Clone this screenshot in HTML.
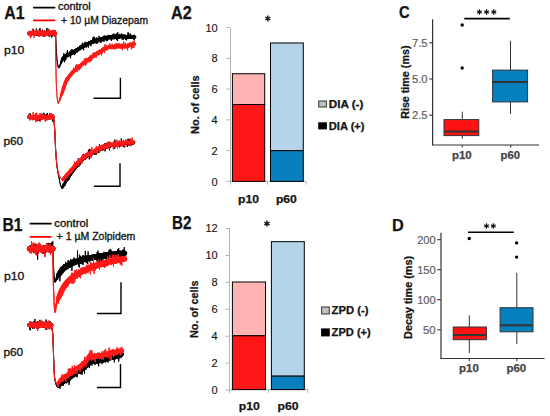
<!DOCTYPE html>
<html><head><meta charset="utf-8"><style>
html,body{margin:0;padding:0;background:#fff;width:550px;height:416px;overflow:hidden;}
body{position:relative;font-family:"Liberation Sans", sans-serif;}
</style></head><body>
<svg width="550" height="416" viewBox="0 0 550 416" style="position:absolute;left:0;top:0">
<g font-family="Liberation Sans, sans-serif">
<text x="4.3" y="18.9" font-size="17.6" font-weight="bold" fill="#141414" stroke="#141414" stroke-width="0.25" text-anchor="start" textLength="20.4" lengthAdjust="spacingAndGlyphs">A1</text>
<line x1="33.8" y1="7.6" x2="54.6" y2="7.6" stroke="#000" stroke-width="1.7" stroke-linecap="round"/>
<line x1="33.8" y1="20.4" x2="54.6" y2="20.4" stroke="#ff0000" stroke-width="1.7" stroke-linecap="round"/>
<text x="58.0" y="10.2" font-size="10.0" fill="#141414" stroke="#141414" stroke-width="0.32" text-anchor="start" textLength="32.7" lengthAdjust="spacingAndGlyphs">control</text>
<text x="61.0" y="23.5" font-size="10.0" fill="#141414" stroke="#141414" stroke-width="0.32" text-anchor="start" textLength="87" lengthAdjust="spacingAndGlyphs">+ 10 µM Diazepam</text>
<text x="3.9" y="54.2" font-size="11.4" fill="#141414" stroke="#141414" stroke-width="0.32" text-anchor="start" textLength="20.4" lengthAdjust="spacingAndGlyphs">p10</text>
<text x="3.4" y="145.4" font-size="11.4" fill="#141414" stroke="#141414" stroke-width="0.32" text-anchor="start" textLength="19.8" lengthAdjust="spacingAndGlyphs">p60</text>
<path d="M29.00,33.40 L29.20,33.40 L29.40,33.40 L29.60,33.40 L29.80,33.40 L30.00,33.40 L30.20,33.40 L30.40,33.40 L30.60,33.40 L30.80,33.40 L31.00,33.40" fill="none" stroke="#000" stroke-width="3.68" stroke-linecap="round" stroke-linejoin="round"/><path d="M31.00,33.40 L31.20,33.40 L31.40,33.40 L31.60,33.40 L31.80,33.40 L32.00,33.40 L32.20,33.40 L32.40,33.40 L32.60,33.40 L32.80,33.40 L33.00,33.40" fill="none" stroke="#000" stroke-width="3.68" stroke-linecap="round" stroke-linejoin="round"/><path d="M33.00,33.40 L33.20,33.40 L33.40,33.40 L33.60,33.40 L33.80,33.40 L34.00,33.40 L34.20,33.40 L34.40,33.40 L34.60,33.40 L34.80,33.40 L35.00,33.40" fill="none" stroke="#000" stroke-width="3.68" stroke-linecap="round" stroke-linejoin="round"/><path d="M35.00,33.40 L35.20,33.40 L35.40,33.40 L35.60,33.40 L35.80,33.40 L36.00,33.40 L36.20,33.40 L36.40,33.40 L36.60,33.40 L36.80,33.40 L37.00,33.40" fill="none" stroke="#000" stroke-width="3.68" stroke-linecap="round" stroke-linejoin="round"/><path d="M37.00,33.40 L37.20,33.40 L37.40,33.40 L37.60,33.40 L37.80,33.40 L38.00,33.40 L38.20,33.40 L38.40,33.40 L38.60,33.40 L38.80,33.40 L39.00,33.40" fill="none" stroke="#000" stroke-width="3.68" stroke-linecap="round" stroke-linejoin="round"/><path d="M39.00,33.40 L39.20,33.40 L39.40,33.40 L39.60,33.40 L39.80,33.40 L40.00,33.40 L40.20,33.40 L40.40,33.40 L40.60,33.40 L40.80,33.40 L41.00,33.40" fill="none" stroke="#000" stroke-width="3.68" stroke-linecap="round" stroke-linejoin="round"/><path d="M41.00,33.40 L41.20,33.40 L41.40,33.40 L41.60,33.40 L41.80,33.40 L42.00,33.40 L42.20,33.40 L42.40,33.40 L42.60,33.40 L42.80,33.40 L43.00,33.40" fill="none" stroke="#000" stroke-width="3.68" stroke-linecap="round" stroke-linejoin="round"/><path d="M43.00,33.40 L43.20,33.40 L43.40,33.40 L43.60,33.40 L43.80,33.40 L44.00,33.40 L44.20,33.40 L44.40,33.40 L44.60,33.40 L44.80,33.40 L45.00,33.40" fill="none" stroke="#000" stroke-width="3.68" stroke-linecap="round" stroke-linejoin="round"/><path d="M45.00,33.40 L45.20,33.40 L45.40,33.40 L45.60,33.40 L45.80,33.40 L46.00,33.40 L46.20,33.40 L46.40,33.40 L46.60,33.40 L46.80,33.40 L47.00,33.40" fill="none" stroke="#000" stroke-width="3.68" stroke-linecap="round" stroke-linejoin="round"/><path d="M47.00,33.40 L47.20,33.40 L47.40,33.40 L47.60,33.40 L47.80,33.40 L48.00,33.40 L48.20,33.40 L48.40,33.40 L48.60,33.40 L48.80,33.40 L49.00,33.40" fill="none" stroke="#000" stroke-width="3.68" stroke-linecap="round" stroke-linejoin="round"/><path d="M49.00,33.40 L49.20,33.40 L49.40,33.40 L49.60,33.40 L49.80,33.40 L50.00,33.40 L50.20,33.40 L50.40,33.40 L50.60,33.40 L50.80,33.40 L51.00,33.40" fill="none" stroke="#000" stroke-width="3.68" stroke-linecap="round" stroke-linejoin="round"/><path d="M51.00,33.40 L51.20,33.40 L51.40,33.40 L51.60,33.40 L51.80,33.40 L52.00,33.40 L52.20,33.40 L52.40,33.40 L52.60,33.40 L52.80,33.40 L53.00,33.40" fill="none" stroke="#000" stroke-width="3.68" stroke-linecap="round" stroke-linejoin="round"/><path d="M53.00,33.40 L53.20,33.40 L53.40,33.40 L53.60,33.40 L53.80,33.40 L54.00,33.40 L54.20,33.40 L54.40,33.40 L54.60,33.40 L54.80,33.40 L55.00,33.40" fill="none" stroke="#000" stroke-width="3.68" stroke-linecap="round" stroke-linejoin="round"/><path d="M55.00,33.40 L55.20,33.40 L55.40,33.40" fill="none" stroke="#000" stroke-width="3.68" stroke-linecap="round" stroke-linejoin="round"/><path d="M55.40,33.40 L55.60,33.40 L55.80,38.92 L56.00,43.96 L56.20,48.24 L56.40,51.59 L56.60,54.60" fill="none" stroke="#000" stroke-width="0.81" stroke-linecap="round" stroke-linejoin="round"/><path d="M56.60,54.60 L56.80,57.32 L57.00,59.68 L57.20,61.59 L57.40,63.00 L57.60,64.11 L57.80,65.14" fill="none" stroke="#000" stroke-width="0.81" stroke-linecap="round" stroke-linejoin="round"/><path d="M57.80,65.14 L58.00,66.05 L58.20,66.76 L58.40,67.23 L58.60,67.40 L58.80,67.36 L59.00,67.23" fill="none" stroke="#000" stroke-width="0.81" stroke-linecap="round" stroke-linejoin="round"/><path d="M59.00,67.23 L59.20,67.03 L59.40,66.75 L59.60,66.42 L59.80,66.03 L60.00,65.60 L60.20,65.13" fill="none" stroke="#000" stroke-width="1.29" stroke-linecap="round" stroke-linejoin="round"/><path d="M60.20,65.13 L60.40,64.62 L60.60,64.09 L60.80,63.54 L61.00,62.98 L61.20,62.42 L61.40,61.86" fill="none" stroke="#000" stroke-width="1.47" stroke-linecap="round" stroke-linejoin="round"/><path d="M61.40,61.86 L61.60,61.32 L61.80,60.79 L62.00,60.28 L62.20,59.81 L62.40,59.38 L62.60,59.00" fill="none" stroke="#000" stroke-width="2.58" stroke-linecap="round" stroke-linejoin="round"/><path d="M62.60,59.00 L62.80,58.67 L63.00,58.41 L63.20,58.20 L63.40,58.01 L63.60,57.83 L63.80,57.65" fill="none" stroke="#000" stroke-width="3.68" stroke-linecap="round" stroke-linejoin="round"/><path d="M63.80,57.65 L64.00,57.48 L64.20,57.31 L64.40,57.15 L64.60,57.00 L64.80,56.85 L65.00,56.70" fill="none" stroke="#000" stroke-width="3.68" stroke-linecap="round" stroke-linejoin="round"/><path d="M65.00,56.70 L65.20,56.56 L65.40,56.42 L65.60,56.29 L65.80,56.16 L66.00,56.04 L66.20,55.92" fill="none" stroke="#000" stroke-width="3.68" stroke-linecap="round" stroke-linejoin="round"/><path d="M66.20,55.92 L66.40,55.80 L66.60,55.69 L66.80,55.58 L67.00,55.47 L67.20,55.36 L67.40,55.26" fill="none" stroke="#000" stroke-width="3.68" stroke-linecap="round" stroke-linejoin="round"/><path d="M67.40,55.26 L67.60,55.15 L67.80,55.05 L68.00,54.95 L68.20,54.86 L68.40,54.76 L68.60,54.67" fill="none" stroke="#000" stroke-width="3.68" stroke-linecap="round" stroke-linejoin="round"/><path d="M68.60,54.67 L68.80,54.57 L69.00,54.48 L69.20,54.38 L69.40,54.29 L69.60,54.19 L69.80,54.10" fill="none" stroke="#000" stroke-width="3.68" stroke-linecap="round" stroke-linejoin="round"/><path d="M69.80,54.10 L70.00,54.01 L70.20,53.91 L70.40,53.81 L70.60,53.71 L70.80,53.62 L71.00,53.51" fill="none" stroke="#000" stroke-width="3.68" stroke-linecap="round" stroke-linejoin="round"/><path d="M71.00,53.51 L71.20,53.41 L71.40,53.31 L71.60,53.20 L71.80,53.09 L72.00,52.98 L72.20,52.86" fill="none" stroke="#000" stroke-width="3.68" stroke-linecap="round" stroke-linejoin="round"/><path d="M72.20,52.86 L72.40,52.74 L72.60,52.62 L72.80,52.50 L73.00,52.38 L73.20,52.26 L73.40,52.14" fill="none" stroke="#000" stroke-width="3.68" stroke-linecap="round" stroke-linejoin="round"/><path d="M73.40,52.14 L73.60,52.02 L73.80,51.90 L74.00,51.78 L74.20,51.66 L74.40,51.54 L74.60,51.42" fill="none" stroke="#000" stroke-width="3.68" stroke-linecap="round" stroke-linejoin="round"/><path d="M74.60,51.42 L74.80,51.30 L75.00,51.18 L75.20,51.05 L75.40,50.93 L75.60,50.81 L75.80,50.69" fill="none" stroke="#000" stroke-width="3.68" stroke-linecap="round" stroke-linejoin="round"/><path d="M75.80,50.69 L76.00,50.57 L76.20,50.45 L76.40,50.33 L76.60,50.21 L76.80,50.09 L77.00,49.97" fill="none" stroke="#000" stroke-width="3.68" stroke-linecap="round" stroke-linejoin="round"/><path d="M77.00,49.97 L77.20,49.85 L77.40,49.73 L77.60,49.61 L77.80,49.49 L78.00,49.37 L78.20,49.25" fill="none" stroke="#000" stroke-width="3.68" stroke-linecap="round" stroke-linejoin="round"/><path d="M78.20,49.25 L78.40,49.13 L78.60,49.01 L78.80,48.90 L79.00,48.78 L79.20,48.66 L79.40,48.54" fill="none" stroke="#000" stroke-width="3.68" stroke-linecap="round" stroke-linejoin="round"/><path d="M79.40,48.54 L79.60,48.43 L79.80,48.31 L80.00,48.20 L80.20,48.08 L80.40,47.97 L80.60,47.85" fill="none" stroke="#000" stroke-width="3.68" stroke-linecap="round" stroke-linejoin="round"/><path d="M80.60,47.85 L80.80,47.74 L81.00,47.62 L81.20,47.51 L81.40,47.40 L81.60,47.29 L81.80,47.18" fill="none" stroke="#000" stroke-width="3.68" stroke-linecap="round" stroke-linejoin="round"/><path d="M81.80,47.18 L82.00,47.06 L82.20,46.95 L82.40,46.84 L82.60,46.72 L82.80,46.61 L83.00,46.50" fill="none" stroke="#000" stroke-width="3.68" stroke-linecap="round" stroke-linejoin="round"/><path d="M83.00,46.50 L83.20,46.38 L83.40,46.27 L83.60,46.15 L83.80,46.04 L84.00,45.93 L84.20,45.81" fill="none" stroke="#000" stroke-width="3.68" stroke-linecap="round" stroke-linejoin="round"/><path d="M84.20,45.81 L84.40,45.70 L84.60,45.59 L84.80,45.47 L85.00,45.36 L85.20,45.25 L85.40,45.14" fill="none" stroke="#000" stroke-width="3.68" stroke-linecap="round" stroke-linejoin="round"/><path d="M85.40,45.14 L85.60,45.03 L85.80,44.92 L86.00,44.81 L86.20,44.70 L86.40,44.59 L86.60,44.48" fill="none" stroke="#000" stroke-width="3.68" stroke-linecap="round" stroke-linejoin="round"/><path d="M86.60,44.48 L86.80,44.37 L87.00,44.27 L87.20,44.16 L87.40,44.06 L87.60,43.95 L87.80,43.85" fill="none" stroke="#000" stroke-width="3.68" stroke-linecap="round" stroke-linejoin="round"/><path d="M87.80,43.85 L88.00,43.75 L88.20,43.65 L88.40,43.55 L88.60,43.45 L88.80,43.36 L89.00,43.26" fill="none" stroke="#000" stroke-width="3.68" stroke-linecap="round" stroke-linejoin="round"/><path d="M89.00,43.26 L89.20,43.17 L89.40,43.08 L89.60,42.99 L89.80,42.90 L90.00,42.81 L90.20,42.73" fill="none" stroke="#000" stroke-width="3.68" stroke-linecap="round" stroke-linejoin="round"/><path d="M90.20,42.73 L90.40,42.64 L90.60,42.56 L90.80,42.48 L91.00,42.40 L91.20,42.32 L91.40,42.24" fill="none" stroke="#000" stroke-width="3.68" stroke-linecap="round" stroke-linejoin="round"/><path d="M91.40,42.24 L91.60,42.16 L91.80,42.08 L92.00,42.00 L92.20,41.92 L92.40,41.85 L92.60,41.77" fill="none" stroke="#000" stroke-width="3.68" stroke-linecap="round" stroke-linejoin="round"/><path d="M92.60,41.77 L92.80,41.70 L93.00,41.62 L93.20,41.55 L93.40,41.48 L93.60,41.40 L93.80,41.33" fill="none" stroke="#000" stroke-width="3.68" stroke-linecap="round" stroke-linejoin="round"/><path d="M93.80,41.33 L94.00,41.26 L94.20,41.19 L94.40,41.12 L94.60,41.05 L94.80,40.98 L95.00,40.91" fill="none" stroke="#000" stroke-width="3.68" stroke-linecap="round" stroke-linejoin="round"/><path d="M95.00,40.91 L95.20,40.84 L95.40,40.78 L95.60,40.71 L95.80,40.65 L96.00,40.58 L96.20,40.52" fill="none" stroke="#000" stroke-width="3.68" stroke-linecap="round" stroke-linejoin="round"/><path d="M96.20,40.52 L96.40,40.45 L96.60,40.39 L96.80,40.33 L97.00,40.26 L97.20,40.20 L97.40,40.14" fill="none" stroke="#000" stroke-width="3.68" stroke-linecap="round" stroke-linejoin="round"/><path d="M97.40,40.14 L97.60,40.08 L97.80,40.02 L98.00,39.96 L98.20,39.90 L98.40,39.84 L98.60,39.79" fill="none" stroke="#000" stroke-width="3.68" stroke-linecap="round" stroke-linejoin="round"/><path d="M98.60,39.79 L98.80,39.73 L99.00,39.67 L99.20,39.62 L99.40,39.56 L99.60,39.51 L99.80,39.45" fill="none" stroke="#000" stroke-width="3.68" stroke-linecap="round" stroke-linejoin="round"/><path d="M99.80,39.45 L100.00,39.40 L100.20,39.35 L100.40,39.29 L100.60,39.24 L100.80,39.19 L101.00,39.13" fill="none" stroke="#000" stroke-width="3.68" stroke-linecap="round" stroke-linejoin="round"/><path d="M101.00,39.13 L101.20,39.08 L101.40,39.02 L101.60,38.97 L101.80,38.92 L102.00,38.86 L102.20,38.81" fill="none" stroke="#000" stroke-width="3.68" stroke-linecap="round" stroke-linejoin="round"/><path d="M102.20,38.81 L102.40,38.76 L102.60,38.70 L102.80,38.65 L103.00,38.60 L103.20,38.55 L103.40,38.50" fill="none" stroke="#000" stroke-width="3.68" stroke-linecap="round" stroke-linejoin="round"/><path d="M103.40,38.50 L103.60,38.44 L103.80,38.39 L104.00,38.34 L104.20,38.29 L104.40,38.24 L104.60,38.20" fill="none" stroke="#000" stroke-width="3.68" stroke-linecap="round" stroke-linejoin="round"/><path d="M104.60,38.20 L104.80,38.15 L105.00,38.10 L105.20,38.05 L105.40,38.01 L105.60,37.96 L105.80,37.92" fill="none" stroke="#000" stroke-width="3.68" stroke-linecap="round" stroke-linejoin="round"/><path d="M105.80,37.92 L106.00,37.87 L106.20,37.83 L106.40,37.79 L106.60,37.74 L106.80,37.70 L107.00,37.66" fill="none" stroke="#000" stroke-width="3.68" stroke-linecap="round" stroke-linejoin="round"/><path d="M107.00,37.66 L107.20,37.62 L107.40,37.59 L107.60,37.55 L107.80,37.51 L108.00,37.48 L108.20,37.45" fill="none" stroke="#000" stroke-width="3.68" stroke-linecap="round" stroke-linejoin="round"/><path d="M108.20,37.45 L108.40,37.41 L108.60,37.38 L108.80,37.35 L109.00,37.32 L109.20,37.30 L109.40,37.27" fill="none" stroke="#000" stroke-width="3.68" stroke-linecap="round" stroke-linejoin="round"/><path d="M109.40,37.27 L109.60,37.25 L109.80,37.22 L110.00,37.20 L110.20,37.18 L110.40,37.16 L110.60,37.14" fill="none" stroke="#000" stroke-width="3.68" stroke-linecap="round" stroke-linejoin="round"/><path d="M110.60,37.14 L110.80,37.12 L111.00,37.09 L111.20,37.07 L111.40,37.05 L111.60,37.03 L111.80,37.01" fill="none" stroke="#000" stroke-width="3.68" stroke-linecap="round" stroke-linejoin="round"/><path d="M111.80,37.01 L112.00,36.99 L112.20,36.97 L112.40,36.95 L112.60,36.93 L112.80,36.91 L113.00,36.89" fill="none" stroke="#000" stroke-width="3.68" stroke-linecap="round" stroke-linejoin="round"/><path d="M113.00,36.89 L113.20,36.87 L113.40,36.85 L113.60,36.84 L113.80,36.82 L114.00,36.80 L114.20,36.78" fill="none" stroke="#000" stroke-width="3.68" stroke-linecap="round" stroke-linejoin="round"/><path d="M114.20,36.78 L114.40,36.77 L114.60,36.75 L114.80,36.73 L115.00,36.72 L115.20,36.70 L115.40,36.69" fill="none" stroke="#000" stroke-width="3.68" stroke-linecap="round" stroke-linejoin="round"/><path d="M115.40,36.69 L115.60,36.67 L115.80,36.66 L116.00,36.64 L116.20,36.63 L116.40,36.62 L116.60,36.61" fill="none" stroke="#000" stroke-width="3.68" stroke-linecap="round" stroke-linejoin="round"/><path d="M116.60,36.61 L116.80,36.60 L117.00,36.58 L117.20,36.57 L117.40,36.56 L117.60,36.56 L117.80,36.55" fill="none" stroke="#000" stroke-width="3.68" stroke-linecap="round" stroke-linejoin="round"/><path d="M117.80,36.55 L118.00,36.54 L118.20,36.53 L118.40,36.53 L118.60,36.52 L118.80,36.51 L119.00,36.51" fill="none" stroke="#000" stroke-width="3.68" stroke-linecap="round" stroke-linejoin="round"/><path d="M119.00,36.51 L119.20,36.51 L119.40,36.50 L119.60,36.50 L119.80,36.50 L120.00,36.50 L120.20,36.50" fill="none" stroke="#000" stroke-width="3.68" stroke-linecap="round" stroke-linejoin="round"/><path d="M120.20,36.50 L120.40,36.50 L120.60,36.51 L120.80,36.51 L121.00,36.51 L121.20,36.52 L121.40,36.53" fill="none" stroke="#000" stroke-width="3.68" stroke-linecap="round" stroke-linejoin="round"/><path d="M121.40,36.53 L121.60,36.53 L121.80,36.54 L122.00,36.55 L122.20,36.56 L122.40,36.57 L122.60,36.58" fill="none" stroke="#000" stroke-width="3.68" stroke-linecap="round" stroke-linejoin="round"/><path d="M122.60,36.58 L122.80,36.60 L123.00,36.61 L123.20,36.62 L123.40,36.63 L123.60,36.65 L123.80,36.66" fill="none" stroke="#000" stroke-width="3.68" stroke-linecap="round" stroke-linejoin="round"/><path d="M123.80,36.66 L124.00,36.68 L124.20,36.69 L124.40,36.71 L124.60,36.72 L124.80,36.74 L125.00,36.75" fill="none" stroke="#000" stroke-width="3.68" stroke-linecap="round" stroke-linejoin="round"/><path d="M125.00,36.75 L125.20,36.76 L125.40,36.78 L125.60,36.79 L125.80,36.81 L126.00,36.82 L126.20,36.84" fill="none" stroke="#000" stroke-width="3.68" stroke-linecap="round" stroke-linejoin="round"/><path d="M126.20,36.84 L126.40,36.85 L126.60,36.87 L126.80,36.88 L127.00,36.89 L127.20,36.90 L127.40,36.92" fill="none" stroke="#000" stroke-width="3.68" stroke-linecap="round" stroke-linejoin="round"/><path d="M127.40,36.92 L127.60,36.93 L127.80,36.94 L128.00,36.95 L128.20,36.96 L128.40,36.97 L128.60,36.97" fill="none" stroke="#000" stroke-width="3.68" stroke-linecap="round" stroke-linejoin="round"/><path d="M128.60,36.97 L128.80,36.98 L129.00,36.99 L129.20,36.99 L129.40,36.99 L129.60,37.00 L129.80,37.00" fill="none" stroke="#000" stroke-width="3.68" stroke-linecap="round" stroke-linejoin="round"/><path d="M129.80,37.00 L130.00,37.00 L130.20,37.00 L130.40,37.00 L130.60,37.00 L130.80,37.00 L131.00,37.00" fill="none" stroke="#000" stroke-width="3.68" stroke-linecap="round" stroke-linejoin="round"/><path d="M131.00,37.00 L131.20,37.00 L131.40,37.00 L131.60,37.00 L131.80,37.00 L132.00,37.00 L132.20,37.00" fill="none" stroke="#000" stroke-width="3.68" stroke-linecap="round" stroke-linejoin="round"/><path d="M132.20,37.00 L132.40,37.00 L132.60,37.00 L132.80,37.00 L133.00,37.00 L133.20,37.00 L133.40,37.00" fill="none" stroke="#000" stroke-width="3.68" stroke-linecap="round" stroke-linejoin="round"/><path d="M133.40,37.00 L133.60,37.00 L133.80,37.00 L134.00,37.00 L134.20,37.00 L134.40,37.00 L134.60,37.00" fill="none" stroke="#000" stroke-width="3.68" stroke-linecap="round" stroke-linejoin="round"/>
<path d="M29.00,32.90 L29.20,35.21 L29.40,33.85 L29.60,31.01 L29.80,32.36 L30.00,33.69 L30.20,31.90 L30.40,34.79 L30.60,35.19 L30.80,32.98 L31.00,31.41 L31.20,30.97 L31.40,31.88 L31.60,32.35 L31.80,33.76 L32.00,33.65 L32.20,33.82 L32.40,34.90 L32.60,32.05 L32.80,34.86 L33.00,31.61 L33.20,28.78 L33.40,34.07 L33.60,31.43 L33.80,30.94 L34.00,32.86 L34.20,32.70 L34.40,34.00 L34.60,33.63 L34.80,32.67 L35.00,33.52 L35.20,30.45 L35.40,31.40 L35.60,32.13 L35.80,34.12 L36.00,31.33 L36.20,33.57 L36.40,28.62 L36.60,35.65 L36.80,32.09 L37.00,32.69 L37.20,35.78 L37.40,32.51 L37.60,34.69 L37.80,34.99 L38.00,35.18 L38.20,31.74 L38.40,31.42 L38.60,34.21 L38.80,36.87 L39.00,34.19 L39.20,34.21 L39.40,29.04 L39.60,34.22 L39.80,32.34 L40.00,28.07 L40.20,35.46 L40.40,30.67 L40.60,33.83 L40.80,32.92 L41.00,35.74 L41.20,33.53 L41.40,34.64 L41.60,34.24 L41.80,35.41 L42.00,32.00 L42.20,32.58 L42.40,29.65 L42.60,34.65 L42.80,32.64 L43.00,34.79 L43.20,32.60 L43.40,36.63 L43.60,33.07 L43.80,31.55 L44.00,36.11 L44.20,36.38 L44.40,36.88 L44.60,34.31 L44.80,31.25 L45.00,32.45 L45.20,34.01 L45.40,31.29 L45.60,32.70 L45.80,35.16 L46.00,34.52 L46.20,31.29 L46.40,32.28 L46.60,32.11 L46.80,30.91 L47.00,27.94 L47.20,34.72 L47.40,34.54 L47.60,34.18 L47.80,31.68 L48.00,34.58 L48.20,32.21 L48.40,28.81 L48.60,30.97 L48.80,32.37 L49.00,36.62 L49.20,36.61 L49.40,34.69 L49.60,33.96 L49.80,35.62 L50.00,33.79 L50.20,33.06 L50.40,34.22 L50.60,34.01 L50.80,36.31 L51.00,34.44 L51.20,35.29 L51.40,32.01 L51.60,37.41 L51.80,30.98 L52.00,36.73 L52.20,33.50 L52.40,31.39 L52.60,32.73 L52.80,36.05 L53.00,32.57 L53.20,31.84 L53.40,33.49 L53.60,33.95 L53.80,33.54 L54.00,29.89 L54.20,33.45 L54.40,33.45 L54.60,32.57 L54.80,31.98 L55.00,37.03 L55.20,33.41 L55.40,34.21 L55.60,32.87 L55.80,39.13 L56.00,43.97 L56.20,48.52 L56.40,51.82 L56.60,54.71 L56.80,57.45 L57.00,59.96 L57.20,61.57 L57.40,63.21 L57.60,64.31 L57.80,64.91 L58.00,66.88 L58.20,67.01 L58.40,67.79 L58.60,67.46 L58.80,68.22 L59.00,67.58 L59.20,67.48 L59.40,66.56 L59.60,66.85 L59.80,66.48 L60.00,65.98 L60.20,63.86 L60.40,63.47 L60.60,63.86 L60.80,61.76 L61.00,62.03 L61.20,63.92 L61.40,63.63 L61.60,59.56 L61.80,61.76 L62.00,59.11 L62.20,59.75 L62.40,58.71 L62.60,59.70 L62.80,60.85 L63.00,57.18 L63.20,58.31 L63.40,58.34 L63.60,57.32 L63.80,53.25 L64.00,55.56 L64.20,58.04 L64.40,62.31 L64.60,59.48 L64.80,54.83 L65.00,59.71 L65.20,60.97 L65.40,57.90 L65.60,55.88 L65.80,59.90 L66.00,54.58 L66.20,54.63 L66.40,52.77 L66.60,57.27 L66.80,56.83 L67.00,54.78 L67.20,56.67 L67.40,50.12 L67.60,56.51 L67.80,53.17 L68.00,56.43 L68.20,53.54 L68.40,53.36 L68.60,54.34 L68.80,55.28 L69.00,54.90 L69.20,54.67 L69.40,53.95 L69.60,52.22 L69.80,51.13 L70.00,53.55 L70.20,55.72 L70.40,57.62 L70.60,58.27 L70.80,51.49 L71.00,50.14 L71.20,51.25 L71.40,49.71 L71.60,53.08 L71.80,54.63 L72.00,49.20 L72.20,55.09 L72.40,51.99 L72.60,51.27 L72.80,53.62 L73.00,53.77 L73.20,50.70 L73.40,51.72 L73.60,51.80 L73.80,50.00 L74.00,49.80 L74.20,55.09 L74.40,55.02 L74.60,54.88 L74.80,53.77 L75.00,49.37 L75.20,54.20 L75.40,52.62 L75.60,52.60 L75.80,48.65 L76.00,48.43 L76.20,50.55 L76.40,48.84 L76.60,48.95 L76.80,51.68 L77.00,52.67 L77.20,48.56 L77.40,49.18 L77.60,51.13 L77.80,48.59 L78.00,47.19 L78.20,47.19 L78.40,51.23 L78.60,50.99 L78.80,48.48 L79.00,50.40 L79.20,47.87 L79.40,47.29 L79.60,46.47 L79.80,49.64 L80.00,45.18 L80.20,45.11 L80.40,48.42 L80.60,49.19 L80.80,47.65 L81.00,47.61 L81.20,46.51 L81.40,46.71 L81.60,45.11 L81.80,44.44 L82.00,45.83 L82.20,47.58 L82.40,42.74 L82.60,45.26 L82.80,46.05 L83.00,46.14 L83.20,45.41 L83.40,46.40 L83.60,50.28 L83.80,45.15 L84.00,44.73 L84.20,42.79 L84.40,45.47 L84.60,45.16 L84.80,47.66 L85.00,45.27 L85.20,41.78 L85.40,44.05 L85.60,44.96 L85.80,46.67 L86.00,43.47 L86.20,44.48 L86.40,44.82 L86.60,47.45 L86.80,46.89 L87.00,43.04 L87.20,43.24 L87.40,43.40 L87.60,44.41 L87.80,44.54 L88.00,46.43 L88.20,43.80 L88.40,47.55 L88.60,44.94 L88.80,41.11 L89.00,41.48 L89.20,41.25 L89.40,44.19 L89.60,43.19 L89.80,44.09 L90.00,41.62 L90.20,42.94 L90.40,41.21 L90.60,40.26 L90.80,45.54 L91.00,46.30 L91.20,40.32 L91.40,41.80 L91.60,42.01 L91.80,42.64 L92.00,41.93 L92.20,43.24 L92.40,41.26 L92.60,38.62 L92.80,41.57 L93.00,43.30 L93.20,36.83 L93.40,40.41 L93.60,42.37 L93.80,43.56 L94.00,39.18 L94.20,36.67 L94.40,42.79 L94.60,40.36 L94.80,40.23 L95.00,41.16 L95.20,39.31 L95.40,42.89 L95.60,38.39 L95.80,40.95 L96.00,38.07 L96.20,43.89 L96.40,38.69 L96.60,41.93 L96.80,37.39 L97.00,40.72 L97.20,38.43 L97.40,40.97 L97.60,43.44 L97.80,39.00 L98.00,41.62 L98.20,41.65 L98.40,42.31 L98.60,40.31 L98.80,38.52 L99.00,35.86 L99.20,37.41 L99.40,37.34 L99.60,39.68 L99.80,39.54 L100.00,38.30 L100.20,42.25 L100.40,37.63 L100.60,38.97 L100.80,43.02 L101.00,39.12 L101.20,39.57 L101.40,38.20 L101.60,41.62 L101.80,38.20 L102.00,38.88 L102.20,38.97 L102.40,41.22 L102.60,39.87 L102.80,37.56 L103.00,36.45 L103.20,36.86 L103.40,40.61 L103.60,38.92 L103.80,37.07 L104.00,41.86 L104.20,35.50 L104.40,37.93 L104.60,39.14 L104.80,38.60 L105.00,36.16 L105.20,35.64 L105.40,40.12 L105.60,39.21 L105.80,39.56 L106.00,37.39 L106.20,40.72 L106.40,39.21 L106.60,39.47 L106.80,41.19 L107.00,36.76 L107.20,40.82 L107.40,38.39 L107.60,40.71 L107.80,36.83 L108.00,34.92 L108.20,39.08 L108.40,36.87 L108.60,39.45 L108.80,38.52 L109.00,35.75 L109.20,36.32 L109.40,36.91 L109.60,38.32 L109.80,35.47 L110.00,39.53 L110.20,39.03 L110.40,37.96 L110.60,35.07 L110.80,38.29 L111.00,39.78 L111.20,35.77 L111.40,40.93 L111.60,35.79 L111.80,35.02 L112.00,39.73 L112.20,38.44 L112.40,34.29 L112.60,37.23 L112.80,36.86 L113.00,38.86 L113.20,37.55 L113.40,35.35 L113.60,38.96 L113.80,33.56 L114.00,39.51 L114.20,36.59 L114.40,35.56 L114.60,37.10 L114.80,36.94 L115.00,37.87 L115.20,33.89 L115.40,36.37 L115.60,38.55 L115.80,39.04 L116.00,35.71 L116.20,38.14 L116.40,38.10 L116.60,40.12 L116.80,33.36 L117.00,38.20 L117.20,34.78 L117.40,37.78 L117.60,40.82 L117.80,32.28 L118.00,34.92 L118.20,38.69 L118.40,38.66 L118.60,37.84 L118.80,37.89 L119.00,37.00 L119.20,38.02 L119.40,37.92 L119.60,38.84 L119.80,33.93 L120.00,36.96 L120.20,35.29 L120.40,37.38 L120.60,37.35 L120.80,34.66 L121.00,36.89 L121.20,36.43 L121.40,35.23 L121.60,33.50 L121.80,38.07 L122.00,36.70 L122.20,39.69 L122.40,37.74 L122.60,37.84 L122.80,37.64 L123.00,34.24 L123.20,36.92 L123.40,39.89 L123.60,36.54 L123.80,36.59 L124.00,37.24 L124.20,37.66 L124.40,35.81 L124.60,37.82 L124.80,34.64 L125.00,36.42 L125.20,34.58 L125.40,36.96 L125.60,39.75 L125.80,35.50 L126.00,39.48 L126.20,36.76 L126.40,39.80 L126.60,40.40 L126.80,37.79 L127.00,35.75 L127.20,36.41 L127.40,38.85 L127.60,36.97 L127.80,37.42 L128.00,32.30 L128.20,38.39 L128.40,32.87 L128.60,37.48 L128.80,34.49 L129.00,35.57 L129.20,38.25 L129.40,38.96 L129.60,34.81 L129.80,35.77 L130.00,35.26 L130.20,33.45 L130.40,35.83 L130.60,37.86 L130.80,34.60 L131.00,38.93 L131.20,36.32 L131.40,35.30 L131.60,37.66 L131.80,38.44 L132.00,37.56 L132.20,37.43 L132.40,38.16 L132.60,35.96 L132.80,36.29 L133.00,37.25 L133.20,37.30 L133.40,37.04 L133.60,36.82 L133.80,39.63 L134.00,34.77 L134.20,35.15 L134.40,40.49 L134.60,35.48" fill="none" stroke="#000" stroke-width="1.0" stroke-linejoin="round"/>
<path d="M29.00,33.40 L29.20,33.40 L29.40,33.40 L29.60,33.40 L29.80,33.40 L30.00,33.40 L30.20,33.40 L30.40,33.40 L30.60,33.40 L30.80,33.40 L31.00,33.40" fill="none" stroke="#ff1a1a" stroke-width="3.68" stroke-linecap="round" stroke-linejoin="round"/><path d="M31.00,33.40 L31.20,33.40 L31.40,33.40 L31.60,33.40 L31.80,33.40 L32.00,33.40 L32.20,33.40 L32.40,33.40 L32.60,33.40 L32.80,33.40 L33.00,33.40" fill="none" stroke="#ff1a1a" stroke-width="3.68" stroke-linecap="round" stroke-linejoin="round"/><path d="M33.00,33.40 L33.20,33.40 L33.40,33.40 L33.60,33.40 L33.80,33.40 L34.00,33.40 L34.20,33.40 L34.40,33.40 L34.60,33.40 L34.80,33.40 L35.00,33.40" fill="none" stroke="#ff1a1a" stroke-width="3.68" stroke-linecap="round" stroke-linejoin="round"/><path d="M35.00,33.40 L35.20,33.40 L35.40,33.40 L35.60,33.40 L35.80,33.40 L36.00,33.40 L36.20,33.40 L36.40,33.40 L36.60,33.40 L36.80,33.40 L37.00,33.40" fill="none" stroke="#ff1a1a" stroke-width="3.68" stroke-linecap="round" stroke-linejoin="round"/><path d="M37.00,33.40 L37.20,33.40 L37.40,33.40 L37.60,33.40 L37.80,33.40 L38.00,33.40 L38.20,33.40 L38.40,33.40 L38.60,33.40 L38.80,33.40 L39.00,33.40" fill="none" stroke="#ff1a1a" stroke-width="3.68" stroke-linecap="round" stroke-linejoin="round"/><path d="M39.00,33.40 L39.20,33.40 L39.40,33.40 L39.60,33.40 L39.80,33.40 L40.00,33.40 L40.20,33.40 L40.40,33.40 L40.60,33.40 L40.80,33.40 L41.00,33.40" fill="none" stroke="#ff1a1a" stroke-width="3.68" stroke-linecap="round" stroke-linejoin="round"/><path d="M41.00,33.40 L41.20,33.40 L41.40,33.40 L41.60,33.40 L41.80,33.40 L42.00,33.40 L42.20,33.40 L42.40,33.40 L42.60,33.40 L42.80,33.40 L43.00,33.40" fill="none" stroke="#ff1a1a" stroke-width="3.68" stroke-linecap="round" stroke-linejoin="round"/><path d="M43.00,33.40 L43.20,33.40 L43.40,33.40 L43.60,33.40 L43.80,33.40 L44.00,33.40 L44.20,33.40 L44.40,33.40 L44.60,33.40 L44.80,33.40 L45.00,33.40" fill="none" stroke="#ff1a1a" stroke-width="3.68" stroke-linecap="round" stroke-linejoin="round"/><path d="M45.00,33.40 L45.20,33.40 L45.40,33.40 L45.60,33.40 L45.80,33.40 L46.00,33.40 L46.20,33.40 L46.40,33.40 L46.60,33.40 L46.80,33.40 L47.00,33.40" fill="none" stroke="#ff1a1a" stroke-width="3.68" stroke-linecap="round" stroke-linejoin="round"/><path d="M47.00,33.40 L47.20,33.40 L47.40,33.40 L47.60,33.40 L47.80,33.40 L48.00,33.40 L48.20,33.40 L48.40,33.40 L48.60,33.40 L48.80,33.40 L49.00,33.40" fill="none" stroke="#ff1a1a" stroke-width="3.68" stroke-linecap="round" stroke-linejoin="round"/><path d="M49.00,33.40 L49.20,33.40 L49.40,33.40 L49.60,33.40 L49.80,33.40 L50.00,33.40 L50.20,33.40 L50.40,33.40 L50.60,33.40 L50.80,33.40 L51.00,33.40" fill="none" stroke="#ff1a1a" stroke-width="3.68" stroke-linecap="round" stroke-linejoin="round"/><path d="M51.00,33.40 L51.20,33.40 L51.40,33.40 L51.60,33.40 L51.80,33.40 L52.00,33.40 L52.20,33.40 L52.40,33.40 L52.60,33.40 L52.80,33.40 L53.00,33.40" fill="none" stroke="#ff1a1a" stroke-width="3.68" stroke-linecap="round" stroke-linejoin="round"/><path d="M53.00,33.40 L53.20,33.40 L53.40,33.40 L53.60,33.40 L53.80,33.40 L54.00,33.40 L54.20,33.40 L54.40,33.40 L54.60,33.40 L54.80,33.40 L55.00,33.40" fill="none" stroke="#ff1a1a" stroke-width="3.68" stroke-linecap="round" stroke-linejoin="round"/><path d="M55.00,33.40 L55.20,33.40 L55.40,33.40" fill="none" stroke="#ff1a1a" stroke-width="3.68" stroke-linecap="round" stroke-linejoin="round"/><path d="M55.40,33.40 L55.60,33.40 L55.80,60.00 L56.00,71.53 L56.20,80.06 L56.40,86.06 L56.60,90.00" fill="none" stroke="#ff1a1a" stroke-width="0.81" stroke-linecap="round" stroke-linejoin="round"/><path d="M56.60,90.00 L56.80,92.94 L57.00,95.60 L57.20,97.91 L57.40,99.83 L57.60,101.27 L57.80,102.18" fill="none" stroke="#ff1a1a" stroke-width="0.81" stroke-linecap="round" stroke-linejoin="round"/><path d="M57.80,102.18 L58.00,102.50 L58.20,102.45 L58.40,102.32 L58.60,102.10 L58.80,101.81 L59.00,101.45" fill="none" stroke="#ff1a1a" stroke-width="0.81" stroke-linecap="round" stroke-linejoin="round"/><path d="M59.00,101.45 L59.20,101.03 L59.40,100.57 L59.60,100.06 L59.80,99.51 L60.00,98.94 L60.20,98.34" fill="none" stroke="#ff1a1a" stroke-width="1.47" stroke-linecap="round" stroke-linejoin="round"/><path d="M60.20,98.34 L60.40,97.73 L60.60,97.12 L60.80,96.51 L61.00,95.91 L61.20,95.33 L61.40,94.77" fill="none" stroke="#ff1a1a" stroke-width="2.02" stroke-linecap="round" stroke-linejoin="round"/><path d="M61.40,94.77 L61.60,94.23 L61.80,93.68 L62.00,93.11 L62.20,92.52 L62.40,91.91 L62.60,91.29" fill="none" stroke="#ff1a1a" stroke-width="3.13" stroke-linecap="round" stroke-linejoin="round"/><path d="M62.60,91.29 L62.80,90.67 L63.00,90.05 L63.20,89.42 L63.40,88.81 L63.60,88.19 L63.80,87.56" fill="none" stroke="#ff1a1a" stroke-width="3.68" stroke-linecap="round" stroke-linejoin="round"/><path d="M63.80,87.56 L64.00,86.92 L64.20,86.28 L64.40,85.66 L64.60,85.06 L64.80,84.50 L65.00,83.97" fill="none" stroke="#ff1a1a" stroke-width="3.68" stroke-linecap="round" stroke-linejoin="round"/><path d="M65.00,83.97 L65.20,83.45 L65.40,82.94 L65.60,82.45 L65.80,81.97 L66.00,81.52 L66.20,81.09" fill="none" stroke="#ff1a1a" stroke-width="3.68" stroke-linecap="round" stroke-linejoin="round"/><path d="M66.20,81.09 L66.40,80.69 L66.60,80.32 L66.80,79.96 L67.00,79.63 L67.20,79.31 L67.40,79.00" fill="none" stroke="#ff1a1a" stroke-width="3.68" stroke-linecap="round" stroke-linejoin="round"/><path d="M67.40,79.00 L67.60,78.71 L67.80,78.42 L68.00,78.14 L68.20,77.86 L68.40,77.58 L68.60,77.30" fill="none" stroke="#ff1a1a" stroke-width="3.68" stroke-linecap="round" stroke-linejoin="round"/><path d="M68.60,77.30 L68.80,77.02 L69.00,76.74 L69.20,76.46 L69.40,76.18 L69.60,75.91 L69.80,75.63" fill="none" stroke="#ff1a1a" stroke-width="3.68" stroke-linecap="round" stroke-linejoin="round"/><path d="M69.80,75.63 L70.00,75.37 L70.20,75.10 L70.40,74.84 L70.60,74.59 L70.80,74.33 L71.00,74.09" fill="none" stroke="#ff1a1a" stroke-width="3.68" stroke-linecap="round" stroke-linejoin="round"/><path d="M71.00,74.09 L71.20,73.85 L71.40,73.61 L71.60,73.39 L71.80,73.16 L72.00,72.94 L72.20,72.73" fill="none" stroke="#ff1a1a" stroke-width="3.68" stroke-linecap="round" stroke-linejoin="round"/><path d="M72.20,72.73 L72.40,72.52 L72.60,72.31 L72.80,72.11 L73.00,71.91 L73.20,71.71 L73.40,71.51" fill="none" stroke="#ff1a1a" stroke-width="3.68" stroke-linecap="round" stroke-linejoin="round"/><path d="M73.40,71.51 L73.60,71.32 L73.80,71.12 L74.00,70.93 L74.20,70.75 L74.40,70.56 L74.60,70.37" fill="none" stroke="#ff1a1a" stroke-width="3.68" stroke-linecap="round" stroke-linejoin="round"/><path d="M74.60,70.37 L74.80,70.19 L75.00,70.00 L75.20,69.82 L75.40,69.63 L75.60,69.45 L75.80,69.27" fill="none" stroke="#ff1a1a" stroke-width="3.68" stroke-linecap="round" stroke-linejoin="round"/><path d="M75.80,69.27 L76.00,69.10 L76.20,68.92 L76.40,68.75 L76.60,68.57 L76.80,68.40 L77.00,68.23" fill="none" stroke="#ff1a1a" stroke-width="3.68" stroke-linecap="round" stroke-linejoin="round"/><path d="M77.00,68.23 L77.20,68.06 L77.40,67.90 L77.60,67.73 L77.80,67.56 L78.00,67.40 L78.20,67.24" fill="none" stroke="#ff1a1a" stroke-width="3.68" stroke-linecap="round" stroke-linejoin="round"/><path d="M78.20,67.24 L78.40,67.08 L78.60,66.92 L78.80,66.76 L79.00,66.60 L79.20,66.44 L79.40,66.28" fill="none" stroke="#ff1a1a" stroke-width="3.68" stroke-linecap="round" stroke-linejoin="round"/><path d="M79.40,66.28 L79.60,66.13 L79.80,65.98 L80.00,65.82 L80.20,65.67 L80.40,65.52 L80.60,65.37" fill="none" stroke="#ff1a1a" stroke-width="3.68" stroke-linecap="round" stroke-linejoin="round"/><path d="M80.60,65.37 L80.80,65.21 L81.00,65.06 L81.20,64.91 L81.40,64.76 L81.60,64.61 L81.80,64.47" fill="none" stroke="#ff1a1a" stroke-width="3.68" stroke-linecap="round" stroke-linejoin="round"/><path d="M81.80,64.47 L82.00,64.32 L82.20,64.17 L82.40,64.02 L82.60,63.87 L82.80,63.72 L83.00,63.57" fill="none" stroke="#ff1a1a" stroke-width="3.68" stroke-linecap="round" stroke-linejoin="round"/><path d="M83.00,63.57 L83.20,63.43 L83.40,63.28 L83.60,63.13 L83.80,62.98 L84.00,62.83 L84.20,62.68" fill="none" stroke="#ff1a1a" stroke-width="3.68" stroke-linecap="round" stroke-linejoin="round"/><path d="M84.20,62.68 L84.40,62.53 L84.60,62.38 L84.80,62.22 L85.00,62.07 L85.20,61.92 L85.40,61.77" fill="none" stroke="#ff1a1a" stroke-width="3.68" stroke-linecap="round" stroke-linejoin="round"/><path d="M85.40,61.77 L85.60,61.61 L85.80,61.46 L86.00,61.30 L86.20,61.15 L86.40,61.00 L86.60,60.84" fill="none" stroke="#ff1a1a" stroke-width="3.68" stroke-linecap="round" stroke-linejoin="round"/><path d="M86.60,60.84 L86.80,60.69 L87.00,60.53 L87.20,60.38 L87.40,60.22 L87.60,60.07 L87.80,59.91" fill="none" stroke="#ff1a1a" stroke-width="3.68" stroke-linecap="round" stroke-linejoin="round"/><path d="M87.80,59.91 L88.00,59.76 L88.20,59.61 L88.40,59.45 L88.60,59.30 L88.80,59.15 L89.00,59.00" fill="none" stroke="#ff1a1a" stroke-width="3.68" stroke-linecap="round" stroke-linejoin="round"/><path d="M89.00,59.00 L89.20,58.84 L89.40,58.69 L89.60,58.54 L89.80,58.39 L90.00,58.25 L90.20,58.10" fill="none" stroke="#ff1a1a" stroke-width="3.68" stroke-linecap="round" stroke-linejoin="round"/><path d="M90.20,58.10 L90.40,57.95 L90.60,57.80 L90.80,57.66 L91.00,57.51 L91.20,57.37 L91.40,57.23" fill="none" stroke="#ff1a1a" stroke-width="3.68" stroke-linecap="round" stroke-linejoin="round"/><path d="M91.40,57.23 L91.60,57.09 L91.80,56.94 L92.00,56.80 L92.20,56.66 L92.40,56.51 L92.60,56.37" fill="none" stroke="#ff1a1a" stroke-width="3.68" stroke-linecap="round" stroke-linejoin="round"/><path d="M92.60,56.37 L92.80,56.23 L93.00,56.08 L93.20,55.94 L93.40,55.80 L93.60,55.65 L93.80,55.51" fill="none" stroke="#ff1a1a" stroke-width="3.68" stroke-linecap="round" stroke-linejoin="round"/><path d="M93.80,55.51 L94.00,55.37 L94.20,55.23 L94.40,55.09 L94.60,54.94 L94.80,54.80 L95.00,54.66" fill="none" stroke="#ff1a1a" stroke-width="3.68" stroke-linecap="round" stroke-linejoin="round"/><path d="M95.00,54.66 L95.20,54.52 L95.40,54.39 L95.60,54.25 L95.80,54.11 L96.00,53.97 L96.20,53.84" fill="none" stroke="#ff1a1a" stroke-width="3.68" stroke-linecap="round" stroke-linejoin="round"/><path d="M96.20,53.84 L96.40,53.70 L96.60,53.57 L96.80,53.44 L97.00,53.31 L97.20,53.18 L97.40,53.05" fill="none" stroke="#ff1a1a" stroke-width="3.68" stroke-linecap="round" stroke-linejoin="round"/><path d="M97.40,53.05 L97.60,52.92 L97.80,52.79 L98.00,52.67 L98.20,52.54 L98.40,52.42 L98.60,52.30" fill="none" stroke="#ff1a1a" stroke-width="3.68" stroke-linecap="round" stroke-linejoin="round"/><path d="M98.60,52.30 L98.80,52.18 L99.00,52.06 L99.20,51.95 L99.40,51.83 L99.60,51.72 L99.80,51.61" fill="none" stroke="#ff1a1a" stroke-width="3.68" stroke-linecap="round" stroke-linejoin="round"/><path d="M99.80,51.61 L100.00,51.50 L100.20,51.39 L100.40,51.28 L100.60,51.17 L100.80,51.06 L101.00,50.95" fill="none" stroke="#ff1a1a" stroke-width="3.68" stroke-linecap="round" stroke-linejoin="round"/><path d="M101.00,50.95 L101.20,50.83 L101.40,50.72 L101.60,50.60 L101.80,50.49 L102.00,50.38 L102.20,50.26" fill="none" stroke="#ff1a1a" stroke-width="3.68" stroke-linecap="round" stroke-linejoin="round"/><path d="M102.20,50.26 L102.40,50.14 L102.60,50.03 L102.80,49.92 L103.00,49.80 L103.20,49.69 L103.40,49.57" fill="none" stroke="#ff1a1a" stroke-width="3.68" stroke-linecap="round" stroke-linejoin="round"/><path d="M103.40,49.57 L103.60,49.46 L103.80,49.35 L104.00,49.24 L104.20,49.13 L104.40,49.02 L104.60,48.92" fill="none" stroke="#ff1a1a" stroke-width="3.68" stroke-linecap="round" stroke-linejoin="round"/><path d="M104.60,48.92 L104.80,48.81 L105.00,48.71 L105.20,48.61 L105.40,48.51 L105.60,48.41 L105.80,48.31" fill="none" stroke="#ff1a1a" stroke-width="3.68" stroke-linecap="round" stroke-linejoin="round"/><path d="M105.80,48.31 L106.00,48.22 L106.20,48.13 L106.40,48.04 L106.60,47.95 L106.80,47.87 L107.00,47.79" fill="none" stroke="#ff1a1a" stroke-width="3.68" stroke-linecap="round" stroke-linejoin="round"/><path d="M107.00,47.79 L107.20,47.71 L107.40,47.64 L107.60,47.56 L107.80,47.50 L108.00,47.43 L108.20,47.37" fill="none" stroke="#ff1a1a" stroke-width="3.68" stroke-linecap="round" stroke-linejoin="round"/><path d="M108.20,47.37 L108.40,47.31 L108.60,47.26 L108.80,47.21 L109.00,47.16 L109.20,47.12 L109.40,47.08" fill="none" stroke="#ff1a1a" stroke-width="3.68" stroke-linecap="round" stroke-linejoin="round"/><path d="M109.40,47.08 L109.60,47.05 L109.80,47.02 L110.00,47.00 L110.20,46.98 L110.40,46.96 L110.60,46.94" fill="none" stroke="#ff1a1a" stroke-width="3.68" stroke-linecap="round" stroke-linejoin="round"/><path d="M110.60,46.94 L110.80,46.92 L111.00,46.90 L111.20,46.89 L111.40,46.87 L111.60,46.85 L111.80,46.84" fill="none" stroke="#ff1a1a" stroke-width="3.68" stroke-linecap="round" stroke-linejoin="round"/><path d="M111.80,46.84 L112.00,46.82 L112.20,46.81 L112.40,46.79 L112.60,46.78 L112.80,46.76 L113.00,46.75" fill="none" stroke="#ff1a1a" stroke-width="3.68" stroke-linecap="round" stroke-linejoin="round"/><path d="M113.00,46.75 L113.20,46.74 L113.40,46.73 L113.60,46.72 L113.80,46.70 L114.00,46.69 L114.20,46.68" fill="none" stroke="#ff1a1a" stroke-width="3.68" stroke-linecap="round" stroke-linejoin="round"/><path d="M114.20,46.68 L114.40,46.67 L114.60,46.66 L114.80,46.65 L115.00,46.64 L115.20,46.63 L115.40,46.62" fill="none" stroke="#ff1a1a" stroke-width="3.68" stroke-linecap="round" stroke-linejoin="round"/><path d="M115.40,46.62 L115.60,46.61 L115.80,46.60 L116.00,46.59 L116.20,46.58 L116.40,46.58 L116.60,46.57" fill="none" stroke="#ff1a1a" stroke-width="3.68" stroke-linecap="round" stroke-linejoin="round"/><path d="M116.60,46.57 L116.80,46.56 L117.00,46.55 L117.20,46.54 L117.40,46.53 L117.60,46.52 L117.80,46.51" fill="none" stroke="#ff1a1a" stroke-width="3.68" stroke-linecap="round" stroke-linejoin="round"/><path d="M117.80,46.51 L118.00,46.50 L118.20,46.49 L118.40,46.48 L118.60,46.47 L118.80,46.46 L119.00,46.45" fill="none" stroke="#ff1a1a" stroke-width="3.68" stroke-linecap="round" stroke-linejoin="round"/><path d="M119.00,46.45 L119.20,46.44 L119.40,46.43 L119.60,46.42 L119.80,46.41 L120.00,46.40 L120.20,46.39" fill="none" stroke="#ff1a1a" stroke-width="3.68" stroke-linecap="round" stroke-linejoin="round"/><path d="M120.20,46.39 L120.40,46.38 L120.60,46.37 L120.80,46.36 L121.00,46.35 L121.20,46.34 L121.40,46.33" fill="none" stroke="#ff1a1a" stroke-width="3.68" stroke-linecap="round" stroke-linejoin="round"/><path d="M121.40,46.33 L121.60,46.32 L121.80,46.31 L122.00,46.30 L122.20,46.30 L122.40,46.29 L122.60,46.28" fill="none" stroke="#ff1a1a" stroke-width="3.68" stroke-linecap="round" stroke-linejoin="round"/><path d="M122.60,46.28 L122.80,46.27 L123.00,46.26 L123.20,46.25 L123.40,46.25 L123.60,46.24 L123.80,46.23" fill="none" stroke="#ff1a1a" stroke-width="3.68" stroke-linecap="round" stroke-linejoin="round"/><path d="M123.80,46.23 L124.00,46.22 L124.20,46.21 L124.40,46.20 L124.60,46.19 L124.80,46.18 L125.00,46.16" fill="none" stroke="#ff1a1a" stroke-width="3.68" stroke-linecap="round" stroke-linejoin="round"/><path d="M125.00,46.16 L125.20,46.15 L125.40,46.14 L125.60,46.12 L125.80,46.11 L126.00,46.09 L126.20,46.08" fill="none" stroke="#ff1a1a" stroke-width="3.68" stroke-linecap="round" stroke-linejoin="round"/><path d="M126.20,46.08 L126.40,46.06 L126.60,46.04 L126.80,46.02 L127.00,46.00 L127.20,45.97 L127.40,45.93" fill="none" stroke="#ff1a1a" stroke-width="3.68" stroke-linecap="round" stroke-linejoin="round"/><path d="M127.40,45.93 L127.60,45.88 L127.80,45.82 L128.00,45.74 L128.20,45.67 L128.40,45.58 L128.60,45.49" fill="none" stroke="#ff1a1a" stroke-width="3.68" stroke-linecap="round" stroke-linejoin="round"/><path d="M128.60,45.49 L128.80,45.40 L129.00,45.30 L129.20,45.20 L129.40,45.11 L129.60,45.01 L129.80,44.92" fill="none" stroke="#ff1a1a" stroke-width="3.68" stroke-linecap="round" stroke-linejoin="round"/><path d="M129.80,44.92 L130.00,44.83 L130.20,44.75 L130.40,44.67 L130.60,44.60 L130.80,44.55 L131.00,44.50" fill="none" stroke="#ff1a1a" stroke-width="3.68" stroke-linecap="round" stroke-linejoin="round"/><path d="M131.00,44.50 L131.20,44.46 L131.40,44.42 L131.60,44.38 L131.80,44.34 L132.00,44.30 L132.20,44.27" fill="none" stroke="#ff1a1a" stroke-width="3.68" stroke-linecap="round" stroke-linejoin="round"/><path d="M132.20,44.27 L132.40,44.23 L132.60,44.20 L132.80,44.17 L133.00,44.14 L133.20,44.11 L133.40,44.09" fill="none" stroke="#ff1a1a" stroke-width="3.68" stroke-linecap="round" stroke-linejoin="round"/><path d="M133.40,44.09 L133.60,44.06 L133.80,44.04 L134.00,44.03 L134.20,44.01 L134.40,44.00" fill="none" stroke="#ff1a1a" stroke-width="3.68" stroke-linecap="round" stroke-linejoin="round"/>
<path d="M29.00,30.54 L29.20,33.97 L29.40,36.27 L29.60,34.87 L29.80,35.19 L30.00,33.32 L30.20,33.06 L30.40,31.51 L30.60,38.27 L30.80,32.53 L31.00,32.66 L31.20,32.26 L31.40,36.57 L31.60,36.50 L31.80,30.94 L32.00,34.78 L32.20,33.94 L32.40,28.88 L32.60,31.46 L32.80,32.42 L33.00,32.93 L33.20,32.45 L33.40,34.57 L33.60,33.42 L33.80,33.92 L34.00,38.10 L34.20,36.48 L34.40,32.05 L34.60,34.82 L34.80,31.63 L35.00,31.52 L35.20,35.72 L35.40,31.33 L35.60,32.26 L35.80,33.88 L36.00,31.99 L36.20,34.09 L36.40,29.95 L36.60,34.77 L36.80,31.34 L37.00,31.72 L37.20,32.92 L37.40,34.09 L37.60,29.91 L37.80,33.13 L38.00,34.36 L38.20,32.61 L38.40,33.81 L38.60,36.70 L38.80,30.71 L39.00,33.40 L39.20,36.05 L39.40,34.76 L39.60,31.43 L39.80,30.24 L40.00,33.70 L40.20,32.19 L40.40,34.00 L40.60,33.54 L40.80,35.62 L41.00,29.96 L41.20,34.62 L41.40,32.54 L41.60,31.20 L41.80,32.75 L42.00,36.25 L42.20,34.49 L42.40,34.53 L42.60,30.97 L42.80,30.58 L43.00,33.14 L43.20,36.20 L43.40,32.43 L43.60,33.15 L43.80,36.29 L44.00,33.41 L44.20,32.67 L44.40,29.91 L44.60,32.01 L44.80,34.47 L45.00,37.00 L45.20,30.67 L45.40,32.35 L45.60,32.04 L45.80,33.56 L46.00,34.76 L46.20,35.84 L46.40,35.59 L46.60,33.27 L46.80,36.03 L47.00,35.65 L47.20,35.26 L47.40,31.18 L47.60,34.73 L47.80,33.23 L48.00,35.28 L48.20,29.26 L48.40,32.88 L48.60,34.43 L48.80,31.80 L49.00,34.70 L49.20,33.60 L49.40,34.03 L49.60,29.59 L49.80,33.43 L50.00,31.73 L50.20,35.84 L50.40,34.67 L50.60,31.63 L50.80,30.41 L51.00,35.17 L51.20,35.00 L51.40,30.08 L51.60,35.59 L51.80,33.40 L52.00,32.31 L52.20,35.20 L52.40,33.28 L52.60,32.35 L52.80,29.92 L53.00,32.70 L53.20,32.89 L53.40,35.01 L53.60,31.56 L53.80,30.38 L54.00,36.10 L54.20,30.87 L54.40,31.30 L54.60,33.07 L54.80,30.87 L55.00,33.48 L55.20,29.96 L55.40,31.98 L55.60,33.15 L55.80,60.40 L56.00,70.99 L56.20,80.23 L56.40,86.19 L56.60,90.60 L56.80,92.03 L57.00,95.46 L57.20,97.64 L57.40,100.07 L57.60,101.66 L57.80,102.04 L58.00,103.09 L58.20,103.86 L58.40,103.29 L58.60,103.22 L58.80,103.22 L59.00,102.05 L59.20,101.59 L59.40,99.89 L59.60,100.54 L59.80,98.13 L60.00,98.45 L60.20,100.26 L60.40,96.77 L60.60,97.80 L60.80,98.37 L61.00,95.43 L61.20,94.70 L61.40,96.32 L61.60,94.49 L61.80,91.85 L62.00,91.45 L62.20,91.09 L62.40,91.37 L62.60,87.98 L62.80,93.80 L63.00,87.86 L63.20,91.24 L63.40,89.58 L63.60,87.16 L63.80,84.27 L64.00,86.03 L64.20,87.35 L64.40,84.48 L64.60,85.18 L64.80,84.86 L65.00,83.06 L65.20,82.98 L65.40,84.16 L65.60,83.34 L65.80,77.68 L66.00,83.37 L66.20,80.53 L66.40,83.98 L66.60,80.41 L66.80,78.28 L67.00,79.61 L67.20,78.37 L67.40,79.06 L67.60,81.26 L67.80,76.72 L68.00,79.38 L68.20,78.96 L68.40,78.93 L68.60,76.13 L68.80,80.93 L69.00,75.88 L69.20,74.51 L69.40,76.82 L69.60,78.44 L69.80,77.27 L70.00,75.15 L70.20,76.05 L70.40,76.08 L70.60,72.84 L70.80,73.37 L71.00,72.36 L71.20,74.24 L71.40,72.72 L71.60,73.81 L71.80,72.50 L72.00,70.41 L72.20,72.32 L72.40,75.43 L72.60,74.64 L72.80,72.84 L73.00,71.69 L73.20,72.27 L73.40,72.17 L73.60,70.04 L73.80,67.74 L74.00,73.13 L74.20,71.91 L74.40,68.38 L74.60,70.59 L74.80,69.07 L75.00,69.75 L75.20,69.94 L75.40,71.94 L75.60,65.31 L75.80,71.35 L76.00,66.26 L76.20,67.43 L76.40,70.59 L76.60,67.03 L76.80,64.08 L77.00,72.28 L77.20,68.31 L77.40,69.05 L77.60,67.16 L77.80,70.36 L78.00,64.75 L78.20,69.47 L78.40,66.37 L78.60,69.09 L78.80,65.40 L79.00,64.76 L79.20,70.26 L79.40,66.57 L79.60,67.47 L79.80,68.55 L80.00,64.36 L80.20,64.70 L80.40,67.16 L80.60,65.69 L80.80,68.70 L81.00,64.67 L81.20,65.39 L81.40,62.71 L81.60,65.82 L81.80,63.91 L82.00,62.06 L82.20,64.93 L82.40,61.23 L82.60,64.18 L82.80,63.80 L83.00,64.04 L83.20,63.31 L83.40,62.36 L83.60,63.23 L83.80,63.23 L84.00,61.70 L84.20,61.01 L84.40,58.51 L84.60,62.89 L84.80,59.49 L85.00,61.62 L85.20,61.40 L85.40,64.01 L85.60,65.75 L85.80,60.33 L86.00,57.85 L86.20,63.20 L86.40,59.65 L86.60,64.34 L86.80,58.89 L87.00,61.59 L87.20,61.57 L87.40,59.42 L87.60,59.92 L87.80,59.41 L88.00,61.12 L88.20,62.27 L88.40,60.22 L88.60,59.96 L88.80,59.92 L89.00,59.23 L89.20,59.94 L89.40,57.55 L89.60,59.73 L89.80,62.50 L90.00,56.04 L90.20,55.26 L90.40,58.46 L90.60,59.71 L90.80,61.30 L91.00,59.60 L91.20,61.04 L91.40,56.94 L91.60,58.29 L91.80,56.57 L92.00,58.77 L92.20,56.25 L92.40,59.43 L92.60,55.85 L92.80,54.25 L93.00,53.76 L93.20,56.51 L93.40,52.18 L93.60,57.95 L93.80,55.01 L94.00,55.50 L94.20,54.13 L94.40,57.05 L94.60,53.83 L94.80,55.80 L95.00,57.87 L95.20,52.28 L95.40,53.59 L95.60,53.72 L95.80,52.75 L96.00,55.29 L96.20,55.36 L96.40,57.45 L96.60,55.38 L96.80,53.92 L97.00,51.41 L97.20,55.22 L97.40,52.85 L97.60,53.38 L97.80,53.66 L98.00,53.44 L98.20,51.40 L98.40,52.37 L98.60,55.27 L98.80,53.32 L99.00,51.88 L99.20,50.22 L99.40,54.95 L99.60,51.55 L99.80,51.11 L100.00,53.62 L100.20,52.70 L100.40,54.18 L100.60,53.47 L100.80,52.73 L101.00,49.71 L101.20,49.88 L101.40,48.76 L101.60,55.38 L101.80,48.03 L102.00,51.53 L102.20,53.34 L102.40,52.00 L102.60,49.86 L102.80,49.13 L103.00,47.09 L103.20,49.91 L103.40,47.96 L103.60,48.04 L103.80,47.43 L104.00,51.03 L104.20,47.27 L104.40,48.48 L104.60,53.21 L104.80,44.30 L105.00,50.78 L105.20,49.70 L105.40,49.92 L105.60,46.69 L105.80,46.65 L106.00,44.83 L106.20,47.23 L106.40,47.46 L106.60,47.27 L106.80,50.44 L107.00,47.61 L107.20,47.83 L107.40,49.55 L107.60,46.28 L107.80,47.53 L108.00,47.21 L108.20,46.91 L108.40,47.87 L108.60,45.36 L108.80,47.95 L109.00,47.29 L109.20,46.79 L109.40,45.20 L109.60,43.79 L109.80,47.34 L110.00,43.55 L110.20,48.37 L110.40,45.06 L110.60,45.37 L110.80,48.03 L111.00,46.76 L111.20,49.13 L111.40,49.20 L111.60,45.95 L111.80,46.33 L112.00,45.61 L112.20,43.71 L112.40,47.84 L112.60,46.50 L112.80,47.38 L113.00,47.93 L113.20,49.46 L113.40,48.37 L113.60,48.46 L113.80,48.16 L114.00,45.63 L114.20,45.56 L114.40,44.45 L114.60,48.32 L114.80,44.83 L115.00,49.46 L115.20,46.67 L115.40,44.45 L115.60,46.34 L115.80,47.84 L116.00,42.89 L116.20,43.80 L116.40,45.13 L116.60,46.01 L116.80,47.55 L117.00,47.64 L117.20,48.55 L117.40,43.51 L117.60,44.83 L117.80,45.98 L118.00,47.41 L118.20,47.89 L118.40,43.43 L118.60,45.68 L118.80,48.14 L119.00,47.66 L119.20,46.03 L119.40,43.34 L119.60,45.92 L119.80,46.26 L120.00,48.42 L120.20,44.46 L120.40,47.23 L120.60,45.71 L120.80,48.18 L121.00,48.19 L121.20,48.91 L121.40,43.37 L121.60,45.58 L121.80,46.98 L122.00,47.81 L122.20,43.86 L122.40,46.15 L122.60,50.42 L122.80,44.46 L123.00,45.35 L123.20,46.93 L123.40,43.29 L123.60,41.56 L123.80,45.30 L124.00,44.96 L124.20,44.08 L124.40,48.83 L124.60,45.53 L124.80,44.43 L125.00,47.83 L125.20,42.36 L125.40,43.14 L125.60,48.16 L125.80,45.47 L126.00,45.15 L126.20,47.36 L126.40,47.50 L126.60,45.86 L126.80,48.50 L127.00,48.25 L127.20,47.21 L127.40,43.62 L127.60,50.41 L127.80,43.48 L128.00,46.13 L128.20,45.40 L128.40,46.52 L128.60,47.98 L128.80,47.43 L129.00,45.99 L129.20,45.02 L129.40,43.45 L129.60,43.86 L129.80,42.41 L130.00,46.20 L130.20,43.85 L130.40,43.11 L130.60,43.02 L130.80,43.04 L131.00,42.87 L131.20,44.66 L131.40,49.23 L131.60,44.69 L131.80,47.69 L132.00,46.02 L132.20,42.64 L132.40,41.95 L132.60,43.31 L132.80,48.26 L133.00,41.72 L133.20,41.66 L133.40,44.72 L133.60,43.70 L133.80,48.00 L134.00,40.83 L134.20,43.50 L134.40,44.11" fill="none" stroke="#ff1a1a" stroke-width="1.0" stroke-linejoin="round"/>
<path d="M28.90,117.00 L29.10,117.00 L29.30,117.00 L29.50,117.00 L29.70,117.00 L29.90,117.00 L30.10,117.00 L30.30,117.00 L30.50,117.00 L30.70,117.00 L30.90,117.00" fill="none" stroke="#000" stroke-width="3.68" stroke-linecap="round" stroke-linejoin="round"/><path d="M30.90,117.00 L31.10,117.00 L31.30,117.00 L31.50,117.00 L31.70,117.00 L31.90,117.00 L32.10,117.00 L32.30,117.00 L32.50,117.00 L32.70,117.00 L32.90,117.00" fill="none" stroke="#000" stroke-width="3.68" stroke-linecap="round" stroke-linejoin="round"/><path d="M32.90,117.00 L33.10,117.00 L33.30,117.00 L33.50,117.00 L33.70,117.00 L33.90,117.00 L34.10,117.00 L34.30,117.00 L34.50,117.00 L34.70,117.00 L34.90,117.00" fill="none" stroke="#000" stroke-width="3.68" stroke-linecap="round" stroke-linejoin="round"/><path d="M34.90,117.00 L35.10,117.00 L35.30,117.00 L35.50,117.00 L35.70,117.00 L35.90,117.00 L36.10,117.00 L36.30,117.00 L36.50,117.00 L36.70,117.00 L36.90,117.00" fill="none" stroke="#000" stroke-width="3.68" stroke-linecap="round" stroke-linejoin="round"/><path d="M36.90,117.00 L37.10,117.00 L37.30,117.00 L37.50,117.00 L37.70,117.00 L37.90,117.00 L38.10,117.00 L38.30,117.00 L38.50,117.00 L38.70,117.00 L38.90,117.00" fill="none" stroke="#000" stroke-width="3.68" stroke-linecap="round" stroke-linejoin="round"/><path d="M38.90,117.00 L39.10,117.00 L39.30,117.00 L39.50,117.00 L39.70,117.00 L39.90,117.00 L40.10,117.00 L40.30,117.00 L40.50,117.00 L40.70,117.00 L40.90,117.00" fill="none" stroke="#000" stroke-width="3.68" stroke-linecap="round" stroke-linejoin="round"/><path d="M40.90,117.00 L41.10,117.00 L41.30,117.00 L41.50,117.00 L41.70,117.00 L41.90,117.00 L42.10,117.00 L42.30,117.00 L42.50,117.00 L42.70,117.00 L42.90,117.00" fill="none" stroke="#000" stroke-width="3.68" stroke-linecap="round" stroke-linejoin="round"/><path d="M42.90,117.00 L43.10,117.00 L43.30,117.00 L43.50,117.00 L43.70,117.00 L43.90,117.00 L44.10,117.00 L44.30,117.00 L44.50,117.00 L44.70,117.00 L44.90,117.00" fill="none" stroke="#000" stroke-width="3.68" stroke-linecap="round" stroke-linejoin="round"/><path d="M44.90,117.00 L45.10,117.00 L45.30,117.00 L45.50,117.00 L45.70,117.00 L45.90,117.00 L46.10,117.00 L46.30,117.00 L46.50,117.00 L46.70,117.00 L46.90,117.00" fill="none" stroke="#000" stroke-width="3.68" stroke-linecap="round" stroke-linejoin="round"/><path d="M46.90,117.00 L47.10,117.00 L47.30,117.00 L47.50,117.00 L47.70,117.00 L47.90,117.00 L48.10,117.00 L48.30,117.00 L48.50,117.00 L48.70,117.00 L48.90,117.00" fill="none" stroke="#000" stroke-width="3.68" stroke-linecap="round" stroke-linejoin="round"/><path d="M48.90,117.00 L49.10,117.00 L49.30,117.00 L49.50,117.00 L49.70,117.00 L49.90,117.00 L50.10,117.00 L50.30,117.00 L50.50,117.00 L50.70,117.00 L50.90,117.00" fill="none" stroke="#000" stroke-width="3.68" stroke-linecap="round" stroke-linejoin="round"/><path d="M50.90,117.00 L51.10,117.00 L51.30,117.00 L51.50,117.00 L51.70,117.00 L51.90,117.00 L52.10,117.00 L52.30,117.00 L52.50,117.00 L52.70,117.00 L52.90,117.00" fill="none" stroke="#000" stroke-width="3.68" stroke-linecap="round" stroke-linejoin="round"/><path d="M52.90,117.00 L53.10,117.00" fill="none" stroke="#000" stroke-width="3.68" stroke-linecap="round" stroke-linejoin="round"/><path d="M53.10,117.00 L53.30,117.00 L53.50,117.57 L53.70,118.66 L53.90,120.18 L54.10,122.02 L54.30,124.09" fill="none" stroke="#000" stroke-width="0.81" stroke-linecap="round" stroke-linejoin="round"/><path d="M54.30,124.09 L54.50,126.30 L54.70,129.26 L54.90,133.32 L55.10,138.00 L55.30,142.79 L55.50,147.22" fill="none" stroke="#000" stroke-width="0.81" stroke-linecap="round" stroke-linejoin="round"/><path d="M55.50,147.22 L55.70,150.80 L55.90,153.71 L56.10,156.44 L56.30,158.99 L56.50,161.35 L56.70,163.50" fill="none" stroke="#000" stroke-width="0.81" stroke-linecap="round" stroke-linejoin="round"/><path d="M56.70,163.50 L56.90,165.42 L57.10,167.10 L57.30,168.61 L57.50,170.01 L57.70,171.32 L57.90,172.54" fill="none" stroke="#000" stroke-width="0.81" stroke-linecap="round" stroke-linejoin="round"/><path d="M57.90,172.54 L58.10,173.68 L58.30,174.76 L58.50,175.78 L58.70,176.75 L58.90,177.67 L59.10,178.56" fill="none" stroke="#000" stroke-width="0.81" stroke-linecap="round" stroke-linejoin="round"/><path d="M59.10,178.56 L59.30,179.44 L59.50,180.35 L59.70,181.28 L59.90,182.23 L60.10,183.16 L60.30,184.06" fill="none" stroke="#000" stroke-width="0.81" stroke-linecap="round" stroke-linejoin="round"/><path d="M60.30,184.06 L60.50,184.91 L60.70,185.69 L60.90,186.39 L61.10,186.99 L61.30,187.47 L61.50,187.80" fill="none" stroke="#000" stroke-width="0.81" stroke-linecap="round" stroke-linejoin="round"/><path d="M61.50,187.80 L61.70,187.98 L61.90,187.99 L62.10,187.88 L62.30,187.69 L62.50,187.42 L62.70,187.09" fill="none" stroke="#000" stroke-width="0.81" stroke-linecap="round" stroke-linejoin="round"/><path d="M62.70,187.09 L62.90,186.71 L63.10,186.31 L63.30,185.88 L63.50,185.46 L63.70,185.05 L63.90,184.67" fill="none" stroke="#000" stroke-width="2.76" stroke-linecap="round" stroke-linejoin="round"/><path d="M63.90,184.67 L64.10,184.33 L64.30,183.98 L64.50,183.63 L64.70,183.27 L64.90,182.91 L65.10,182.54" fill="none" stroke="#000" stroke-width="2.76" stroke-linecap="round" stroke-linejoin="round"/><path d="M65.10,182.54 L65.30,182.17 L65.50,181.81 L65.70,181.45 L65.90,181.09 L66.10,180.74 L66.30,180.40" fill="none" stroke="#000" stroke-width="2.94" stroke-linecap="round" stroke-linejoin="round"/><path d="M66.30,180.40 L66.50,180.07 L66.70,179.74 L66.90,179.41 L67.10,179.08 L67.30,178.76 L67.50,178.43" fill="none" stroke="#000" stroke-width="3.68" stroke-linecap="round" stroke-linejoin="round"/><path d="M67.50,178.43 L67.70,178.12 L67.90,177.80 L68.10,177.48 L68.30,177.17 L68.50,176.86 L68.70,176.55" fill="none" stroke="#000" stroke-width="3.68" stroke-linecap="round" stroke-linejoin="round"/><path d="M68.70,176.55 L68.90,176.24 L69.10,175.94 L69.30,175.64 L69.50,175.33 L69.70,175.03 L69.90,174.74" fill="none" stroke="#000" stroke-width="3.68" stroke-linecap="round" stroke-linejoin="round"/><path d="M69.90,174.74 L70.10,174.44 L70.30,174.15 L70.50,173.85 L70.70,173.56 L70.90,173.27 L71.10,172.98" fill="none" stroke="#000" stroke-width="3.68" stroke-linecap="round" stroke-linejoin="round"/><path d="M71.10,172.98 L71.30,172.70 L71.50,172.41 L71.70,172.12 L71.90,171.84 L72.10,171.56 L72.30,171.28" fill="none" stroke="#000" stroke-width="3.68" stroke-linecap="round" stroke-linejoin="round"/><path d="M72.30,171.28 L72.50,171.00 L72.70,170.72 L72.90,170.44 L73.10,170.17 L73.30,169.90 L73.50,169.62" fill="none" stroke="#000" stroke-width="3.68" stroke-linecap="round" stroke-linejoin="round"/><path d="M73.50,169.62 L73.70,169.35 L73.90,169.08 L74.10,168.82 L74.30,168.55 L74.50,168.29 L74.70,168.03" fill="none" stroke="#000" stroke-width="3.68" stroke-linecap="round" stroke-linejoin="round"/><path d="M74.70,168.03 L74.90,167.77 L75.10,167.51 L75.30,167.25 L75.50,167.00 L75.70,166.75 L75.90,166.49" fill="none" stroke="#000" stroke-width="3.68" stroke-linecap="round" stroke-linejoin="round"/><path d="M75.90,166.49 L76.10,166.24 L76.30,165.99 L76.50,165.74 L76.70,165.49 L76.90,165.24 L77.10,164.99" fill="none" stroke="#000" stroke-width="3.68" stroke-linecap="round" stroke-linejoin="round"/><path d="M77.10,164.99 L77.30,164.74 L77.50,164.49 L77.70,164.25 L77.90,164.01 L78.10,163.77 L78.30,163.53" fill="none" stroke="#000" stroke-width="3.68" stroke-linecap="round" stroke-linejoin="round"/><path d="M78.30,163.53 L78.50,163.29 L78.70,163.06 L78.90,162.83 L79.10,162.60 L79.30,162.38 L79.50,162.15" fill="none" stroke="#000" stroke-width="3.68" stroke-linecap="round" stroke-linejoin="round"/><path d="M79.50,162.15 L79.70,161.94 L79.90,161.72 L80.10,161.51 L80.30,161.30 L80.50,161.10 L80.70,160.90" fill="none" stroke="#000" stroke-width="3.68" stroke-linecap="round" stroke-linejoin="round"/><path d="M80.70,160.90 L80.90,160.70 L81.10,160.51 L81.30,160.31 L81.50,160.12 L81.70,159.93 L81.90,159.75" fill="none" stroke="#000" stroke-width="3.68" stroke-linecap="round" stroke-linejoin="round"/><path d="M81.90,159.75 L82.10,159.56 L82.30,159.38 L82.50,159.20 L82.70,159.02 L82.90,158.84 L83.10,158.66" fill="none" stroke="#000" stroke-width="3.68" stroke-linecap="round" stroke-linejoin="round"/><path d="M83.10,158.66 L83.30,158.49 L83.50,158.32 L83.70,158.15 L83.90,157.99 L84.10,157.82 L84.30,157.66" fill="none" stroke="#000" stroke-width="3.68" stroke-linecap="round" stroke-linejoin="round"/><path d="M84.30,157.66 L84.50,157.50 L84.70,157.35 L84.90,157.19 L85.10,157.04 L85.30,156.89 L85.50,156.74" fill="none" stroke="#000" stroke-width="3.68" stroke-linecap="round" stroke-linejoin="round"/><path d="M85.50,156.74 L85.70,156.60 L85.90,156.46 L86.10,156.32 L86.30,156.18 L86.50,156.05 L86.70,155.91" fill="none" stroke="#000" stroke-width="3.68" stroke-linecap="round" stroke-linejoin="round"/><path d="M86.70,155.91 L86.90,155.78 L87.10,155.65 L87.30,155.53 L87.50,155.40 L87.70,155.28 L87.90,155.15" fill="none" stroke="#000" stroke-width="3.68" stroke-linecap="round" stroke-linejoin="round"/><path d="M87.90,155.15 L88.10,155.03 L88.30,154.91 L88.50,154.80 L88.70,154.68 L88.90,154.56 L89.10,154.45" fill="none" stroke="#000" stroke-width="3.68" stroke-linecap="round" stroke-linejoin="round"/><path d="M89.10,154.45 L89.30,154.33 L89.50,154.22 L89.70,154.11 L89.90,154.00 L90.10,153.88 L90.30,153.77" fill="none" stroke="#000" stroke-width="3.68" stroke-linecap="round" stroke-linejoin="round"/><path d="M90.30,153.77 L90.50,153.66 L90.70,153.55 L90.90,153.45 L91.10,153.34 L91.30,153.23 L91.50,153.12" fill="none" stroke="#000" stroke-width="3.68" stroke-linecap="round" stroke-linejoin="round"/><path d="M91.50,153.12 L91.70,153.01 L91.90,152.91 L92.10,152.80 L92.30,152.69 L92.50,152.59 L92.70,152.48" fill="none" stroke="#000" stroke-width="3.68" stroke-linecap="round" stroke-linejoin="round"/><path d="M92.70,152.48 L92.90,152.38 L93.10,152.28 L93.30,152.17 L93.50,152.07 L93.70,151.97 L93.90,151.87" fill="none" stroke="#000" stroke-width="3.68" stroke-linecap="round" stroke-linejoin="round"/><path d="M93.90,151.87 L94.10,151.77 L94.30,151.67 L94.50,151.57 L94.70,151.47 L94.90,151.37 L95.10,151.27" fill="none" stroke="#000" stroke-width="3.68" stroke-linecap="round" stroke-linejoin="round"/><path d="M95.10,151.27 L95.30,151.18 L95.50,151.08 L95.70,150.98 L95.90,150.89 L96.10,150.79 L96.30,150.70" fill="none" stroke="#000" stroke-width="3.68" stroke-linecap="round" stroke-linejoin="round"/><path d="M96.30,150.70 L96.50,150.61 L96.70,150.51 L96.90,150.42 L97.10,150.33 L97.30,150.24 L97.50,150.15" fill="none" stroke="#000" stroke-width="3.68" stroke-linecap="round" stroke-linejoin="round"/><path d="M97.50,150.15 L97.70,150.06 L97.90,149.97 L98.10,149.89 L98.30,149.80 L98.50,149.71 L98.70,149.63" fill="none" stroke="#000" stroke-width="3.68" stroke-linecap="round" stroke-linejoin="round"/><path d="M98.70,149.63 L98.90,149.54 L99.10,149.46 L99.30,149.37 L99.50,149.29 L99.70,149.21 L99.90,149.12" fill="none" stroke="#000" stroke-width="3.68" stroke-linecap="round" stroke-linejoin="round"/><path d="M99.90,149.12 L100.10,149.04 L100.30,148.95 L100.50,148.87 L100.70,148.78 L100.90,148.70 L101.10,148.62" fill="none" stroke="#000" stroke-width="3.68" stroke-linecap="round" stroke-linejoin="round"/><path d="M101.10,148.62 L101.30,148.53 L101.50,148.45 L101.70,148.37 L101.90,148.28 L102.10,148.20 L102.30,148.12" fill="none" stroke="#000" stroke-width="3.68" stroke-linecap="round" stroke-linejoin="round"/><path d="M102.30,148.12 L102.50,148.03 L102.70,147.95 L102.90,147.87 L103.10,147.79 L103.30,147.71 L103.50,147.63" fill="none" stroke="#000" stroke-width="3.68" stroke-linecap="round" stroke-linejoin="round"/><path d="M103.50,147.63 L103.70,147.55 L103.90,147.47 L104.10,147.39 L104.30,147.32 L104.50,147.24 L104.70,147.16" fill="none" stroke="#000" stroke-width="3.68" stroke-linecap="round" stroke-linejoin="round"/><path d="M104.70,147.16 L104.90,147.09 L105.10,147.01 L105.30,146.94 L105.50,146.87 L105.70,146.79 L105.90,146.72" fill="none" stroke="#000" stroke-width="3.68" stroke-linecap="round" stroke-linejoin="round"/><path d="M105.90,146.72 L106.10,146.65 L106.30,146.58 L106.50,146.51 L106.70,146.44 L106.90,146.38 L107.10,146.31" fill="none" stroke="#000" stroke-width="3.68" stroke-linecap="round" stroke-linejoin="round"/><path d="M107.10,146.31 L107.30,146.25 L107.50,146.18 L107.70,146.12 L107.90,146.06 L108.10,146.00 L108.30,145.94" fill="none" stroke="#000" stroke-width="3.68" stroke-linecap="round" stroke-linejoin="round"/><path d="M108.30,145.94 L108.50,145.89 L108.70,145.83 L108.90,145.78 L109.10,145.72 L109.30,145.67 L109.50,145.62" fill="none" stroke="#000" stroke-width="3.68" stroke-linecap="round" stroke-linejoin="round"/><path d="M109.50,145.62 L109.70,145.57 L109.90,145.52 L110.10,145.48 L110.30,145.43 L110.50,145.39 L110.70,145.34" fill="none" stroke="#000" stroke-width="3.68" stroke-linecap="round" stroke-linejoin="round"/><path d="M110.70,145.34 L110.90,145.30 L111.10,145.25 L111.30,145.21 L111.50,145.17 L111.70,145.13 L111.90,145.09" fill="none" stroke="#000" stroke-width="3.68" stroke-linecap="round" stroke-linejoin="round"/><path d="M111.90,145.09 L112.10,145.04 L112.30,145.00 L112.50,144.96 L112.70,144.92 L112.90,144.88 L113.10,144.84" fill="none" stroke="#000" stroke-width="3.68" stroke-linecap="round" stroke-linejoin="round"/><path d="M113.10,144.84 L113.30,144.81 L113.50,144.77 L113.70,144.73 L113.90,144.69 L114.10,144.66 L114.30,144.62" fill="none" stroke="#000" stroke-width="3.68" stroke-linecap="round" stroke-linejoin="round"/><path d="M114.30,144.62 L114.50,144.58 L114.70,144.55 L114.90,144.51 L115.10,144.48 L115.30,144.44 L115.50,144.41" fill="none" stroke="#000" stroke-width="3.68" stroke-linecap="round" stroke-linejoin="round"/><path d="M115.50,144.41 L115.70,144.38 L115.90,144.34 L116.10,144.31 L116.30,144.28 L116.50,144.25 L116.70,144.21" fill="none" stroke="#000" stroke-width="3.68" stroke-linecap="round" stroke-linejoin="round"/><path d="M116.70,144.21 L116.90,144.18 L117.10,144.15 L117.30,144.12 L117.50,144.09 L117.70,144.06 L117.90,144.03" fill="none" stroke="#000" stroke-width="3.68" stroke-linecap="round" stroke-linejoin="round"/><path d="M117.90,144.03 L118.10,144.00 L118.30,143.97 L118.50,143.95 L118.70,143.92 L118.90,143.89 L119.10,143.86" fill="none" stroke="#000" stroke-width="3.68" stroke-linecap="round" stroke-linejoin="round"/><path d="M119.10,143.86 L119.30,143.83 L119.50,143.81 L119.70,143.78 L119.90,143.76 L120.10,143.73 L120.30,143.70" fill="none" stroke="#000" stroke-width="3.68" stroke-linecap="round" stroke-linejoin="round"/><path d="M120.30,143.70 L120.50,143.68 L120.70,143.65 L120.90,143.63 L121.10,143.61 L121.30,143.58 L121.50,143.56" fill="none" stroke="#000" stroke-width="3.68" stroke-linecap="round" stroke-linejoin="round"/><path d="M121.50,143.56 L121.70,143.53 L121.90,143.51 L122.10,143.49 L122.30,143.47 L122.50,143.44 L122.70,143.42" fill="none" stroke="#000" stroke-width="3.68" stroke-linecap="round" stroke-linejoin="round"/><path d="M122.70,143.42 L122.90,143.40 L123.10,143.38 L123.30,143.35 L123.50,143.33 L123.70,143.31 L123.90,143.29" fill="none" stroke="#000" stroke-width="3.68" stroke-linecap="round" stroke-linejoin="round"/><path d="M123.90,143.29 L124.10,143.27 L124.30,143.25 L124.50,143.22 L124.70,143.20 L124.90,143.18 L125.10,143.16" fill="none" stroke="#000" stroke-width="3.68" stroke-linecap="round" stroke-linejoin="round"/><path d="M125.10,143.16 L125.30,143.14 L125.50,143.12 L125.70,143.10 L125.90,143.08 L126.10,143.06 L126.30,143.04" fill="none" stroke="#000" stroke-width="3.68" stroke-linecap="round" stroke-linejoin="round"/><path d="M126.30,143.04 L126.50,143.02 L126.70,143.00 L126.90,142.98 L127.10,142.96 L127.30,142.95 L127.50,142.93" fill="none" stroke="#000" stroke-width="3.68" stroke-linecap="round" stroke-linejoin="round"/><path d="M127.50,142.93 L127.70,142.91 L127.90,142.89 L128.10,142.87 L128.30,142.86 L128.50,142.84 L128.70,142.82" fill="none" stroke="#000" stroke-width="3.68" stroke-linecap="round" stroke-linejoin="round"/><path d="M128.70,142.82 L128.90,142.81 L129.10,142.79 L129.30,142.77 L129.50,142.76 L129.70,142.74 L129.90,142.73" fill="none" stroke="#000" stroke-width="3.68" stroke-linecap="round" stroke-linejoin="round"/><path d="M129.90,142.73 L130.10,142.71 L130.30,142.70 L130.50,142.68 L130.70,142.67 L130.90,142.65 L131.10,142.64" fill="none" stroke="#000" stroke-width="3.68" stroke-linecap="round" stroke-linejoin="round"/><path d="M131.10,142.64 L131.30,142.63 L131.50,142.61 L131.70,142.60 L131.90,142.59 L132.10,142.58 L132.30,142.56" fill="none" stroke="#000" stroke-width="3.68" stroke-linecap="round" stroke-linejoin="round"/><path d="M132.30,142.56 L132.50,142.55 L132.70,142.54 L132.90,142.53 L133.10,142.52 L133.30,142.51 L133.50,142.50" fill="none" stroke="#000" stroke-width="3.68" stroke-linecap="round" stroke-linejoin="round"/>
<path d="M28.90,117.62 L29.10,114.47 L29.30,113.49 L29.50,119.38 L29.70,116.56 L29.90,117.36 L30.10,118.51 L30.30,117.32 L30.50,113.56 L30.70,117.14 L30.90,117.13 L31.10,117.41 L31.30,114.91 L31.50,116.27 L31.70,117.57 L31.90,118.96 L32.10,116.38 L32.30,117.34 L32.50,116.99 L32.70,117.05 L32.90,120.26 L33.10,116.25 L33.30,118.30 L33.50,116.00 L33.70,117.04 L33.90,116.76 L34.10,119.39 L34.30,118.31 L34.50,118.33 L34.70,116.55 L34.90,117.13 L35.10,118.74 L35.30,115.61 L35.50,120.90 L35.70,116.71 L35.90,113.11 L36.10,116.11 L36.30,118.02 L36.50,121.31 L36.70,116.20 L36.90,117.95 L37.10,117.42 L37.30,118.16 L37.50,116.07 L37.70,120.69 L37.90,116.81 L38.10,116.09 L38.30,115.83 L38.50,120.23 L38.70,118.72 L38.90,120.71 L39.10,114.87 L39.30,117.10 L39.50,118.08 L39.70,121.24 L39.90,119.75 L40.10,115.67 L40.30,118.97 L40.50,116.99 L40.70,120.19 L40.90,119.58 L41.10,117.90 L41.30,117.57 L41.50,117.87 L41.70,119.48 L41.90,120.00 L42.10,113.69 L42.30,119.04 L42.50,119.07 L42.70,114.74 L42.90,115.36 L43.10,118.64 L43.30,117.32 L43.50,116.66 L43.70,112.74 L43.90,116.88 L44.10,116.61 L44.30,113.52 L44.50,117.71 L44.70,117.07 L44.90,116.00 L45.10,120.54 L45.30,120.07 L45.50,120.41 L45.70,117.39 L45.90,114.49 L46.10,116.74 L46.30,116.00 L46.50,113.85 L46.70,115.96 L46.90,118.73 L47.10,117.37 L47.30,114.44 L47.50,112.94 L47.70,119.58 L47.90,119.42 L48.10,118.53 L48.30,117.19 L48.50,116.72 L48.70,118.91 L48.90,114.84 L49.10,119.58 L49.30,117.51 L49.50,115.72 L49.70,113.16 L49.90,116.37 L50.10,116.48 L50.30,113.52 L50.50,119.17 L50.70,118.50 L50.90,115.84 L51.10,118.83 L51.30,114.16 L51.50,118.22 L51.70,117.28 L51.90,116.91 L52.10,117.63 L52.30,117.83 L52.50,121.50 L52.70,116.51 L52.90,120.74 L53.10,114.34 L53.30,117.66 L53.50,117.35 L53.70,118.66 L53.90,120.00 L54.10,122.74 L54.30,123.27 L54.50,126.71 L54.70,128.60 L54.90,133.04 L55.10,138.39 L55.30,142.52 L55.50,146.53 L55.70,150.99 L55.90,154.25 L56.10,155.87 L56.30,158.50 L56.50,161.19 L56.70,163.26 L56.90,165.80 L57.10,167.51 L57.30,167.74 L57.50,170.02 L57.70,172.07 L57.90,172.70 L58.10,173.73 L58.30,174.74 L58.50,175.49 L58.70,177.05 L58.90,177.60 L59.10,177.82 L59.30,178.55 L59.50,180.23 L59.70,180.78 L59.90,182.60 L60.10,183.16 L60.30,184.45 L60.50,184.55 L60.70,185.37 L60.90,185.29 L61.10,187.12 L61.30,187.23 L61.50,187.31 L61.70,188.38 L61.90,187.30 L62.10,186.09 L62.30,188.86 L62.50,187.11 L62.70,187.97 L62.90,186.52 L63.10,187.81 L63.30,183.21 L63.50,186.35 L63.70,186.34 L63.90,183.67 L64.10,186.08 L64.30,183.84 L64.50,184.25 L64.70,180.96 L64.90,185.95 L65.10,181.60 L65.30,181.86 L65.50,180.77 L65.70,181.07 L65.90,183.25 L66.10,180.52 L66.30,182.97 L66.50,180.01 L66.70,179.77 L66.90,179.41 L67.10,178.07 L67.30,180.17 L67.50,175.31 L67.70,177.37 L67.90,180.51 L68.10,180.63 L68.30,174.96 L68.50,175.43 L68.70,177.40 L68.90,174.11 L69.10,173.35 L69.30,179.57 L69.50,176.82 L69.70,176.04 L69.90,177.56 L70.10,176.02 L70.30,174.61 L70.50,173.44 L70.70,171.81 L70.90,175.32 L71.10,169.96 L71.30,169.28 L71.50,174.64 L71.70,173.62 L71.90,171.13 L72.10,169.16 L72.30,170.80 L72.50,170.10 L72.70,172.19 L72.90,172.09 L73.10,172.01 L73.30,170.79 L73.50,167.65 L73.70,166.85 L73.90,168.48 L74.10,166.70 L74.30,170.86 L74.50,171.26 L74.70,164.55 L74.90,164.81 L75.10,168.13 L75.30,163.56 L75.50,164.79 L75.70,167.93 L75.90,169.03 L76.10,165.38 L76.30,163.10 L76.50,162.70 L76.70,166.10 L76.90,166.54 L77.10,162.61 L77.30,167.37 L77.50,162.99 L77.70,166.83 L77.90,163.40 L78.10,161.99 L78.30,158.33 L78.50,160.45 L78.70,165.86 L78.90,166.72 L79.10,163.78 L79.30,164.66 L79.50,160.10 L79.70,160.70 L79.90,162.68 L80.10,165.25 L80.30,161.52 L80.50,162.09 L80.70,162.51 L80.90,163.89 L81.10,159.99 L81.30,159.86 L81.50,162.07 L81.70,160.14 L81.90,159.58 L82.10,160.62 L82.30,158.54 L82.50,160.35 L82.70,160.73 L82.90,158.93 L83.10,156.08 L83.30,153.97 L83.50,160.54 L83.70,157.51 L83.90,158.83 L84.10,155.19 L84.30,156.71 L84.50,159.42 L84.70,159.50 L84.90,159.99 L85.10,159.16 L85.30,156.27 L85.50,159.79 L85.70,157.12 L85.90,159.17 L86.10,156.02 L86.30,154.49 L86.50,154.66 L86.70,157.60 L86.90,158.07 L87.10,155.59 L87.30,156.59 L87.50,153.76 L87.70,156.10 L87.90,153.03 L88.10,152.81 L88.30,156.03 L88.50,149.78 L88.70,152.53 L88.90,155.63 L89.10,150.15 L89.30,159.42 L89.50,148.93 L89.70,155.91 L89.90,156.92 L90.10,153.47 L90.30,153.02 L90.50,154.48 L90.70,152.50 L90.90,156.50 L91.10,153.09 L91.30,151.01 L91.50,156.15 L91.70,151.65 L91.90,153.24 L92.10,151.40 L92.30,150.63 L92.50,155.23 L92.70,154.40 L92.90,151.67 L93.10,150.85 L93.30,152.65 L93.50,151.45 L93.70,152.89 L93.90,152.53 L94.10,152.70 L94.30,152.67 L94.50,154.81 L94.70,152.88 L94.90,152.03 L95.10,150.63 L95.30,148.88 L95.50,150.66 L95.70,153.69 L95.90,150.61 L96.10,155.02 L96.30,153.49 L96.50,148.74 L96.70,152.21 L96.90,150.88 L97.10,149.18 L97.30,150.09 L97.50,152.86 L97.70,148.08 L97.90,149.05 L98.10,150.39 L98.30,150.76 L98.50,148.89 L98.70,152.81 L98.90,149.78 L99.10,150.12 L99.30,147.52 L99.50,144.37 L99.70,152.27 L99.90,149.47 L100.10,148.91 L100.30,149.91 L100.50,150.91 L100.70,149.19 L100.90,148.33 L101.10,145.50 L101.30,148.36 L101.50,144.99 L101.70,148.46 L101.90,148.85 L102.10,145.92 L102.30,150.55 L102.50,147.76 L102.70,149.45 L102.90,149.57 L103.10,148.06 L103.30,149.89 L103.50,149.76 L103.70,144.51 L103.90,148.40 L104.10,149.79 L104.30,150.84 L104.50,146.38 L104.70,143.02 L104.90,147.61 L105.10,151.37 L105.30,147.82 L105.50,146.35 L105.70,147.75 L105.90,148.14 L106.10,142.76 L106.30,143.02 L106.50,145.02 L106.70,145.47 L106.90,147.34 L107.10,144.81 L107.30,147.67 L107.50,148.51 L107.70,142.73 L107.90,147.98 L108.10,145.44 L108.30,145.40 L108.50,142.80 L108.70,143.79 L108.90,146.41 L109.10,145.75 L109.30,145.59 L109.50,150.50 L109.70,141.94 L109.90,144.97 L110.10,147.68 L110.30,146.91 L110.50,145.72 L110.70,144.71 L110.90,145.51 L111.10,144.93 L111.30,144.51 L111.50,144.48 L111.70,143.82 L111.90,143.72 L112.10,144.48 L112.30,146.57 L112.50,144.92 L112.70,143.00 L112.90,144.96 L113.10,142.91 L113.30,142.95 L113.50,147.70 L113.70,144.43 L113.90,146.51 L114.10,146.36 L114.30,143.68 L114.50,142.21 L114.70,148.74 L114.90,139.57 L115.10,146.34 L115.30,146.62 L115.50,145.96 L115.70,142.91 L115.90,145.01 L116.10,145.60 L116.30,144.30 L116.50,144.95 L116.70,144.57 L116.90,144.10 L117.10,142.83 L117.30,146.79 L117.50,144.75 L117.70,145.26 L117.90,145.45 L118.10,143.33 L118.30,142.23 L118.50,144.27 L118.70,141.21 L118.90,146.21 L119.10,143.47 L119.30,142.15 L119.50,147.42 L119.70,144.19 L119.90,144.08 L120.10,145.23 L120.30,145.80 L120.50,145.24 L120.70,143.07 L120.90,145.61 L121.10,146.49 L121.30,138.47 L121.50,142.56 L121.70,144.92 L121.90,141.42 L122.10,141.14 L122.30,146.11 L122.50,141.43 L122.70,144.46 L122.90,142.01 L123.10,144.31 L123.30,143.20 L123.50,144.04 L123.70,147.10 L123.90,144.52 L124.10,144.97 L124.30,144.76 L124.50,147.35 L124.70,142.30 L124.90,141.18 L125.10,144.40 L125.30,143.45 L125.50,144.37 L125.70,141.05 L125.90,139.59 L126.10,144.58 L126.30,143.23 L126.50,144.49 L126.70,145.11 L126.90,144.62 L127.10,145.10 L127.30,147.05 L127.50,143.16 L127.70,142.35 L127.90,142.26 L128.10,138.65 L128.30,144.49 L128.50,140.94 L128.70,143.40 L128.90,139.15 L129.10,146.04 L129.30,143.76 L129.50,143.70 L129.70,139.63 L129.90,143.61 L130.10,139.91 L130.30,142.46 L130.50,145.20 L130.70,140.21 L130.90,146.16 L131.10,143.60 L131.30,142.15 L131.50,141.68 L131.70,142.83 L131.90,141.70 L132.10,140.33 L132.30,140.32 L132.50,144.73 L132.70,143.44 L132.90,140.44 L133.10,140.78 L133.30,144.77 L133.50,140.27" fill="none" stroke="#000" stroke-width="1.0" stroke-linejoin="round"/>
<path d="M28.90,117.00 L29.10,117.00 L29.30,117.00 L29.50,117.00 L29.70,117.00 L29.90,117.00 L30.10,117.00 L30.30,117.00 L30.50,117.00 L30.70,117.00 L30.90,117.00" fill="none" stroke="#ff1a1a" stroke-width="3.68" stroke-linecap="round" stroke-linejoin="round"/><path d="M30.90,117.00 L31.10,117.00 L31.30,117.00 L31.50,117.00 L31.70,117.00 L31.90,117.00 L32.10,117.00 L32.30,117.00 L32.50,117.00 L32.70,117.00 L32.90,117.00" fill="none" stroke="#ff1a1a" stroke-width="3.68" stroke-linecap="round" stroke-linejoin="round"/><path d="M32.90,117.00 L33.10,117.00 L33.30,117.00 L33.50,117.00 L33.70,117.00 L33.90,117.00 L34.10,117.00 L34.30,117.00 L34.50,117.00 L34.70,117.00 L34.90,117.00" fill="none" stroke="#ff1a1a" stroke-width="3.68" stroke-linecap="round" stroke-linejoin="round"/><path d="M34.90,117.00 L35.10,117.00 L35.30,117.00 L35.50,117.00 L35.70,117.00 L35.90,117.00 L36.10,117.00 L36.30,117.00 L36.50,117.00 L36.70,117.00 L36.90,117.00" fill="none" stroke="#ff1a1a" stroke-width="3.68" stroke-linecap="round" stroke-linejoin="round"/><path d="M36.90,117.00 L37.10,117.00 L37.30,117.00 L37.50,117.00 L37.70,117.00 L37.90,117.00 L38.10,117.00 L38.30,117.00 L38.50,117.00 L38.70,117.00 L38.90,117.00" fill="none" stroke="#ff1a1a" stroke-width="3.68" stroke-linecap="round" stroke-linejoin="round"/><path d="M38.90,117.00 L39.10,117.00 L39.30,117.00 L39.50,117.00 L39.70,117.00 L39.90,117.00 L40.10,117.00 L40.30,117.00 L40.50,117.00 L40.70,117.00 L40.90,117.00" fill="none" stroke="#ff1a1a" stroke-width="3.68" stroke-linecap="round" stroke-linejoin="round"/><path d="M40.90,117.00 L41.10,117.00 L41.30,117.00 L41.50,117.00 L41.70,117.00 L41.90,117.00 L42.10,117.00 L42.30,117.00 L42.50,117.00 L42.70,117.00 L42.90,117.00" fill="none" stroke="#ff1a1a" stroke-width="3.68" stroke-linecap="round" stroke-linejoin="round"/><path d="M42.90,117.00 L43.10,117.00 L43.30,117.00 L43.50,117.00 L43.70,117.00 L43.90,117.00 L44.10,117.00 L44.30,117.00 L44.50,117.00 L44.70,117.00 L44.90,117.00" fill="none" stroke="#ff1a1a" stroke-width="3.68" stroke-linecap="round" stroke-linejoin="round"/><path d="M44.90,117.00 L45.10,117.00 L45.30,117.00 L45.50,117.00 L45.70,117.00 L45.90,117.00 L46.10,117.00 L46.30,117.00 L46.50,117.00 L46.70,117.00 L46.90,117.00" fill="none" stroke="#ff1a1a" stroke-width="3.68" stroke-linecap="round" stroke-linejoin="round"/><path d="M46.90,117.00 L47.10,117.00 L47.30,117.00 L47.50,117.00 L47.70,117.00 L47.90,117.00 L48.10,117.00 L48.30,117.00 L48.50,117.00 L48.70,117.00 L48.90,117.00" fill="none" stroke="#ff1a1a" stroke-width="3.68" stroke-linecap="round" stroke-linejoin="round"/><path d="M48.90,117.00 L49.10,117.00 L49.30,117.00 L49.50,117.00 L49.70,117.00 L49.90,117.00 L50.10,117.00 L50.30,117.00 L50.50,117.00 L50.70,117.00 L50.90,117.00" fill="none" stroke="#ff1a1a" stroke-width="3.68" stroke-linecap="round" stroke-linejoin="round"/><path d="M50.90,117.00 L51.10,117.00 L51.30,117.00 L51.50,117.00 L51.70,117.00 L51.90,117.00 L52.10,117.00 L52.30,117.00 L52.50,117.00 L52.70,117.00 L52.90,117.00" fill="none" stroke="#ff1a1a" stroke-width="3.68" stroke-linecap="round" stroke-linejoin="round"/><path d="M52.90,117.00 L53.10,117.00" fill="none" stroke="#ff1a1a" stroke-width="3.68" stroke-linecap="round" stroke-linejoin="round"/><path d="M53.10,117.00 L53.30,117.00 L53.50,117.57 L53.70,118.66 L53.90,120.18 L54.10,122.02 L54.30,124.09" fill="none" stroke="#ff1a1a" stroke-width="0.81" stroke-linecap="round" stroke-linejoin="round"/><path d="M54.30,124.09 L54.50,126.30 L54.70,129.26 L54.90,133.32 L55.10,138.00 L55.30,142.79 L55.50,147.22" fill="none" stroke="#ff1a1a" stroke-width="0.81" stroke-linecap="round" stroke-linejoin="round"/><path d="M55.50,147.22 L55.70,150.80 L55.90,153.75 L56.10,156.59 L56.30,159.25 L56.50,161.69 L56.70,163.85" fill="none" stroke="#ff1a1a" stroke-width="0.81" stroke-linecap="round" stroke-linejoin="round"/><path d="M56.70,163.85 L56.90,165.67 L57.10,167.10 L57.30,168.26 L57.50,169.34 L57.70,170.32 L57.90,171.22" fill="none" stroke="#ff1a1a" stroke-width="0.81" stroke-linecap="round" stroke-linejoin="round"/><path d="M57.90,171.22 L58.10,172.05 L58.30,172.79 L58.50,173.47 L58.70,174.07 L58.90,174.61 L59.10,175.08" fill="none" stroke="#ff1a1a" stroke-width="0.81" stroke-linecap="round" stroke-linejoin="round"/><path d="M59.10,175.08 L59.30,175.51 L59.50,175.92 L59.70,176.33 L59.90,176.72 L60.10,177.10 L60.30,177.47" fill="none" stroke="#ff1a1a" stroke-width="0.81" stroke-linecap="round" stroke-linejoin="round"/><path d="M60.30,177.47 L60.50,177.81 L60.70,178.13 L60.90,178.42 L61.10,178.68 L61.30,178.91 L61.50,179.10" fill="none" stroke="#ff1a1a" stroke-width="0.81" stroke-linecap="round" stroke-linejoin="round"/><path d="M61.50,179.10 L61.70,179.24 L61.90,179.34 L62.10,179.39 L62.30,179.40 L62.50,179.36 L62.70,179.29" fill="none" stroke="#ff1a1a" stroke-width="0.81" stroke-linecap="round" stroke-linejoin="round"/><path d="M62.70,179.29 L62.90,179.18 L63.10,179.05 L63.30,178.89 L63.50,178.71 L63.70,178.50 L63.90,178.28" fill="none" stroke="#ff1a1a" stroke-width="2.76" stroke-linecap="round" stroke-linejoin="round"/><path d="M63.90,178.28 L64.10,178.05 L64.30,177.80 L64.50,177.54 L64.70,177.28 L64.90,177.01 L65.10,176.75" fill="none" stroke="#ff1a1a" stroke-width="2.76" stroke-linecap="round" stroke-linejoin="round"/><path d="M65.10,176.75 L65.30,176.48 L65.50,176.23 L65.70,175.97 L65.90,175.74 L66.10,175.51 L66.30,175.30" fill="none" stroke="#ff1a1a" stroke-width="2.76" stroke-linecap="round" stroke-linejoin="round"/><path d="M66.30,175.30 L66.50,175.10 L66.70,174.90 L66.90,174.71 L67.10,174.51 L67.30,174.32 L67.50,174.12" fill="none" stroke="#ff1a1a" stroke-width="3.68" stroke-linecap="round" stroke-linejoin="round"/><path d="M67.50,174.12 L67.70,173.93 L67.90,173.73 L68.10,173.54 L68.30,173.34 L68.50,173.15 L68.70,172.95" fill="none" stroke="#ff1a1a" stroke-width="3.68" stroke-linecap="round" stroke-linejoin="round"/><path d="M68.70,172.95 L68.90,172.75 L69.10,172.55 L69.30,172.35 L69.50,172.15 L69.70,171.94 L69.90,171.73" fill="none" stroke="#ff1a1a" stroke-width="3.68" stroke-linecap="round" stroke-linejoin="round"/><path d="M69.90,171.73 L70.10,171.52 L70.30,171.31 L70.50,171.09 L70.70,170.87 L70.90,170.64 L71.10,170.41" fill="none" stroke="#ff1a1a" stroke-width="3.68" stroke-linecap="round" stroke-linejoin="round"/><path d="M71.10,170.41 L71.30,170.18 L71.50,169.94 L71.70,169.70 L71.90,169.46 L72.10,169.21 L72.30,168.96" fill="none" stroke="#ff1a1a" stroke-width="3.68" stroke-linecap="round" stroke-linejoin="round"/><path d="M72.30,168.96 L72.50,168.71 L72.70,168.46 L72.90,168.21 L73.10,167.96 L73.30,167.71 L73.50,167.47" fill="none" stroke="#ff1a1a" stroke-width="3.68" stroke-linecap="round" stroke-linejoin="round"/><path d="M73.50,167.47 L73.70,167.22 L73.90,166.97 L74.10,166.73 L74.30,166.48 L74.50,166.24 L74.70,166.01" fill="none" stroke="#ff1a1a" stroke-width="3.68" stroke-linecap="round" stroke-linejoin="round"/><path d="M74.70,166.01 L74.90,165.77 L75.10,165.55 L75.30,165.32 L75.50,165.10 L75.70,164.88 L75.90,164.67" fill="none" stroke="#ff1a1a" stroke-width="3.68" stroke-linecap="round" stroke-linejoin="round"/><path d="M75.90,164.67 L76.10,164.45 L76.30,164.24 L76.50,164.03 L76.70,163.81 L76.90,163.60 L77.10,163.40" fill="none" stroke="#ff1a1a" stroke-width="3.68" stroke-linecap="round" stroke-linejoin="round"/><path d="M77.10,163.40 L77.30,163.19 L77.50,162.98 L77.70,162.78 L77.90,162.57 L78.10,162.37 L78.30,162.17" fill="none" stroke="#ff1a1a" stroke-width="3.68" stroke-linecap="round" stroke-linejoin="round"/><path d="M78.30,162.17 L78.50,161.98 L78.70,161.78 L78.90,161.58 L79.10,161.39 L79.30,161.20 L79.50,161.01" fill="none" stroke="#ff1a1a" stroke-width="3.68" stroke-linecap="round" stroke-linejoin="round"/><path d="M79.50,161.01 L79.70,160.82 L79.90,160.64 L80.10,160.45 L80.30,160.27 L80.50,160.09 L80.70,159.91" fill="none" stroke="#ff1a1a" stroke-width="3.68" stroke-linecap="round" stroke-linejoin="round"/><path d="M80.70,159.91 L80.90,159.73 L81.10,159.56 L81.30,159.38 L81.50,159.21 L81.70,159.03 L81.90,158.86" fill="none" stroke="#ff1a1a" stroke-width="3.68" stroke-linecap="round" stroke-linejoin="round"/><path d="M81.90,158.86 L82.10,158.69 L82.30,158.52 L82.50,158.35 L82.70,158.18 L82.90,158.02 L83.10,157.86" fill="none" stroke="#ff1a1a" stroke-width="3.68" stroke-linecap="round" stroke-linejoin="round"/><path d="M83.10,157.86 L83.30,157.69 L83.50,157.53 L83.70,157.37 L83.90,157.22 L84.10,157.06 L84.30,156.91" fill="none" stroke="#ff1a1a" stroke-width="3.68" stroke-linecap="round" stroke-linejoin="round"/><path d="M84.30,156.91 L84.50,156.76 L84.70,156.61 L84.90,156.46 L85.10,156.32 L85.30,156.18 L85.50,156.04" fill="none" stroke="#ff1a1a" stroke-width="3.68" stroke-linecap="round" stroke-linejoin="round"/><path d="M85.50,156.04 L85.70,155.90 L85.90,155.77 L86.10,155.63 L86.30,155.50 L86.50,155.37 L86.70,155.25" fill="none" stroke="#ff1a1a" stroke-width="3.68" stroke-linecap="round" stroke-linejoin="round"/><path d="M86.70,155.25 L86.90,155.12 L87.10,155.00 L87.30,154.87 L87.50,154.75 L87.70,154.64 L87.90,154.52" fill="none" stroke="#ff1a1a" stroke-width="3.68" stroke-linecap="round" stroke-linejoin="round"/><path d="M87.90,154.52 L88.10,154.40 L88.30,154.28 L88.50,154.17 L88.70,154.06 L88.90,153.94 L89.10,153.83" fill="none" stroke="#ff1a1a" stroke-width="3.68" stroke-linecap="round" stroke-linejoin="round"/><path d="M89.10,153.83 L89.30,153.72 L89.50,153.61 L89.70,153.50 L89.90,153.39 L90.10,153.28 L90.30,153.17" fill="none" stroke="#ff1a1a" stroke-width="3.68" stroke-linecap="round" stroke-linejoin="round"/><path d="M90.30,153.17 L90.50,153.06 L90.70,152.95 L90.90,152.85 L91.10,152.74 L91.30,152.63 L91.50,152.52" fill="none" stroke="#ff1a1a" stroke-width="3.68" stroke-linecap="round" stroke-linejoin="round"/><path d="M91.50,152.52 L91.70,152.41 L91.90,152.30 L92.10,152.19 L92.30,152.09 L92.50,151.98 L92.70,151.87" fill="none" stroke="#ff1a1a" stroke-width="3.68" stroke-linecap="round" stroke-linejoin="round"/><path d="M92.70,151.87 L92.90,151.76 L93.10,151.66 L93.30,151.55 L93.50,151.44 L93.70,151.34 L93.90,151.23" fill="none" stroke="#ff1a1a" stroke-width="3.68" stroke-linecap="round" stroke-linejoin="round"/><path d="M93.90,151.23 L94.10,151.13 L94.30,151.02 L94.50,150.92 L94.70,150.82 L94.90,150.72 L95.10,150.61" fill="none" stroke="#ff1a1a" stroke-width="3.68" stroke-linecap="round" stroke-linejoin="round"/><path d="M95.10,150.61 L95.30,150.51 L95.50,150.41 L95.70,150.31 L95.90,150.21 L96.10,150.11 L96.30,150.02" fill="none" stroke="#ff1a1a" stroke-width="3.68" stroke-linecap="round" stroke-linejoin="round"/><path d="M96.30,150.02 L96.50,149.92 L96.70,149.83 L96.90,149.73 L97.10,149.64 L97.30,149.54 L97.50,149.45" fill="none" stroke="#ff1a1a" stroke-width="3.68" stroke-linecap="round" stroke-linejoin="round"/><path d="M97.50,149.45 L97.70,149.36 L97.90,149.27 L98.10,149.18 L98.30,149.10 L98.50,149.01 L98.70,148.93" fill="none" stroke="#ff1a1a" stroke-width="3.68" stroke-linecap="round" stroke-linejoin="round"/><path d="M98.70,148.93 L98.90,148.84 L99.10,148.76 L99.30,148.68 L99.50,148.59 L99.70,148.51 L99.90,148.43" fill="none" stroke="#ff1a1a" stroke-width="3.68" stroke-linecap="round" stroke-linejoin="round"/><path d="M99.90,148.43 L100.10,148.35 L100.30,148.27 L100.50,148.19 L100.70,148.11 L100.90,148.02 L101.10,147.94" fill="none" stroke="#ff1a1a" stroke-width="3.68" stroke-linecap="round" stroke-linejoin="round"/><path d="M101.10,147.94 L101.30,147.86 L101.50,147.78 L101.70,147.70 L101.90,147.63 L102.10,147.55 L102.30,147.47" fill="none" stroke="#ff1a1a" stroke-width="3.68" stroke-linecap="round" stroke-linejoin="round"/><path d="M102.30,147.47 L102.50,147.39 L102.70,147.31 L102.90,147.24 L103.10,147.16 L103.30,147.09 L103.50,147.01" fill="none" stroke="#ff1a1a" stroke-width="3.68" stroke-linecap="round" stroke-linejoin="round"/><path d="M103.50,147.01 L103.70,146.94 L103.90,146.86 L104.10,146.79 L104.30,146.72 L104.50,146.64 L104.70,146.57" fill="none" stroke="#ff1a1a" stroke-width="3.68" stroke-linecap="round" stroke-linejoin="round"/><path d="M104.70,146.57 L104.90,146.50 L105.10,146.43 L105.30,146.36 L105.50,146.29 L105.70,146.23 L105.90,146.16" fill="none" stroke="#ff1a1a" stroke-width="3.68" stroke-linecap="round" stroke-linejoin="round"/><path d="M105.90,146.16 L106.10,146.09 L106.30,146.03 L106.50,145.96 L106.70,145.90 L106.90,145.84 L107.10,145.78" fill="none" stroke="#ff1a1a" stroke-width="3.68" stroke-linecap="round" stroke-linejoin="round"/><path d="M107.10,145.78 L107.30,145.72 L107.50,145.66 L107.70,145.60 L107.90,145.54 L108.10,145.48 L108.30,145.43" fill="none" stroke="#ff1a1a" stroke-width="3.68" stroke-linecap="round" stroke-linejoin="round"/><path d="M108.30,145.43 L108.50,145.37 L108.70,145.32 L108.90,145.27 L109.10,145.22 L109.30,145.17 L109.50,145.12" fill="none" stroke="#ff1a1a" stroke-width="3.68" stroke-linecap="round" stroke-linejoin="round"/><path d="M109.50,145.12 L109.70,145.07 L109.90,145.02 L110.10,144.98 L110.30,144.93 L110.50,144.89 L110.70,144.84" fill="none" stroke="#ff1a1a" stroke-width="3.68" stroke-linecap="round" stroke-linejoin="round"/><path d="M110.70,144.84 L110.90,144.80 L111.10,144.76 L111.30,144.72 L111.50,144.67 L111.70,144.63 L111.90,144.59" fill="none" stroke="#ff1a1a" stroke-width="3.68" stroke-linecap="round" stroke-linejoin="round"/><path d="M111.90,144.59 L112.10,144.55 L112.30,144.51 L112.50,144.47 L112.70,144.43 L112.90,144.39 L113.10,144.35" fill="none" stroke="#ff1a1a" stroke-width="3.68" stroke-linecap="round" stroke-linejoin="round"/><path d="M113.10,144.35 L113.30,144.31 L113.50,144.27 L113.70,144.24 L113.90,144.20 L114.10,144.16 L114.30,144.13" fill="none" stroke="#ff1a1a" stroke-width="3.68" stroke-linecap="round" stroke-linejoin="round"/><path d="M114.30,144.13 L114.50,144.09 L114.70,144.05 L114.90,144.02 L115.10,143.98 L115.30,143.95 L115.50,143.92" fill="none" stroke="#ff1a1a" stroke-width="3.68" stroke-linecap="round" stroke-linejoin="round"/><path d="M115.50,143.92 L115.70,143.88 L115.90,143.85 L116.10,143.82 L116.30,143.78 L116.50,143.75 L116.70,143.72" fill="none" stroke="#ff1a1a" stroke-width="3.68" stroke-linecap="round" stroke-linejoin="round"/><path d="M116.70,143.72 L116.90,143.69 L117.10,143.66 L117.30,143.63 L117.50,143.59 L117.70,143.56 L117.90,143.54" fill="none" stroke="#ff1a1a" stroke-width="3.68" stroke-linecap="round" stroke-linejoin="round"/><path d="M117.90,143.54 L118.10,143.51 L118.30,143.48 L118.50,143.45 L118.70,143.42 L118.90,143.39 L119.10,143.36" fill="none" stroke="#ff1a1a" stroke-width="3.68" stroke-linecap="round" stroke-linejoin="round"/><path d="M119.10,143.36 L119.30,143.34 L119.50,143.31 L119.70,143.28 L119.90,143.26 L120.10,143.23 L120.30,143.21" fill="none" stroke="#ff1a1a" stroke-width="3.68" stroke-linecap="round" stroke-linejoin="round"/><path d="M120.30,143.21 L120.50,143.18 L120.70,143.15 L120.90,143.13 L121.10,143.11 L121.30,143.08 L121.50,143.06" fill="none" stroke="#ff1a1a" stroke-width="3.68" stroke-linecap="round" stroke-linejoin="round"/><path d="M121.50,143.06 L121.70,143.03 L121.90,143.01 L122.10,142.99 L122.30,142.97 L122.50,142.94 L122.70,142.92" fill="none" stroke="#ff1a1a" stroke-width="3.68" stroke-linecap="round" stroke-linejoin="round"/><path d="M122.70,142.92 L122.90,142.90 L123.10,142.88 L123.30,142.85 L123.50,142.83 L123.70,142.81 L123.90,142.79" fill="none" stroke="#ff1a1a" stroke-width="3.68" stroke-linecap="round" stroke-linejoin="round"/><path d="M123.90,142.79 L124.10,142.77 L124.30,142.75 L124.50,142.72 L124.70,142.70 L124.90,142.68 L125.10,142.66" fill="none" stroke="#ff1a1a" stroke-width="3.68" stroke-linecap="round" stroke-linejoin="round"/><path d="M125.10,142.66 L125.30,142.64 L125.50,142.62 L125.70,142.60 L125.90,142.58 L126.10,142.56 L126.30,142.54" fill="none" stroke="#ff1a1a" stroke-width="3.68" stroke-linecap="round" stroke-linejoin="round"/><path d="M126.30,142.54 L126.50,142.52 L126.70,142.50 L126.90,142.48 L127.10,142.46 L127.30,142.45 L127.50,142.43" fill="none" stroke="#ff1a1a" stroke-width="3.68" stroke-linecap="round" stroke-linejoin="round"/><path d="M127.50,142.43 L127.70,142.41 L127.90,142.39 L128.10,142.37 L128.30,142.36 L128.50,142.34 L128.70,142.32" fill="none" stroke="#ff1a1a" stroke-width="3.68" stroke-linecap="round" stroke-linejoin="round"/><path d="M128.70,142.32 L128.90,142.31 L129.10,142.29 L129.30,142.27 L129.50,142.26 L129.70,142.24 L129.90,142.23" fill="none" stroke="#ff1a1a" stroke-width="3.68" stroke-linecap="round" stroke-linejoin="round"/><path d="M129.90,142.23 L130.10,142.21 L130.30,142.20 L130.50,142.18 L130.70,142.17 L130.90,142.15 L131.10,142.14" fill="none" stroke="#ff1a1a" stroke-width="3.68" stroke-linecap="round" stroke-linejoin="round"/><path d="M131.10,142.14 L131.30,142.13 L131.50,142.11 L131.70,142.10 L131.90,142.09 L132.10,142.08 L132.30,142.06" fill="none" stroke="#ff1a1a" stroke-width="3.68" stroke-linecap="round" stroke-linejoin="round"/><path d="M132.30,142.06 L132.50,142.05 L132.70,142.04 L132.90,142.03 L133.10,142.02 L133.30,142.01 L133.50,142.00" fill="none" stroke="#ff1a1a" stroke-width="3.68" stroke-linecap="round" stroke-linejoin="round"/>
<path d="M28.90,117.66 L29.10,116.84 L29.30,116.79 L29.50,113.98 L29.70,113.91 L29.90,120.65 L30.10,116.11 L30.30,114.90 L30.50,118.28 L30.70,117.46 L30.90,119.53 L31.10,117.74 L31.30,117.11 L31.50,115.57 L31.70,116.79 L31.90,117.45 L32.10,119.83 L32.30,118.58 L32.50,120.05 L32.70,118.47 L32.90,118.80 L33.10,111.99 L33.30,116.96 L33.50,115.30 L33.70,119.12 L33.90,118.03 L34.10,116.91 L34.30,117.77 L34.50,119.41 L34.70,118.73 L34.90,117.38 L35.10,114.10 L35.30,119.84 L35.50,113.53 L35.70,122.22 L35.90,118.89 L36.10,114.12 L36.30,119.71 L36.50,120.99 L36.70,112.74 L36.90,119.56 L37.10,116.21 L37.30,119.71 L37.50,118.31 L37.70,115.80 L37.90,116.34 L38.10,118.60 L38.30,120.31 L38.50,117.14 L38.70,116.23 L38.90,115.98 L39.10,114.70 L39.30,115.31 L39.50,116.65 L39.70,118.82 L39.90,113.13 L40.10,117.96 L40.30,118.21 L40.50,121.53 L40.70,118.85 L40.90,113.91 L41.10,119.59 L41.30,113.61 L41.50,114.60 L41.70,114.36 L41.90,119.49 L42.10,119.08 L42.30,114.31 L42.50,119.05 L42.70,118.98 L42.90,119.36 L43.10,117.44 L43.30,113.71 L43.50,113.74 L43.70,117.81 L43.90,117.97 L44.10,115.52 L44.30,114.55 L44.50,117.10 L44.70,115.53 L44.90,117.37 L45.10,119.24 L45.30,116.73 L45.50,121.76 L45.70,119.72 L45.90,117.56 L46.10,116.99 L46.30,116.39 L46.50,117.76 L46.70,120.71 L46.90,120.59 L47.10,118.90 L47.30,119.40 L47.50,115.05 L47.70,116.08 L47.90,116.95 L48.10,115.96 L48.30,115.12 L48.50,118.33 L48.70,115.30 L48.90,119.70 L49.10,116.96 L49.30,117.84 L49.50,114.50 L49.70,118.95 L49.90,113.26 L50.10,115.89 L50.30,119.74 L50.50,113.47 L50.70,118.40 L50.90,117.43 L51.10,113.13 L51.30,116.23 L51.50,117.81 L51.70,114.42 L51.90,119.37 L52.10,116.29 L52.30,114.63 L52.50,118.49 L52.70,116.54 L52.90,118.53 L53.10,114.35 L53.30,117.22 L53.50,118.36 L53.70,117.85 L53.90,119.57 L54.10,122.70 L54.30,123.86 L54.50,126.77 L54.70,129.20 L54.90,133.09 L55.10,137.32 L55.30,142.33 L55.50,147.34 L55.70,150.21 L55.90,153.42 L56.10,156.58 L56.30,158.39 L56.50,162.22 L56.70,164.44 L56.90,165.74 L57.10,166.37 L57.30,167.99 L57.50,168.81 L57.70,170.55 L57.90,170.44 L58.10,172.44 L58.30,172.69 L58.50,173.82 L58.70,174.20 L58.90,174.63 L59.10,175.41 L59.30,175.11 L59.50,175.79 L59.70,176.46 L59.90,176.84 L60.10,176.67 L60.30,177.65 L60.50,177.94 L60.70,178.03 L60.90,177.87 L61.10,178.34 L61.30,178.81 L61.50,179.13 L61.70,179.56 L61.90,179.12 L62.10,180.03 L62.30,179.00 L62.50,180.66 L62.70,181.31 L62.90,178.81 L63.10,180.45 L63.30,177.14 L63.50,179.59 L63.70,176.15 L63.90,180.96 L64.10,177.92 L64.30,179.85 L64.50,177.84 L64.70,176.54 L64.90,180.01 L65.10,176.63 L65.30,177.31 L65.50,175.07 L65.70,175.12 L65.90,177.35 L66.10,175.19 L66.30,178.05 L66.50,174.42 L66.70,174.85 L66.90,178.30 L67.10,176.17 L67.30,173.17 L67.50,173.13 L67.70,173.53 L67.90,176.45 L68.10,174.86 L68.30,172.96 L68.50,173.61 L68.70,173.48 L68.90,175.41 L69.10,173.74 L69.30,173.24 L69.50,172.21 L69.70,174.53 L69.90,173.16 L70.10,168.51 L70.30,168.88 L70.50,173.98 L70.70,172.55 L70.90,173.77 L71.10,169.19 L71.30,170.32 L71.50,167.53 L71.70,167.72 L71.90,168.78 L72.10,172.35 L72.30,170.71 L72.50,171.45 L72.70,167.01 L72.90,169.04 L73.10,166.64 L73.30,168.79 L73.50,167.33 L73.70,166.86 L73.90,167.70 L74.10,166.36 L74.30,167.28 L74.50,161.46 L74.70,164.72 L74.90,168.23 L75.10,167.08 L75.30,164.20 L75.50,164.96 L75.70,168.18 L75.90,162.80 L76.10,164.28 L76.30,162.83 L76.50,164.73 L76.70,164.62 L76.90,162.74 L77.10,163.74 L77.30,160.65 L77.50,165.94 L77.70,164.06 L77.90,164.47 L78.10,165.06 L78.30,163.65 L78.50,161.87 L78.70,165.59 L78.90,160.62 L79.10,160.89 L79.30,162.61 L79.50,161.48 L79.70,161.02 L79.90,163.61 L80.10,160.20 L80.30,160.16 L80.50,160.29 L80.70,161.41 L80.90,161.81 L81.10,162.99 L81.30,159.80 L81.50,156.91 L81.70,155.86 L81.90,160.68 L82.10,163.46 L82.30,155.76 L82.50,161.33 L82.70,154.42 L82.90,157.17 L83.10,160.04 L83.30,157.93 L83.50,159.41 L83.70,156.98 L83.90,156.00 L84.10,156.49 L84.30,160.01 L84.50,154.89 L84.70,156.16 L84.90,154.72 L85.10,157.53 L85.30,155.59 L85.50,155.08 L85.70,153.39 L85.90,158.95 L86.10,154.92 L86.30,155.31 L86.50,156.52 L86.70,155.44 L86.90,152.80 L87.10,156.03 L87.30,152.03 L87.50,155.45 L87.70,154.58 L87.90,151.60 L88.10,156.13 L88.30,154.90 L88.50,155.32 L88.70,155.02 L88.90,151.58 L89.10,154.02 L89.30,153.82 L89.50,152.10 L89.70,155.32 L89.90,151.50 L90.10,152.71 L90.30,151.41 L90.50,150.73 L90.70,148.94 L90.90,158.21 L91.10,150.86 L91.30,152.23 L91.50,152.12 L91.70,153.49 L91.90,146.96 L92.10,153.99 L92.30,154.01 L92.50,151.01 L92.70,153.86 L92.90,154.99 L93.10,152.48 L93.30,151.16 L93.50,154.00 L93.70,153.29 L93.90,150.31 L94.10,152.88 L94.30,149.57 L94.50,151.76 L94.70,151.66 L94.90,150.39 L95.10,148.52 L95.30,149.11 L95.50,149.66 L95.70,153.38 L95.90,147.29 L96.10,146.42 L96.30,146.99 L96.50,153.60 L96.70,146.34 L96.90,150.80 L97.10,149.00 L97.30,153.48 L97.50,150.63 L97.70,148.08 L97.90,148.53 L98.10,149.91 L98.30,150.19 L98.50,146.60 L98.70,147.79 L98.90,148.15 L99.10,148.50 L99.30,145.30 L99.50,151.99 L99.70,147.23 L99.90,148.02 L100.10,147.01 L100.30,148.42 L100.50,146.48 L100.70,147.80 L100.90,150.55 L101.10,145.00 L101.30,148.55 L101.50,148.26 L101.70,146.67 L101.90,146.41 L102.10,144.56 L102.30,149.33 L102.50,146.86 L102.70,148.48 L102.90,146.94 L103.10,147.50 L103.30,147.23 L103.50,146.55 L103.70,145.58 L103.90,146.96 L104.10,149.45 L104.30,146.91 L104.50,146.80 L104.70,150.55 L104.90,144.70 L105.10,143.37 L105.30,147.50 L105.50,143.29 L105.70,144.92 L105.90,144.55 L106.10,146.35 L106.30,148.90 L106.50,147.34 L106.70,146.33 L106.90,143.47 L107.10,148.12 L107.30,145.26 L107.50,147.20 L107.70,146.37 L107.90,146.76 L108.10,144.08 L108.30,141.38 L108.50,143.75 L108.70,143.92 L108.90,147.86 L109.10,148.88 L109.30,147.54 L109.50,144.18 L109.70,143.24 L109.90,143.28 L110.10,143.09 L110.30,142.80 L110.50,143.30 L110.70,145.87 L110.90,146.21 L111.10,142.44 L111.30,144.71 L111.50,144.02 L111.70,145.26 L111.90,145.54 L112.10,143.33 L112.30,144.78 L112.50,144.65 L112.70,144.09 L112.90,145.35 L113.10,145.39 L113.30,149.40 L113.50,141.59 L113.70,142.47 L113.90,144.40 L114.10,144.74 L114.30,144.87 L114.50,147.27 L114.70,144.57 L114.90,147.28 L115.10,143.31 L115.30,144.40 L115.50,146.14 L115.70,145.15 L115.90,144.74 L116.10,143.42 L116.30,143.99 L116.50,146.53 L116.70,144.94 L116.90,139.73 L117.10,143.64 L117.30,148.45 L117.50,147.19 L117.70,143.44 L117.90,141.76 L118.10,144.67 L118.30,144.36 L118.50,144.87 L118.70,144.04 L118.90,146.61 L119.10,146.56 L119.30,140.35 L119.50,142.19 L119.70,143.22 L119.90,142.82 L120.10,144.56 L120.30,141.22 L120.50,142.81 L120.70,141.62 L120.90,146.21 L121.10,143.98 L121.30,144.49 L121.50,142.72 L121.70,145.41 L121.90,140.65 L122.10,141.75 L122.30,144.88 L122.50,143.04 L122.70,146.23 L122.90,142.17 L123.10,142.68 L123.30,143.34 L123.50,139.73 L123.70,141.54 L123.90,141.28 L124.10,142.63 L124.30,145.67 L124.50,142.63 L124.70,142.95 L124.90,147.08 L125.10,142.32 L125.30,141.35 L125.50,143.64 L125.70,144.34 L125.90,140.29 L126.10,142.78 L126.30,144.17 L126.50,142.63 L126.70,143.73 L126.90,143.80 L127.10,140.72 L127.30,141.63 L127.50,141.71 L127.70,143.30 L127.90,140.72 L128.10,144.71 L128.30,144.42 L128.50,144.45 L128.70,141.35 L128.90,142.30 L129.10,142.93 L129.30,143.49 L129.50,143.86 L129.70,142.36 L129.90,144.84 L130.10,145.59 L130.30,144.96 L130.50,146.01 L130.70,138.19 L130.90,143.42 L131.10,143.08 L131.30,139.93 L131.50,142.33 L131.70,144.96 L131.90,143.22 L132.10,137.57 L132.30,141.12 L132.50,140.27 L132.70,142.69 L132.90,141.10 L133.10,144.28 L133.30,141.52 L133.50,143.39" fill="none" stroke="#ff1a1a" stroke-width="1.0" stroke-linejoin="round"/>
<path d="M93.5,98.3 H120.4 V77.7" fill="none" stroke="#000" stroke-width="1.4"/>
<path d="M93.9,186.2 H120.0 V163.3" fill="none" stroke="#000" stroke-width="1.4"/>
<text x="171.0" y="18.7" font-size="17.6" font-weight="bold" fill="#141414" stroke="#141414" stroke-width="0.25" text-anchor="start" textLength="20.8" lengthAdjust="spacingAndGlyphs">A2</text>
<line x1="267.8" y1="15.5" x2="267.8" y2="21.5" stroke="#111" stroke-width="1.4"/>
<line x1="265.2" y1="17.0" x2="270.4" y2="20.0" stroke="#111" stroke-width="1.4"/>
<line x1="270.4" y1="17.0" x2="265.2" y2="20.0" stroke="#111" stroke-width="1.4"/>
<line x1="230.5" y1="28.1" x2="230.5" y2="181.4" stroke="#b4b4b4" stroke-width="1"/>
<line x1="226.4" y1="181.4" x2="230.5" y2="181.4" stroke="#b4b4b4" stroke-width="1"/>
<text x="217.7" y="185.5" font-size="11" fill="#141414" stroke="#141414" stroke-width="0.12" text-anchor="end">0</text>
<line x1="226.4" y1="150.64000000000001" x2="230.5" y2="150.64000000000001" stroke="#b4b4b4" stroke-width="1"/>
<text x="217.7" y="154.74" font-size="11" fill="#141414" stroke="#141414" stroke-width="0.12" text-anchor="end">2</text>
<line x1="226.4" y1="119.88" x2="230.5" y2="119.88" stroke="#b4b4b4" stroke-width="1"/>
<text x="217.7" y="123.98" font-size="11" fill="#141414" stroke="#141414" stroke-width="0.12" text-anchor="end">4</text>
<line x1="226.4" y1="89.12" x2="230.5" y2="89.12" stroke="#b4b4b4" stroke-width="1"/>
<text x="217.7" y="93.22" font-size="11" fill="#141414" stroke="#141414" stroke-width="0.12" text-anchor="end">6</text>
<line x1="226.4" y1="58.36" x2="230.5" y2="58.36" stroke="#b4b4b4" stroke-width="1"/>
<text x="217.7" y="62.46" font-size="11" fill="#141414" stroke="#141414" stroke-width="0.12" text-anchor="end">8</text>
<line x1="226.4" y1="27.599999999999994" x2="230.5" y2="27.599999999999994" stroke="#b4b4b4" stroke-width="1"/>
<text x="217.7" y="31.7" font-size="11" fill="#141414" stroke="#141414" stroke-width="0.12" text-anchor="end">10</text>
<line x1="230.5" y1="181.4" x2="306" y2="181.4" stroke="#b4b4b4" stroke-width="1"/>
<line x1="230.5" y1="181.4" x2="230.5" y2="184.6" stroke="#b4b4b4" stroke-width="1"/>
<line x1="267.5" y1="181.4" x2="267.5" y2="184.6" stroke="#b4b4b4" stroke-width="1"/>
<line x1="306" y1="181.4" x2="306" y2="184.6" stroke="#b4b4b4" stroke-width="1"/>
<rect x="232.4" y="73.74" width="32.30" height="30.76" fill="#ffb3b3" stroke="#000" stroke-width="1"/>
<rect x="232.4" y="104.5" width="32.30" height="76.90" fill="#ff1616" stroke="#000" stroke-width="1"/>
<rect x="270.5" y="42.97999999999999" width="32.80" height="107.66" fill="#b4d4ea" stroke="#000" stroke-width="1"/>
<rect x="270.5" y="150.64000000000001" width="32.80" height="30.76" fill="#0a7fbe" stroke="#000" stroke-width="1"/>
<text stroke="#141414" stroke-width="0.25" transform="translate(198.8,104.7) rotate(-90)" x="0" y="0" font-size="11" font-weight="bold" fill="#141414" text-anchor="middle" textLength="58.6" lengthAdjust="spacingAndGlyphs">No. of cells</text>
<text x="238.1" y="202.5" font-size="11.5" font-weight="bold" fill="#141414" stroke="#141414" stroke-width="0.25" text-anchor="start" textLength="21.0" lengthAdjust="spacingAndGlyphs">p10</text>
<text x="275.9" y="202.5" font-size="11.5" font-weight="bold" fill="#141414" stroke="#141414" stroke-width="0.25" text-anchor="start" textLength="21.0" lengthAdjust="spacingAndGlyphs">p60</text>
<rect x="318.7" y="101.0" width="7.70" height="6.00" fill="#c0c0c0" stroke="#333" stroke-width="1"/>
<rect x="318.2" y="122.3" width="8.70" height="7.10" fill="#000" stroke="none" stroke-width="1"/>
<text x="328.8" y="107.8" font-size="10.5" font-weight="bold" fill="#141414" stroke="#141414" stroke-width="0.25" text-anchor="start" textLength="34.6" lengthAdjust="spacingAndGlyphs">DIA (-)</text>
<text x="328.8" y="129.8" font-size="10.5" font-weight="bold" fill="#141414" stroke="#141414" stroke-width="0.25" text-anchor="start" textLength="35.8" lengthAdjust="spacingAndGlyphs">DIA (+)</text>
<text x="398.9" y="18.1" font-size="17.2" font-weight="bold" fill="#141414" stroke="#141414" stroke-width="0.25" text-anchor="start" textLength="10.6" lengthAdjust="spacingAndGlyphs">C</text>
<line x1="432.6" y1="19.2" x2="432.6" y2="145.3" stroke="#333" stroke-width="1.2"/>
<line x1="432.0" y1="145.0" x2="539" y2="145.0" stroke="#333" stroke-width="1.2"/>
<line x1="429.3" y1="42.9" x2="432.6" y2="42.9" stroke="#333" stroke-width="1.1"/>
<text x="427.5" y="47.0" font-size="11.5" fill="#5e5e5e" stroke="#5e5e5e" stroke-width="0.2" text-anchor="end" textLength="15.6" lengthAdjust="spacingAndGlyphs">7.5</text>
<line x1="429.3" y1="79.0" x2="432.6" y2="79.0" stroke="#333" stroke-width="1.1"/>
<text x="427.5" y="83.1" font-size="11.5" fill="#5e5e5e" stroke="#5e5e5e" stroke-width="0.2" text-anchor="end" textLength="15.6" lengthAdjust="spacingAndGlyphs">5.0</text>
<line x1="429.3" y1="115.2" x2="432.6" y2="115.2" stroke="#333" stroke-width="1.1"/>
<text x="427.5" y="119.3" font-size="11.5" fill="#5e5e5e" stroke="#5e5e5e" stroke-width="0.2" text-anchor="end" textLength="15.6" lengthAdjust="spacingAndGlyphs">2.5</text>
<line x1="462.3" y1="145" x2="462.3" y2="147.6" stroke="#333" stroke-width="1.1"/>
<line x1="510.7" y1="145" x2="510.7" y2="147.6" stroke="#333" stroke-width="1.1"/>
<text x="451.9" y="158.7" font-size="11.2" font-weight="bold" fill="#444" stroke="#444" stroke-width="0.25" text-anchor="start" textLength="19.8" lengthAdjust="spacingAndGlyphs">p10</text>
<text x="500.5" y="158.7" font-size="11.2" font-weight="bold" fill="#444" stroke="#444" stroke-width="0.25" text-anchor="start" textLength="19.5" lengthAdjust="spacingAndGlyphs">p60</text>
<text stroke="#141414" stroke-width="0.25" transform="translate(408.6,82.2) rotate(-90)" x="0" y="0" font-size="10.6" font-weight="bold" fill="#141414" text-anchor="middle" textLength="73.3" lengthAdjust="spacingAndGlyphs">Rise time (ms)</text>
<line x1="462.3" y1="111.7" x2="462.3" y2="119.6" stroke="#333" stroke-width="1"/>
<line x1="462.3" y1="135.6" x2="462.3" y2="138.8" stroke="#333" stroke-width="1"/>
<rect x="444.0" y="119.6" width="34.80" height="16.00" fill="#fe1212" stroke="#333" stroke-width="1"/>
<line x1="444.0" y1="131.6" x2="478.8" y2="131.6" stroke="#333" stroke-width="2"/>
<line x1="510.5" y1="40.8" x2="510.5" y2="70.1" stroke="#333" stroke-width="1"/>
<line x1="510.5" y1="101.9" x2="510.5" y2="114.0" stroke="#333" stroke-width="1"/>
<rect x="492.6" y="70.1" width="35.00" height="31.80" fill="#0480be" stroke="#333" stroke-width="1"/>
<line x1="492.6" y1="82.0" x2="527.6" y2="82.0" stroke="#333" stroke-width="2"/>
<circle cx="462.2" cy="25.0" r="1.7" fill="#000"/>
<circle cx="462.2" cy="68.0" r="1.7" fill="#000"/>
<line x1="464.3" y1="18.6" x2="509.8" y2="18.6" stroke="#000" stroke-width="1.6"/>
<line x1="479.4" y1="9.3" x2="479.4" y2="14.7" stroke="#111" stroke-width="1.2"/>
<line x1="477.06" y1="10.65" x2="481.74" y2="13.35" stroke="#111" stroke-width="1.2"/>
<line x1="481.74" y1="10.65" x2="477.06" y2="13.35" stroke="#111" stroke-width="1.2"/>
<line x1="486.6" y1="9.3" x2="486.6" y2="14.7" stroke="#111" stroke-width="1.2"/>
<line x1="484.26" y1="10.65" x2="488.94" y2="13.35" stroke="#111" stroke-width="1.2"/>
<line x1="488.94" y1="10.65" x2="484.26" y2="13.35" stroke="#111" stroke-width="1.2"/>
<line x1="493.8" y1="9.3" x2="493.8" y2="14.7" stroke="#111" stroke-width="1.2"/>
<line x1="491.46" y1="10.65" x2="496.14" y2="13.35" stroke="#111" stroke-width="1.2"/>
<line x1="496.14" y1="10.65" x2="491.46" y2="13.35" stroke="#111" stroke-width="1.2"/>
<text x="2.5" y="231.0" font-size="17.6" font-weight="bold" fill="#141414" stroke="#141414" stroke-width="0.25" text-anchor="start" textLength="20.0" lengthAdjust="spacingAndGlyphs">B1</text>
<line x1="30.4" y1="223.7" x2="51.0" y2="223.7" stroke="#000" stroke-width="1.7" stroke-linecap="round"/>
<line x1="30.4" y1="236.9" x2="51.0" y2="236.9" stroke="#ff0000" stroke-width="1.7" stroke-linecap="round"/>
<text x="54.3" y="226.5" font-size="10.0" fill="#141414" stroke="#141414" stroke-width="0.32" text-anchor="start" textLength="34.0" lengthAdjust="spacingAndGlyphs">control</text>
<text x="56.6" y="239.8" font-size="10.0" fill="#141414" stroke="#141414" stroke-width="0.32" text-anchor="start" textLength="78.8" lengthAdjust="spacingAndGlyphs">+ 1 µM Zolpidem</text>
<text x="3.9" y="280.1" font-size="11.4" fill="#141414" stroke="#141414" stroke-width="0.32" text-anchor="start" textLength="20.4" lengthAdjust="spacingAndGlyphs">p10</text>
<text x="3.4" y="355.5" font-size="11.4" fill="#141414" stroke="#141414" stroke-width="0.32" text-anchor="start" textLength="19.8" lengthAdjust="spacingAndGlyphs">p60</text>
<path d="M29.60,248.70 L29.80,248.70 L30.00,248.70 L30.20,248.70 L30.40,248.70 L30.60,248.70 L30.80,248.70 L31.00,248.70 L31.20,248.70 L31.40,248.70 L31.60,248.70" fill="none" stroke="#000" stroke-width="5.52" stroke-linecap="round" stroke-linejoin="round"/><path d="M31.60,248.70 L31.80,248.70 L32.00,248.70 L32.20,248.70 L32.40,248.70 L32.60,248.70 L32.80,248.70 L33.00,248.70 L33.20,248.70 L33.40,248.70 L33.60,248.70" fill="none" stroke="#000" stroke-width="5.52" stroke-linecap="round" stroke-linejoin="round"/><path d="M33.60,248.70 L33.80,248.70 L34.00,248.70 L34.20,248.70 L34.40,248.70 L34.60,248.70 L34.80,248.70 L35.00,248.70 L35.20,248.70 L35.40,248.70 L35.60,248.70" fill="none" stroke="#000" stroke-width="5.52" stroke-linecap="round" stroke-linejoin="round"/><path d="M35.60,248.70 L35.80,248.70 L36.00,248.70 L36.20,248.70 L36.40,248.70 L36.60,248.70 L36.80,248.70 L37.00,248.70 L37.20,248.70 L37.40,248.70 L37.60,248.70" fill="none" stroke="#000" stroke-width="5.52" stroke-linecap="round" stroke-linejoin="round"/><path d="M37.60,248.70 L37.80,248.70 L38.00,248.70 L38.20,248.70 L38.40,248.70 L38.60,248.70 L38.80,248.70 L39.00,248.70 L39.20,248.70 L39.40,248.70 L39.60,248.70" fill="none" stroke="#000" stroke-width="5.52" stroke-linecap="round" stroke-linejoin="round"/><path d="M39.60,248.70 L39.80,248.70 L40.00,248.70 L40.20,248.70 L40.40,248.70 L40.60,248.70 L40.80,248.70 L41.00,248.70 L41.20,248.70 L41.40,248.70 L41.60,248.70" fill="none" stroke="#000" stroke-width="5.52" stroke-linecap="round" stroke-linejoin="round"/><path d="M41.60,248.70 L41.80,248.70 L42.00,248.70 L42.20,248.70 L42.40,248.70 L42.60,248.70 L42.80,248.70 L43.00,248.70 L43.20,248.70 L43.40,248.70 L43.60,248.70" fill="none" stroke="#000" stroke-width="5.52" stroke-linecap="round" stroke-linejoin="round"/><path d="M43.60,248.70 L43.80,248.70 L44.00,248.70 L44.20,248.70 L44.40,248.70 L44.60,248.70 L44.80,248.70 L45.00,248.70 L45.20,248.70 L45.40,248.70 L45.60,248.70" fill="none" stroke="#000" stroke-width="5.52" stroke-linecap="round" stroke-linejoin="round"/><path d="M45.60,248.70 L45.80,248.70 L46.00,248.70 L46.20,248.70 L46.40,248.70 L46.60,248.70 L46.80,248.70 L47.00,248.70 L47.20,248.70 L47.40,248.70 L47.60,248.70" fill="none" stroke="#000" stroke-width="5.52" stroke-linecap="round" stroke-linejoin="round"/><path d="M47.60,248.70 L47.80,248.70 L48.00,248.70 L48.20,248.70 L48.40,248.70 L48.60,248.70 L48.80,248.70 L49.00,248.70 L49.20,248.70 L49.40,248.70 L49.60,248.70" fill="none" stroke="#000" stroke-width="5.52" stroke-linecap="round" stroke-linejoin="round"/><path d="M49.60,248.70 L49.80,248.70 L50.00,248.70 L50.20,248.70 L50.40,248.70 L50.60,248.70 L50.80,248.70 L51.00,248.70 L51.20,248.70 L51.40,248.70 L51.60,248.70" fill="none" stroke="#000" stroke-width="5.52" stroke-linecap="round" stroke-linejoin="round"/><path d="M51.60,248.70 L51.80,248.70 L52.00,248.70 L52.20,248.70 L52.40,248.70 L52.60,248.70 L52.80,248.70" fill="none" stroke="#000" stroke-width="5.52" stroke-linecap="round" stroke-linejoin="round"/><path d="M52.80,248.70 L52.90,248.70 L53.10,255.98 L53.30,262.00 L53.50,266.94 L53.70,271.31 L53.90,274.75" fill="none" stroke="#000" stroke-width="1.21" stroke-linecap="round" stroke-linejoin="round"/><path d="M53.90,274.75 L54.10,277.07 L54.30,279.10 L54.50,280.72 L54.70,281.67 L54.90,281.78 L55.10,281.61" fill="none" stroke="#000" stroke-width="1.21" stroke-linecap="round" stroke-linejoin="round"/><path d="M55.10,281.61 L55.30,281.30 L55.50,280.89 L55.70,280.41 L55.90,279.90 L56.10,279.38 L56.30,278.91" fill="none" stroke="#000" stroke-width="1.93" stroke-linecap="round" stroke-linejoin="round"/><path d="M56.30,278.91 L56.50,278.50 L56.70,278.14 L56.90,277.78 L57.10,277.43 L57.30,277.08 L57.50,276.73" fill="none" stroke="#000" stroke-width="1.93" stroke-linecap="round" stroke-linejoin="round"/><path d="M57.50,276.73 L57.70,276.38 L57.90,276.04 L58.10,275.71 L58.30,275.38 L58.50,275.06 L58.70,274.74" fill="none" stroke="#000" stroke-width="3.59" stroke-linecap="round" stroke-linejoin="round"/><path d="M58.70,274.74 L58.90,274.44 L59.10,274.13 L59.30,273.84 L59.50,273.56 L59.70,273.28 L59.90,272.99" fill="none" stroke="#000" stroke-width="5.24" stroke-linecap="round" stroke-linejoin="round"/><path d="M59.90,272.99 L60.10,272.71 L60.30,272.43 L60.50,272.16 L60.70,271.88 L60.90,271.61 L61.10,271.34" fill="none" stroke="#000" stroke-width="5.52" stroke-linecap="round" stroke-linejoin="round"/><path d="M61.10,271.34 L61.30,271.08 L61.50,270.82 L61.70,270.56 L61.90,270.31 L62.10,270.06 L62.30,269.82" fill="none" stroke="#000" stroke-width="5.52" stroke-linecap="round" stroke-linejoin="round"/><path d="M62.30,269.82 L62.50,269.59 L62.70,269.36 L62.90,269.14 L63.10,268.93 L63.30,268.72 L63.50,268.52" fill="none" stroke="#000" stroke-width="5.52" stroke-linecap="round" stroke-linejoin="round"/><path d="M63.50,268.52 L63.70,268.33 L63.90,268.15 L64.10,267.98 L64.30,267.82 L64.50,267.66 L64.70,267.51" fill="none" stroke="#000" stroke-width="5.52" stroke-linecap="round" stroke-linejoin="round"/><path d="M64.70,267.51 L64.90,267.37 L65.10,267.23 L65.30,267.09 L65.50,266.96 L65.70,266.83 L65.90,266.70" fill="none" stroke="#000" stroke-width="5.52" stroke-linecap="round" stroke-linejoin="round"/><path d="M65.90,266.70 L66.10,266.58 L66.30,266.46 L66.50,266.34 L66.70,266.23 L66.90,266.12 L67.10,266.01" fill="none" stroke="#000" stroke-width="5.52" stroke-linecap="round" stroke-linejoin="round"/><path d="M67.10,266.01 L67.30,265.90 L67.50,265.79 L67.70,265.69 L67.90,265.58 L68.10,265.47 L68.30,265.37" fill="none" stroke="#000" stroke-width="5.52" stroke-linecap="round" stroke-linejoin="round"/><path d="M68.30,265.37 L68.50,265.26 L68.70,265.16 L68.90,265.05 L69.10,264.95 L69.30,264.84 L69.50,264.74" fill="none" stroke="#000" stroke-width="5.52" stroke-linecap="round" stroke-linejoin="round"/><path d="M69.50,264.74 L69.70,264.63 L69.90,264.53 L70.10,264.42 L70.30,264.32 L70.50,264.22 L70.70,264.12" fill="none" stroke="#000" stroke-width="5.52" stroke-linecap="round" stroke-linejoin="round"/><path d="M70.70,264.12 L70.90,264.02 L71.10,263.93 L71.30,263.83 L71.50,263.73 L71.70,263.64 L71.90,263.54" fill="none" stroke="#000" stroke-width="5.52" stroke-linecap="round" stroke-linejoin="round"/><path d="M71.90,263.54 L72.10,263.45 L72.30,263.36 L72.50,263.27 L72.70,263.18 L72.90,263.09 L73.10,263.00" fill="none" stroke="#000" stroke-width="5.52" stroke-linecap="round" stroke-linejoin="round"/><path d="M73.10,263.00 L73.30,262.91 L73.50,262.83 L73.70,262.74 L73.90,262.66 L74.10,262.57 L74.30,262.49" fill="none" stroke="#000" stroke-width="5.52" stroke-linecap="round" stroke-linejoin="round"/><path d="M74.30,262.49 L74.50,262.41 L74.70,262.32 L74.90,262.24 L75.10,262.16 L75.30,262.08 L75.50,261.99" fill="none" stroke="#000" stroke-width="5.52" stroke-linecap="round" stroke-linejoin="round"/><path d="M75.50,261.99 L75.70,261.91 L75.90,261.83 L76.10,261.75 L76.30,261.67 L76.50,261.59 L76.70,261.51" fill="none" stroke="#000" stroke-width="5.52" stroke-linecap="round" stroke-linejoin="round"/><path d="M76.70,261.51 L76.90,261.43 L77.10,261.35 L77.30,261.27 L77.50,261.19 L77.70,261.11 L77.90,261.04" fill="none" stroke="#000" stroke-width="5.52" stroke-linecap="round" stroke-linejoin="round"/><path d="M77.90,261.04 L78.10,260.96 L78.30,260.88 L78.50,260.81 L78.70,260.73 L78.90,260.66 L79.10,260.59" fill="none" stroke="#000" stroke-width="5.52" stroke-linecap="round" stroke-linejoin="round"/><path d="M79.10,260.59 L79.30,260.51 L79.50,260.44 L79.70,260.37 L79.90,260.30 L80.10,260.23 L80.30,260.16" fill="none" stroke="#000" stroke-width="5.52" stroke-linecap="round" stroke-linejoin="round"/><path d="M80.30,260.16 L80.50,260.09 L80.70,260.03 L80.90,259.96 L81.10,259.90 L81.30,259.83 L81.50,259.77" fill="none" stroke="#000" stroke-width="5.52" stroke-linecap="round" stroke-linejoin="round"/><path d="M81.50,259.77 L81.70,259.71 L81.90,259.65 L82.10,259.59 L82.30,259.53 L82.50,259.47 L82.70,259.41" fill="none" stroke="#000" stroke-width="5.52" stroke-linecap="round" stroke-linejoin="round"/><path d="M82.70,259.41 L82.90,259.36 L83.10,259.30 L83.30,259.25 L83.50,259.20 L83.70,259.15 L83.90,259.10" fill="none" stroke="#000" stroke-width="5.52" stroke-linecap="round" stroke-linejoin="round"/><path d="M83.90,259.10 L84.10,259.05 L84.30,259.00 L84.50,258.95 L84.70,258.91 L84.90,258.86 L85.10,258.81" fill="none" stroke="#000" stroke-width="5.52" stroke-linecap="round" stroke-linejoin="round"/><path d="M85.10,258.81 L85.30,258.77 L85.50,258.72 L85.70,258.68 L85.90,258.64 L86.10,258.59 L86.30,258.55" fill="none" stroke="#000" stroke-width="5.52" stroke-linecap="round" stroke-linejoin="round"/><path d="M86.30,258.55 L86.50,258.51 L86.70,258.47 L86.90,258.43 L87.10,258.39 L87.30,258.35 L87.50,258.31" fill="none" stroke="#000" stroke-width="5.52" stroke-linecap="round" stroke-linejoin="round"/><path d="M87.50,258.31 L87.70,258.27 L87.90,258.23 L88.10,258.19 L88.30,258.15 L88.50,258.12 L88.70,258.08" fill="none" stroke="#000" stroke-width="5.52" stroke-linecap="round" stroke-linejoin="round"/><path d="M88.70,258.08 L88.90,258.04 L89.10,258.00 L89.30,257.97 L89.50,257.93 L89.70,257.90 L89.90,257.86" fill="none" stroke="#000" stroke-width="5.52" stroke-linecap="round" stroke-linejoin="round"/><path d="M89.90,257.86 L90.10,257.82 L90.30,257.79 L90.50,257.75 L90.70,257.72 L90.90,257.68 L91.10,257.65" fill="none" stroke="#000" stroke-width="5.52" stroke-linecap="round" stroke-linejoin="round"/><path d="M91.10,257.65 L91.30,257.61 L91.50,257.58 L91.70,257.54 L91.90,257.51 L92.10,257.47 L92.30,257.44" fill="none" stroke="#000" stroke-width="5.52" stroke-linecap="round" stroke-linejoin="round"/><path d="M92.30,257.44 L92.50,257.40 L92.70,257.37 L92.90,257.33 L93.10,257.30 L93.30,257.27 L93.50,257.23" fill="none" stroke="#000" stroke-width="5.52" stroke-linecap="round" stroke-linejoin="round"/><path d="M93.50,257.23 L93.70,257.20 L93.90,257.16 L94.10,257.13 L94.30,257.09 L94.50,257.06 L94.70,257.03" fill="none" stroke="#000" stroke-width="5.52" stroke-linecap="round" stroke-linejoin="round"/><path d="M94.70,257.03 L94.90,257.00 L95.10,256.96 L95.30,256.93 L95.50,256.90 L95.70,256.87 L95.90,256.83" fill="none" stroke="#000" stroke-width="5.52" stroke-linecap="round" stroke-linejoin="round"/><path d="M95.90,256.83 L96.10,256.80 L96.30,256.77 L96.50,256.74 L96.70,256.71 L96.90,256.68 L97.10,256.64" fill="none" stroke="#000" stroke-width="5.52" stroke-linecap="round" stroke-linejoin="round"/><path d="M97.10,256.64 L97.30,256.61 L97.50,256.58 L97.70,256.55 L97.90,256.52 L98.10,256.49 L98.30,256.46" fill="none" stroke="#000" stroke-width="5.52" stroke-linecap="round" stroke-linejoin="round"/><path d="M98.30,256.46 L98.50,256.43 L98.70,256.40 L98.90,256.37 L99.10,256.34 L99.30,256.31 L99.50,256.28" fill="none" stroke="#000" stroke-width="5.52" stroke-linecap="round" stroke-linejoin="round"/><path d="M99.50,256.28 L99.70,256.25 L99.90,256.22 L100.10,256.19 L100.30,256.16 L100.50,256.13 L100.70,256.10" fill="none" stroke="#000" stroke-width="5.52" stroke-linecap="round" stroke-linejoin="round"/><path d="M100.70,256.10 L100.90,256.07 L101.10,256.04 L101.30,256.01 L101.50,255.98 L101.70,255.95 L101.90,255.92" fill="none" stroke="#000" stroke-width="5.52" stroke-linecap="round" stroke-linejoin="round"/><path d="M101.90,255.92 L102.10,255.89 L102.30,255.86 L102.50,255.83 L102.70,255.80 L102.90,255.77 L103.10,255.74" fill="none" stroke="#000" stroke-width="5.52" stroke-linecap="round" stroke-linejoin="round"/><path d="M103.10,255.74 L103.30,255.71 L103.50,255.68 L103.70,255.65 L103.90,255.62 L104.10,255.59 L104.30,255.55" fill="none" stroke="#000" stroke-width="5.52" stroke-linecap="round" stroke-linejoin="round"/><path d="M104.30,255.55 L104.50,255.52 L104.70,255.49 L104.90,255.46 L105.10,255.43 L105.30,255.40 L105.50,255.37" fill="none" stroke="#000" stroke-width="5.52" stroke-linecap="round" stroke-linejoin="round"/><path d="M105.50,255.37 L105.70,255.34 L105.90,255.31 L106.10,255.28 L106.30,255.24 L106.50,255.21 L106.70,255.18" fill="none" stroke="#000" stroke-width="5.52" stroke-linecap="round" stroke-linejoin="round"/><path d="M106.70,255.18 L106.90,255.15 L107.10,255.12 L107.30,255.09 L107.50,255.06 L107.70,255.03 L107.90,255.00" fill="none" stroke="#000" stroke-width="5.52" stroke-linecap="round" stroke-linejoin="round"/><path d="M107.90,255.00 L108.10,254.97 L108.30,254.94 L108.50,254.91 L108.70,254.88 L108.90,254.85 L109.10,254.82" fill="none" stroke="#000" stroke-width="5.52" stroke-linecap="round" stroke-linejoin="round"/><path d="M109.10,254.82 L109.30,254.80 L109.50,254.77 L109.70,254.74 L109.90,254.71 L110.10,254.68 L110.30,254.66" fill="none" stroke="#000" stroke-width="5.52" stroke-linecap="round" stroke-linejoin="round"/><path d="M110.30,254.66 L110.50,254.63 L110.70,254.60 L110.90,254.58 L111.10,254.55 L111.30,254.52 L111.50,254.50" fill="none" stroke="#000" stroke-width="5.52" stroke-linecap="round" stroke-linejoin="round"/><path d="M111.50,254.50 L111.70,254.47 L111.90,254.45 L112.10,254.42 L112.30,254.40 L112.50,254.38 L112.70,254.35" fill="none" stroke="#000" stroke-width="5.52" stroke-linecap="round" stroke-linejoin="round"/><path d="M112.70,254.35 L112.90,254.33 L113.10,254.31 L113.30,254.28 L113.50,254.26 L113.70,254.24 L113.90,254.21" fill="none" stroke="#000" stroke-width="5.52" stroke-linecap="round" stroke-linejoin="round"/><path d="M113.90,254.21 L114.10,254.19 L114.30,254.17 L114.50,254.15 L114.70,254.12 L114.90,254.10 L115.10,254.08" fill="none" stroke="#000" stroke-width="5.52" stroke-linecap="round" stroke-linejoin="round"/><path d="M115.10,254.08 L115.30,254.06 L115.50,254.03 L115.70,254.01 L115.90,253.99 L116.10,253.97 L116.30,253.95" fill="none" stroke="#000" stroke-width="5.52" stroke-linecap="round" stroke-linejoin="round"/><path d="M116.30,253.95 L116.50,253.93 L116.70,253.90 L116.90,253.88 L117.10,253.86 L117.30,253.84 L117.50,253.82" fill="none" stroke="#000" stroke-width="5.52" stroke-linecap="round" stroke-linejoin="round"/><path d="M117.50,253.82 L117.70,253.80 L117.90,253.78 L118.10,253.76 L118.30,253.74 L118.50,253.72 L118.70,253.70" fill="none" stroke="#000" stroke-width="5.52" stroke-linecap="round" stroke-linejoin="round"/><path d="M118.70,253.70 L118.90,253.68 L119.10,253.66 L119.30,253.64 L119.50,253.62 L119.70,253.60 L119.90,253.58" fill="none" stroke="#000" stroke-width="5.52" stroke-linecap="round" stroke-linejoin="round"/><path d="M119.90,253.58 L120.10,253.56 L120.30,253.55 L120.50,253.53 L120.70,253.51 L120.90,253.49 L121.10,253.47" fill="none" stroke="#000" stroke-width="5.52" stroke-linecap="round" stroke-linejoin="round"/><path d="M121.10,253.47 L121.30,253.46 L121.50,253.44 L121.70,253.42 L121.90,253.40 L122.10,253.39 L122.30,253.37" fill="none" stroke="#000" stroke-width="5.52" stroke-linecap="round" stroke-linejoin="round"/><path d="M122.30,253.37 L122.50,253.35 L122.70,253.34 L122.90,253.32 L123.10,253.31 L123.30,253.29 L123.50,253.27" fill="none" stroke="#000" stroke-width="5.52" stroke-linecap="round" stroke-linejoin="round"/><path d="M123.50,253.27 L123.70,253.26 L123.90,253.24 L124.10,253.23 L124.30,253.21 L124.50,253.20" fill="none" stroke="#000" stroke-width="5.52" stroke-linecap="round" stroke-linejoin="round"/>
<path d="M29.60,249.61 L29.80,247.95 L30.00,249.09 L30.20,245.08 L30.40,250.93 L30.60,249.13 L30.80,250.89 L31.00,245.06 L31.20,249.53 L31.40,253.15 L31.60,245.82 L31.80,249.82 L32.00,245.49 L32.20,248.44 L32.40,245.60 L32.60,245.47 L32.80,244.66 L33.00,244.65 L33.20,248.90 L33.40,248.64 L33.60,249.28 L33.80,252.99 L34.00,247.57 L34.20,244.10 L34.40,245.97 L34.60,248.07 L34.80,250.48 L35.00,248.50 L35.20,246.19 L35.40,252.33 L35.60,243.68 L35.80,254.36 L36.00,245.86 L36.20,248.63 L36.40,247.23 L36.60,247.22 L36.80,248.39 L37.00,247.60 L37.20,251.29 L37.40,249.13 L37.60,259.70 L37.80,248.74 L38.00,248.12 L38.20,243.73 L38.40,253.72 L38.60,244.10 L38.80,248.31 L39.00,245.97 L39.20,247.41 L39.40,249.97 L39.60,250.62 L39.80,248.62 L40.00,245.03 L40.20,245.94 L40.40,247.98 L40.60,247.14 L40.80,249.72 L41.00,247.09 L41.20,246.61 L41.40,247.31 L41.60,249.07 L41.80,246.45 L42.00,251.19 L42.20,253.28 L42.40,250.29 L42.60,247.50 L42.80,249.13 L43.00,254.03 L43.20,253.79 L43.40,245.38 L43.60,245.04 L43.80,251.76 L44.00,249.67 L44.20,246.10 L44.40,252.76 L44.60,245.84 L44.80,256.73 L45.00,247.58 L45.20,245.34 L45.40,247.97 L45.60,253.02 L45.80,249.37 L46.00,248.72 L46.20,248.33 L46.40,247.97 L46.60,244.17 L46.80,244.24 L47.00,243.01 L47.20,248.84 L47.40,246.26 L47.60,250.87 L47.80,248.45 L48.00,249.77 L48.20,249.72 L48.40,247.32 L48.60,242.91 L48.80,247.07 L49.00,252.71 L49.20,252.70 L49.40,248.75 L49.60,248.59 L49.80,242.89 L50.00,247.00 L50.20,250.38 L50.40,245.20 L50.60,246.52 L50.80,244.61 L51.00,243.09 L51.20,247.33 L51.40,251.61 L51.60,242.50 L51.80,249.76 L52.00,250.24 L52.20,253.30 L52.40,248.13 L52.60,244.66 L52.80,241.19 L52.90,247.79 L53.10,255.65 L53.30,261.71 L53.50,267.03 L53.70,271.57 L53.90,275.53 L54.10,276.47 L54.30,279.37 L54.50,281.45 L54.70,281.46 L54.90,281.65 L55.10,281.26 L55.30,280.60 L55.50,281.60 L55.70,279.26 L55.90,278.66 L56.10,278.24 L56.30,280.60 L56.50,276.09 L56.70,279.57 L56.90,277.41 L57.10,277.79 L57.30,279.11 L57.50,278.86 L57.70,279.90 L57.90,274.20 L58.10,273.95 L58.30,272.54 L58.50,277.06 L58.70,274.00 L58.90,274.39 L59.10,270.06 L59.30,270.00 L59.50,275.59 L59.70,275.58 L59.90,281.28 L60.10,267.83 L60.30,271.30 L60.50,275.23 L60.70,268.74 L60.90,273.17 L61.10,266.72 L61.30,267.75 L61.50,273.62 L61.70,268.51 L61.90,273.52 L62.10,269.40 L62.30,273.69 L62.50,267.74 L62.70,268.81 L62.90,269.20 L63.10,271.54 L63.30,266.95 L63.50,264.33 L63.70,269.32 L63.90,268.96 L64.10,270.79 L64.30,266.48 L64.50,270.35 L64.70,266.47 L64.90,264.43 L65.10,264.77 L65.30,270.42 L65.50,266.56 L65.70,261.83 L65.90,266.36 L66.10,266.38 L66.30,269.15 L66.50,264.06 L66.70,269.46 L66.90,266.35 L67.10,263.16 L67.30,268.80 L67.50,269.28 L67.70,266.86 L67.90,265.22 L68.10,259.97 L68.30,263.22 L68.50,264.27 L68.70,262.95 L68.90,266.20 L69.10,260.93 L69.30,267.46 L69.50,266.32 L69.70,265.02 L69.90,262.52 L70.10,264.89 L70.30,267.92 L70.50,259.24 L70.70,260.22 L70.90,265.92 L71.10,262.23 L71.30,265.71 L71.50,262.72 L71.70,259.59 L71.90,270.88 L72.10,264.30 L72.30,266.26 L72.50,259.48 L72.70,259.94 L72.90,261.82 L73.10,262.77 L73.30,261.61 L73.50,258.99 L73.70,262.48 L73.90,257.45 L74.10,264.37 L74.30,261.52 L74.50,262.84 L74.70,259.37 L74.90,258.52 L75.10,263.64 L75.30,262.70 L75.50,260.46 L75.70,264.60 L75.90,260.39 L76.10,261.60 L76.30,264.11 L76.50,264.97 L76.70,264.35 L76.90,261.19 L77.10,261.56 L77.30,263.63 L77.50,250.47 L77.70,256.15 L77.90,261.53 L78.10,258.95 L78.30,262.11 L78.50,266.62 L78.70,262.26 L78.90,261.73 L79.10,261.84 L79.30,267.51 L79.50,259.36 L79.70,254.68 L79.90,260.35 L80.10,259.57 L80.30,256.02 L80.50,263.80 L80.70,259.81 L80.90,262.77 L81.10,262.48 L81.30,261.87 L81.50,263.80 L81.70,259.52 L81.90,258.80 L82.10,259.92 L82.30,256.09 L82.50,264.45 L82.70,257.83 L82.90,255.07 L83.10,264.85 L83.30,259.12 L83.50,259.43 L83.70,255.53 L83.90,260.40 L84.10,261.91 L84.30,257.62 L84.50,261.73 L84.70,257.41 L84.90,258.98 L85.10,262.17 L85.30,250.93 L85.50,259.51 L85.70,255.12 L85.90,256.80 L86.10,260.37 L86.30,263.13 L86.50,262.61 L86.70,256.67 L86.90,258.70 L87.10,261.54 L87.30,258.29 L87.50,257.00 L87.70,264.09 L87.90,260.51 L88.10,251.44 L88.30,257.62 L88.50,256.10 L88.70,260.93 L88.90,259.99 L89.10,259.86 L89.30,260.50 L89.50,259.11 L89.70,262.05 L89.90,256.59 L90.10,254.97 L90.30,255.47 L90.50,258.40 L90.70,255.87 L90.90,260.14 L91.10,255.82 L91.30,256.23 L91.50,259.33 L91.70,257.65 L91.90,258.88 L92.10,256.29 L92.30,257.42 L92.50,259.93 L92.70,260.60 L92.90,254.52 L93.10,256.20 L93.30,258.23 L93.50,259.09 L93.70,256.43 L93.90,256.76 L94.10,258.32 L94.30,259.30 L94.50,255.96 L94.70,259.38 L94.90,257.51 L95.10,257.71 L95.30,255.37 L95.50,255.19 L95.70,254.59 L95.90,259.01 L96.10,258.01 L96.30,256.42 L96.50,260.44 L96.70,257.17 L96.90,254.58 L97.10,251.99 L97.30,262.92 L97.50,258.42 L97.70,257.72 L97.90,251.45 L98.10,250.64 L98.30,260.35 L98.50,255.05 L98.70,262.95 L98.90,255.16 L99.10,253.02 L99.30,256.30 L99.50,256.42 L99.70,258.62 L99.90,262.21 L100.10,254.66 L100.30,258.54 L100.50,256.37 L100.70,253.36 L100.90,257.05 L101.10,258.09 L101.30,261.40 L101.50,256.72 L101.70,257.41 L101.90,260.47 L102.10,256.12 L102.30,257.77 L102.50,259.90 L102.70,258.09 L102.90,254.11 L103.10,256.73 L103.30,259.39 L103.50,254.71 L103.70,254.90 L103.90,251.77 L104.10,255.18 L104.30,258.63 L104.50,255.74 L104.70,259.02 L104.90,257.28 L105.10,253.45 L105.30,254.21 L105.50,252.24 L105.70,255.68 L105.90,252.81 L106.10,259.67 L106.30,256.18 L106.50,258.57 L106.70,255.84 L106.90,256.53 L107.10,256.65 L107.30,257.98 L107.50,254.60 L107.70,254.92 L107.90,255.30 L108.10,255.73 L108.30,257.80 L108.50,253.65 L108.70,251.84 L108.90,250.42 L109.10,256.15 L109.30,255.57 L109.50,252.63 L109.70,249.69 L109.90,252.76 L110.10,253.50 L110.30,249.51 L110.50,252.58 L110.70,248.96 L110.90,255.91 L111.10,252.52 L111.30,250.77 L111.50,252.60 L111.70,253.63 L111.90,256.86 L112.10,260.48 L112.30,254.24 L112.50,253.52 L112.70,255.16 L112.90,253.52 L113.10,257.32 L113.30,256.31 L113.50,258.07 L113.70,253.55 L113.90,258.61 L114.10,252.14 L114.30,251.58 L114.50,255.76 L114.70,255.54 L114.90,254.45 L115.10,252.77 L115.30,252.86 L115.50,256.26 L115.70,252.92 L115.90,254.46 L116.10,256.33 L116.30,254.53 L116.50,251.91 L116.70,253.42 L116.90,253.22 L117.10,256.34 L117.30,252.70 L117.50,249.33 L117.70,255.16 L117.90,255.53 L118.10,251.11 L118.30,257.08 L118.50,257.14 L118.70,248.11 L118.90,254.93 L119.10,254.92 L119.30,252.51 L119.50,251.03 L119.70,250.43 L119.90,254.57 L120.10,251.23 L120.30,257.28 L120.50,251.94 L120.70,256.21 L120.90,253.30 L121.10,254.94 L121.30,254.45 L121.50,254.07 L121.70,252.98 L121.90,255.64 L122.10,257.65 L122.30,251.06 L122.50,256.10 L122.70,251.53 L122.90,253.80 L123.10,249.56 L123.30,253.54 L123.50,254.64 L123.70,252.52 L123.90,253.00 L124.10,253.17 L124.30,247.20 L124.50,253.28" fill="none" stroke="#000" stroke-width="1.0" stroke-linejoin="round"/>
<path d="M29.60,248.70 L29.80,248.70 L30.00,248.70 L30.20,248.70 L30.40,248.70 L30.60,248.70 L30.80,248.70 L31.00,248.70 L31.20,248.70 L31.40,248.70 L31.60,248.70" fill="none" stroke="#ff1a1a" stroke-width="5.52" stroke-linecap="round" stroke-linejoin="round"/><path d="M31.60,248.70 L31.80,248.70 L32.00,248.70 L32.20,248.70 L32.40,248.70 L32.60,248.70 L32.80,248.70 L33.00,248.70 L33.20,248.70 L33.40,248.70 L33.60,248.70" fill="none" stroke="#ff1a1a" stroke-width="5.52" stroke-linecap="round" stroke-linejoin="round"/><path d="M33.60,248.70 L33.80,248.70 L34.00,248.70 L34.20,248.70 L34.40,248.70 L34.60,248.70 L34.80,248.70 L35.00,248.70 L35.20,248.70 L35.40,248.70 L35.60,248.70" fill="none" stroke="#ff1a1a" stroke-width="5.52" stroke-linecap="round" stroke-linejoin="round"/><path d="M35.60,248.70 L35.80,248.70 L36.00,248.70 L36.20,248.70 L36.40,248.70 L36.60,248.70 L36.80,248.70 L37.00,248.70 L37.20,248.70 L37.40,248.70 L37.60,248.70" fill="none" stroke="#ff1a1a" stroke-width="5.52" stroke-linecap="round" stroke-linejoin="round"/><path d="M37.60,248.70 L37.80,248.70 L38.00,248.70 L38.20,248.70 L38.40,248.70 L38.60,248.70 L38.80,248.70 L39.00,248.70 L39.20,248.70 L39.40,248.70 L39.60,248.70" fill="none" stroke="#ff1a1a" stroke-width="5.52" stroke-linecap="round" stroke-linejoin="round"/><path d="M39.60,248.70 L39.80,248.70 L40.00,248.70 L40.20,248.70 L40.40,248.70 L40.60,248.70 L40.80,248.70 L41.00,248.70 L41.20,248.70 L41.40,248.70 L41.60,248.70" fill="none" stroke="#ff1a1a" stroke-width="5.52" stroke-linecap="round" stroke-linejoin="round"/><path d="M41.60,248.70 L41.80,248.70 L42.00,248.70 L42.20,248.70 L42.40,248.70 L42.60,248.70 L42.80,248.70 L43.00,248.70 L43.20,248.70 L43.40,248.70 L43.60,248.70" fill="none" stroke="#ff1a1a" stroke-width="5.52" stroke-linecap="round" stroke-linejoin="round"/><path d="M43.60,248.70 L43.80,248.70 L44.00,248.70 L44.20,248.70 L44.40,248.70 L44.60,248.70 L44.80,248.70 L45.00,248.70 L45.20,248.70 L45.40,248.70 L45.60,248.70" fill="none" stroke="#ff1a1a" stroke-width="5.52" stroke-linecap="round" stroke-linejoin="round"/><path d="M45.60,248.70 L45.80,248.70 L46.00,248.70 L46.20,248.70 L46.40,248.70 L46.60,248.70 L46.80,248.70 L47.00,248.70 L47.20,248.70 L47.40,248.70 L47.60,248.70" fill="none" stroke="#ff1a1a" stroke-width="5.52" stroke-linecap="round" stroke-linejoin="round"/><path d="M47.60,248.70 L47.80,248.70 L48.00,248.70 L48.20,248.70 L48.40,248.70 L48.60,248.70 L48.80,248.70 L49.00,248.70 L49.20,248.70 L49.40,248.70 L49.60,248.70" fill="none" stroke="#ff1a1a" stroke-width="5.52" stroke-linecap="round" stroke-linejoin="round"/><path d="M49.60,248.70 L49.80,248.70 L50.00,248.70 L50.20,248.70 L50.40,248.70 L50.60,248.70 L50.80,248.70 L51.00,248.70 L51.20,248.70 L51.40,248.70 L51.60,248.70" fill="none" stroke="#ff1a1a" stroke-width="5.52" stroke-linecap="round" stroke-linejoin="round"/><path d="M51.60,248.70 L51.80,248.70 L52.00,248.70 L52.20,248.70 L52.40,248.70 L52.60,248.70 L52.80,248.70" fill="none" stroke="#ff1a1a" stroke-width="5.52" stroke-linecap="round" stroke-linejoin="round"/><path d="M52.80,248.70 L52.90,248.70 L53.10,270.00 L53.30,280.02 L53.50,287.20 L53.70,292.62 L53.90,297.36" fill="none" stroke="#ff1a1a" stroke-width="1.21" stroke-linecap="round" stroke-linejoin="round"/><path d="M53.90,297.36 L54.10,302.06 L54.30,306.32 L54.50,309.64 L54.70,311.54 L54.90,311.74 L55.10,311.27" fill="none" stroke="#ff1a1a" stroke-width="1.21" stroke-linecap="round" stroke-linejoin="round"/><path d="M55.10,311.27 L55.30,310.43 L55.50,309.34 L55.70,308.08 L55.90,306.76 L56.10,305.49 L56.30,304.37" fill="none" stroke="#ff1a1a" stroke-width="1.93" stroke-linecap="round" stroke-linejoin="round"/><path d="M56.30,304.37 L56.50,303.50 L56.70,302.81 L56.90,302.16 L57.10,301.54 L57.30,300.95 L57.50,300.39" fill="none" stroke="#ff1a1a" stroke-width="1.93" stroke-linecap="round" stroke-linejoin="round"/><path d="M57.50,300.39 L57.70,299.85 L57.90,299.33 L58.10,298.83 L58.30,298.35 L58.50,297.87 L58.70,297.41" fill="none" stroke="#ff1a1a" stroke-width="3.59" stroke-linecap="round" stroke-linejoin="round"/><path d="M58.70,297.41 L58.90,296.95 L59.10,296.49 L59.30,296.03 L59.50,295.57 L59.70,295.11 L59.90,294.65" fill="none" stroke="#ff1a1a" stroke-width="5.24" stroke-linecap="round" stroke-linejoin="round"/><path d="M59.90,294.65 L60.10,294.20 L60.30,293.75 L60.50,293.30 L60.70,292.86 L60.90,292.42 L61.10,291.99" fill="none" stroke="#ff1a1a" stroke-width="5.52" stroke-linecap="round" stroke-linejoin="round"/><path d="M61.10,291.99 L61.30,291.56 L61.50,291.14 L61.70,290.72 L61.90,290.32 L62.10,289.91 L62.30,289.52" fill="none" stroke="#ff1a1a" stroke-width="5.52" stroke-linecap="round" stroke-linejoin="round"/><path d="M62.30,289.52 L62.50,289.13 L62.70,288.75 L62.90,288.38 L63.10,288.02 L63.30,287.66 L63.50,287.32" fill="none" stroke="#ff1a1a" stroke-width="5.52" stroke-linecap="round" stroke-linejoin="round"/><path d="M63.50,287.32 L63.70,286.99 L63.90,286.66 L64.10,286.35 L64.30,286.05 L64.50,285.75 L64.70,285.47" fill="none" stroke="#ff1a1a" stroke-width="5.52" stroke-linecap="round" stroke-linejoin="round"/><path d="M64.70,285.47 L64.90,285.18 L65.10,284.90 L65.30,284.63 L65.50,284.36 L65.70,284.10 L65.90,283.84" fill="none" stroke="#ff1a1a" stroke-width="5.52" stroke-linecap="round" stroke-linejoin="round"/><path d="M65.90,283.84 L66.10,283.59 L66.30,283.34 L66.50,283.10 L66.70,282.86 L66.90,282.63 L67.10,282.40" fill="none" stroke="#ff1a1a" stroke-width="5.52" stroke-linecap="round" stroke-linejoin="round"/><path d="M67.10,282.40 L67.30,282.17 L67.50,281.95 L67.70,281.73 L67.90,281.52 L68.10,281.31 L68.30,281.10" fill="none" stroke="#ff1a1a" stroke-width="5.52" stroke-linecap="round" stroke-linejoin="round"/><path d="M68.30,281.10 L68.50,280.90 L68.70,280.69 L68.90,280.50 L69.10,280.30 L69.30,280.11 L69.50,279.92" fill="none" stroke="#ff1a1a" stroke-width="5.52" stroke-linecap="round" stroke-linejoin="round"/><path d="M69.50,279.92 L69.70,279.74 L69.90,279.56 L70.10,279.38 L70.30,279.20 L70.50,279.03 L70.70,278.86" fill="none" stroke="#ff1a1a" stroke-width="5.52" stroke-linecap="round" stroke-linejoin="round"/><path d="M70.70,278.86 L70.90,278.69 L71.10,278.53 L71.30,278.36 L71.50,278.20 L71.70,278.05 L71.90,277.89" fill="none" stroke="#ff1a1a" stroke-width="5.52" stroke-linecap="round" stroke-linejoin="round"/><path d="M71.90,277.89 L72.10,277.74 L72.30,277.58 L72.50,277.43 L72.70,277.29 L72.90,277.14 L73.10,276.99" fill="none" stroke="#ff1a1a" stroke-width="5.52" stroke-linecap="round" stroke-linejoin="round"/><path d="M73.10,276.99 L73.30,276.85 L73.50,276.71 L73.70,276.57 L73.90,276.43 L74.10,276.29 L74.30,276.16" fill="none" stroke="#ff1a1a" stroke-width="5.52" stroke-linecap="round" stroke-linejoin="round"/><path d="M74.30,276.16 L74.50,276.02 L74.70,275.88 L74.90,275.75 L75.10,275.62 L75.30,275.48 L75.50,275.35" fill="none" stroke="#ff1a1a" stroke-width="5.52" stroke-linecap="round" stroke-linejoin="round"/><path d="M75.50,275.35 L75.70,275.22 L75.90,275.09 L76.10,274.96 L76.30,274.83 L76.50,274.70 L76.70,274.58" fill="none" stroke="#ff1a1a" stroke-width="5.52" stroke-linecap="round" stroke-linejoin="round"/><path d="M76.70,274.58 L76.90,274.45 L77.10,274.33 L77.30,274.20 L77.50,274.08 L77.70,273.96 L77.90,273.84" fill="none" stroke="#ff1a1a" stroke-width="5.52" stroke-linecap="round" stroke-linejoin="round"/><path d="M77.90,273.84 L78.10,273.72 L78.30,273.60 L78.50,273.48 L78.70,273.36 L78.90,273.24 L79.10,273.13" fill="none" stroke="#ff1a1a" stroke-width="5.52" stroke-linecap="round" stroke-linejoin="round"/><path d="M79.10,273.13 L79.30,273.01 L79.50,272.90 L79.70,272.79 L79.90,272.67 L80.10,272.56 L80.30,272.45" fill="none" stroke="#ff1a1a" stroke-width="5.52" stroke-linecap="round" stroke-linejoin="round"/><path d="M80.30,272.45 L80.50,272.34 L80.70,272.23 L80.90,272.12 L81.10,272.02 L81.30,271.91 L81.50,271.80" fill="none" stroke="#ff1a1a" stroke-width="5.52" stroke-linecap="round" stroke-linejoin="round"/><path d="M81.50,271.80 L81.70,271.70 L81.90,271.60 L82.10,271.49 L82.30,271.39 L82.50,271.29 L82.70,271.19" fill="none" stroke="#ff1a1a" stroke-width="5.52" stroke-linecap="round" stroke-linejoin="round"/><path d="M82.70,271.19 L82.90,271.09 L83.10,270.99 L83.30,270.90 L83.50,270.80 L83.70,270.70 L83.90,270.61" fill="none" stroke="#ff1a1a" stroke-width="5.52" stroke-linecap="round" stroke-linejoin="round"/><path d="M83.90,270.61 L84.10,270.52 L84.30,270.42 L84.50,270.33 L84.70,270.24 L84.90,270.15 L85.10,270.06" fill="none" stroke="#ff1a1a" stroke-width="5.52" stroke-linecap="round" stroke-linejoin="round"/><path d="M85.10,270.06 L85.30,269.97 L85.50,269.89 L85.70,269.80 L85.90,269.71 L86.10,269.63 L86.30,269.54" fill="none" stroke="#ff1a1a" stroke-width="5.52" stroke-linecap="round" stroke-linejoin="round"/><path d="M86.30,269.54 L86.50,269.46 L86.70,269.37 L86.90,269.29 L87.10,269.21 L87.30,269.13 L87.50,269.05" fill="none" stroke="#ff1a1a" stroke-width="5.52" stroke-linecap="round" stroke-linejoin="round"/><path d="M87.50,269.05 L87.70,268.97 L87.90,268.89 L88.10,268.81 L88.30,268.73 L88.50,268.65 L88.70,268.57" fill="none" stroke="#ff1a1a" stroke-width="5.52" stroke-linecap="round" stroke-linejoin="round"/><path d="M88.70,268.57 L88.90,268.49 L89.10,268.42 L89.30,268.34 L89.50,268.26 L89.70,268.18 L89.90,268.11" fill="none" stroke="#ff1a1a" stroke-width="5.52" stroke-linecap="round" stroke-linejoin="round"/><path d="M89.90,268.11 L90.10,268.03 L90.30,267.96 L90.50,267.88 L90.70,267.80 L90.90,267.73 L91.10,267.65" fill="none" stroke="#ff1a1a" stroke-width="5.52" stroke-linecap="round" stroke-linejoin="round"/><path d="M91.10,267.65 L91.30,267.58 L91.50,267.50 L91.70,267.43 L91.90,267.35 L92.10,267.28 L92.30,267.20" fill="none" stroke="#ff1a1a" stroke-width="5.52" stroke-linecap="round" stroke-linejoin="round"/><path d="M92.30,267.20 L92.50,267.13 L92.70,267.05 L92.90,266.98 L93.10,266.90 L93.30,266.82 L93.50,266.75" fill="none" stroke="#ff1a1a" stroke-width="5.52" stroke-linecap="round" stroke-linejoin="round"/><path d="M93.50,266.75 L93.70,266.67 L93.90,266.60 L94.10,266.52 L94.30,266.44 L94.50,266.37 L94.70,266.29" fill="none" stroke="#ff1a1a" stroke-width="5.52" stroke-linecap="round" stroke-linejoin="round"/><path d="M94.70,266.29 L94.90,266.21 L95.10,266.14 L95.30,266.06 L95.50,265.99 L95.70,265.91 L95.90,265.83" fill="none" stroke="#ff1a1a" stroke-width="5.52" stroke-linecap="round" stroke-linejoin="round"/><path d="M95.90,265.83 L96.10,265.76 L96.30,265.68 L96.50,265.61 L96.70,265.53 L96.90,265.46 L97.10,265.38" fill="none" stroke="#ff1a1a" stroke-width="5.52" stroke-linecap="round" stroke-linejoin="round"/><path d="M97.10,265.38 L97.30,265.31 L97.50,265.24 L97.70,265.16 L97.90,265.09 L98.10,265.02 L98.30,264.94" fill="none" stroke="#ff1a1a" stroke-width="5.52" stroke-linecap="round" stroke-linejoin="round"/><path d="M98.30,264.94 L98.50,264.87 L98.70,264.80 L98.90,264.73 L99.10,264.66 L99.30,264.59 L99.50,264.52" fill="none" stroke="#ff1a1a" stroke-width="5.52" stroke-linecap="round" stroke-linejoin="round"/><path d="M99.50,264.52 L99.70,264.45 L99.90,264.38 L100.10,264.31 L100.30,264.25 L100.50,264.18 L100.70,264.11" fill="none" stroke="#ff1a1a" stroke-width="5.52" stroke-linecap="round" stroke-linejoin="round"/><path d="M100.70,264.11 L100.90,264.05 L101.10,263.99 L101.30,263.92 L101.50,263.86 L101.70,263.80 L101.90,263.74" fill="none" stroke="#ff1a1a" stroke-width="5.52" stroke-linecap="round" stroke-linejoin="round"/><path d="M101.90,263.74 L102.10,263.68 L102.30,263.62 L102.50,263.56 L102.70,263.50 L102.90,263.44 L103.10,263.39" fill="none" stroke="#ff1a1a" stroke-width="5.52" stroke-linecap="round" stroke-linejoin="round"/><path d="M103.10,263.39 L103.30,263.33 L103.50,263.28 L103.70,263.22 L103.90,263.17 L104.10,263.11 L104.30,263.06" fill="none" stroke="#ff1a1a" stroke-width="5.52" stroke-linecap="round" stroke-linejoin="round"/><path d="M104.30,263.06 L104.50,263.01 L104.70,262.96 L104.90,262.90 L105.10,262.85 L105.30,262.80 L105.50,262.75" fill="none" stroke="#ff1a1a" stroke-width="5.52" stroke-linecap="round" stroke-linejoin="round"/><path d="M105.50,262.75 L105.70,262.70 L105.90,262.65 L106.10,262.60 L106.30,262.55 L106.50,262.50 L106.70,262.46" fill="none" stroke="#ff1a1a" stroke-width="5.52" stroke-linecap="round" stroke-linejoin="round"/><path d="M106.70,262.46 L106.90,262.41 L107.10,262.36 L107.30,262.31 L107.50,262.27 L107.70,262.22 L107.90,262.17" fill="none" stroke="#ff1a1a" stroke-width="5.52" stroke-linecap="round" stroke-linejoin="round"/><path d="M107.90,262.17 L108.10,262.13 L108.30,262.08 L108.50,262.04 L108.70,261.99 L108.90,261.95 L109.10,261.90" fill="none" stroke="#ff1a1a" stroke-width="5.52" stroke-linecap="round" stroke-linejoin="round"/><path d="M109.10,261.90 L109.30,261.86 L109.50,261.81 L109.70,261.77 L109.90,261.72 L110.10,261.68 L110.30,261.64" fill="none" stroke="#ff1a1a" stroke-width="5.52" stroke-linecap="round" stroke-linejoin="round"/><path d="M110.30,261.64 L110.50,261.59 L110.70,261.55 L110.90,261.50 L111.10,261.46 L111.30,261.42 L111.50,261.37" fill="none" stroke="#ff1a1a" stroke-width="5.52" stroke-linecap="round" stroke-linejoin="round"/><path d="M111.50,261.37 L111.70,261.33 L111.90,261.29 L112.10,261.24 L112.30,261.20 L112.50,261.16 L112.70,261.11" fill="none" stroke="#ff1a1a" stroke-width="5.52" stroke-linecap="round" stroke-linejoin="round"/><path d="M112.70,261.11 L112.90,261.07 L113.10,261.03 L113.30,260.98 L113.50,260.94 L113.70,260.90 L113.90,260.86" fill="none" stroke="#ff1a1a" stroke-width="5.52" stroke-linecap="round" stroke-linejoin="round"/><path d="M113.90,260.86 L114.10,260.81 L114.30,260.77 L114.50,260.73 L114.70,260.69 L114.90,260.65 L115.10,260.60" fill="none" stroke="#ff1a1a" stroke-width="5.52" stroke-linecap="round" stroke-linejoin="round"/><path d="M115.10,260.60 L115.30,260.56 L115.50,260.52 L115.70,260.48 L115.90,260.44 L116.10,260.40 L116.30,260.36" fill="none" stroke="#ff1a1a" stroke-width="5.52" stroke-linecap="round" stroke-linejoin="round"/><path d="M116.30,260.36 L116.50,260.31 L116.70,260.27 L116.90,260.23 L117.10,260.19 L117.30,260.15 L117.50,260.11" fill="none" stroke="#ff1a1a" stroke-width="5.52" stroke-linecap="round" stroke-linejoin="round"/><path d="M117.50,260.11 L117.70,260.07 L117.90,260.03 L118.10,259.99 L118.30,259.95 L118.50,259.91 L118.70,259.87" fill="none" stroke="#ff1a1a" stroke-width="5.52" stroke-linecap="round" stroke-linejoin="round"/><path d="M118.70,259.87 L118.90,259.83 L119.10,259.80 L119.30,259.76 L119.50,259.72 L119.70,259.68 L119.90,259.64" fill="none" stroke="#ff1a1a" stroke-width="5.52" stroke-linecap="round" stroke-linejoin="round"/><path d="M119.90,259.64 L120.10,259.60 L120.30,259.56 L120.50,259.53 L120.70,259.49 L120.90,259.45 L121.10,259.41" fill="none" stroke="#ff1a1a" stroke-width="5.52" stroke-linecap="round" stroke-linejoin="round"/><path d="M121.10,259.41 L121.30,259.38 L121.50,259.34 L121.70,259.30 L121.90,259.26 L122.10,259.23 L122.30,259.19" fill="none" stroke="#ff1a1a" stroke-width="5.52" stroke-linecap="round" stroke-linejoin="round"/><path d="M122.30,259.19 L122.50,259.15 L122.70,259.12 L122.90,259.08 L123.10,259.05 L123.30,259.01 L123.50,258.97" fill="none" stroke="#ff1a1a" stroke-width="5.52" stroke-linecap="round" stroke-linejoin="round"/><path d="M123.50,258.97 L123.70,258.94 L123.90,258.90 L124.10,258.87 L124.30,258.83 L124.50,258.80" fill="none" stroke="#ff1a1a" stroke-width="5.52" stroke-linecap="round" stroke-linejoin="round"/>
<path d="M29.60,252.77 L29.80,251.54 L30.00,248.49 L30.20,253.27 L30.40,252.65 L30.60,246.38 L30.80,250.30 L31.00,247.51 L31.20,246.30 L31.40,253.40 L31.60,241.14 L31.80,247.44 L32.00,252.15 L32.20,246.27 L32.40,246.96 L32.60,246.26 L32.80,249.76 L33.00,243.13 L33.20,249.09 L33.40,248.52 L33.60,250.63 L33.80,242.29 L34.00,243.74 L34.20,244.86 L34.40,250.54 L34.60,250.62 L34.80,253.32 L35.00,249.00 L35.20,248.55 L35.40,246.63 L35.60,248.49 L35.80,253.65 L36.00,250.84 L36.20,243.80 L36.40,255.45 L36.60,252.34 L36.80,247.67 L37.00,247.27 L37.20,249.36 L37.40,249.87 L37.60,251.46 L37.80,247.19 L38.00,244.22 L38.20,244.25 L38.40,244.93 L38.60,253.46 L38.80,246.24 L39.00,251.25 L39.20,242.40 L39.40,251.56 L39.60,248.36 L39.80,248.46 L40.00,245.68 L40.20,251.51 L40.40,243.88 L40.60,246.79 L40.80,246.76 L41.00,252.76 L41.20,250.92 L41.40,246.96 L41.60,249.22 L41.80,244.74 L42.00,253.20 L42.20,248.88 L42.40,248.69 L42.60,253.02 L42.80,249.32 L43.00,251.20 L43.20,252.26 L43.40,251.53 L43.60,247.45 L43.80,252.24 L44.00,252.47 L44.20,249.76 L44.40,246.63 L44.60,256.91 L44.80,245.86 L45.00,246.25 L45.20,250.47 L45.40,249.27 L45.60,248.04 L45.80,248.44 L46.00,245.48 L46.20,246.59 L46.40,243.30 L46.60,251.49 L46.80,251.24 L47.00,248.13 L47.20,252.46 L47.40,251.03 L47.60,246.25 L47.80,243.01 L48.00,246.39 L48.20,251.92 L48.40,245.89 L48.60,246.80 L48.80,251.16 L49.00,251.30 L49.20,246.47 L49.40,247.25 L49.60,244.78 L49.80,247.01 L50.00,243.86 L50.20,247.42 L50.40,254.74 L50.60,250.93 L50.80,249.44 L51.00,249.91 L51.20,253.04 L51.40,250.30 L51.60,252.77 L51.80,249.90 L52.00,248.02 L52.20,252.90 L52.40,250.59 L52.60,251.78 L52.80,248.52 L52.90,248.47 L53.10,269.42 L53.30,280.91 L53.50,287.65 L53.70,292.56 L53.90,296.89 L54.10,300.77 L54.30,306.75 L54.50,309.68 L54.70,312.28 L54.90,312.97 L55.10,310.03 L55.30,311.16 L55.50,308.64 L55.70,308.15 L55.90,305.99 L56.10,303.80 L56.30,304.08 L56.50,303.65 L56.70,303.87 L56.90,302.13 L57.10,301.90 L57.30,301.88 L57.50,297.83 L57.70,296.49 L57.90,301.71 L58.10,299.13 L58.30,300.47 L58.50,303.41 L58.70,295.23 L58.90,300.74 L59.10,297.06 L59.30,296.27 L59.50,296.73 L59.70,297.42 L59.90,288.91 L60.10,292.32 L60.30,294.61 L60.50,290.72 L60.70,291.52 L60.90,293.25 L61.10,292.24 L61.30,288.44 L61.50,294.21 L61.70,295.10 L61.90,295.51 L62.10,294.62 L62.30,288.55 L62.50,291.38 L62.70,291.74 L62.90,285.84 L63.10,290.56 L63.30,289.46 L63.50,289.29 L63.70,287.84 L63.90,288.82 L64.10,283.81 L64.30,284.95 L64.50,284.85 L64.70,289.75 L64.90,286.09 L65.10,284.71 L65.30,286.38 L65.50,284.33 L65.70,282.52 L65.90,284.72 L66.10,279.96 L66.30,282.71 L66.50,284.59 L66.70,279.67 L66.90,280.78 L67.10,282.00 L67.30,287.08 L67.50,281.43 L67.70,284.13 L67.90,286.22 L68.10,286.11 L68.30,281.51 L68.50,278.87 L68.70,280.90 L68.90,278.37 L69.10,279.43 L69.30,276.51 L69.50,276.72 L69.70,280.32 L69.90,283.43 L70.10,276.44 L70.30,281.79 L70.50,276.64 L70.70,279.27 L70.90,280.97 L71.10,281.47 L71.30,274.66 L71.50,274.86 L71.70,273.01 L71.90,283.72 L72.10,272.47 L72.30,276.49 L72.50,278.06 L72.70,277.24 L72.90,281.08 L73.10,283.88 L73.30,276.35 L73.50,284.03 L73.70,281.11 L73.90,276.63 L74.10,274.65 L74.30,272.71 L74.50,270.24 L74.70,271.94 L74.90,282.62 L75.10,271.90 L75.30,275.08 L75.50,270.65 L75.70,276.82 L75.90,271.70 L76.10,276.20 L76.30,273.05 L76.50,269.45 L76.70,274.42 L76.90,274.02 L77.10,279.01 L77.30,276.91 L77.50,276.40 L77.70,274.44 L77.90,275.74 L78.10,273.51 L78.30,276.15 L78.50,269.37 L78.70,275.43 L78.90,274.21 L79.10,277.36 L79.30,272.21 L79.50,274.99 L79.70,271.95 L79.90,270.89 L80.10,273.84 L80.30,278.39 L80.50,274.24 L80.70,271.75 L80.90,267.83 L81.10,272.93 L81.30,268.05 L81.50,270.38 L81.70,268.55 L81.90,271.74 L82.10,275.02 L82.30,267.45 L82.50,274.48 L82.70,267.28 L82.90,270.83 L83.10,271.99 L83.30,267.88 L83.50,270.56 L83.70,272.69 L83.90,271.55 L84.10,267.16 L84.30,272.16 L84.50,270.95 L84.70,269.38 L84.90,273.41 L85.10,268.59 L85.30,269.08 L85.50,266.67 L85.70,274.23 L85.90,267.36 L86.10,270.90 L86.30,268.10 L86.50,271.21 L86.70,272.54 L86.90,264.72 L87.10,271.00 L87.30,268.81 L87.50,271.34 L87.70,265.38 L87.90,273.25 L88.10,269.67 L88.30,269.80 L88.50,266.40 L88.70,264.94 L88.90,264.57 L89.10,266.13 L89.30,267.42 L89.50,269.94 L89.70,265.25 L89.90,265.62 L90.10,268.86 L90.30,274.32 L90.50,265.82 L90.70,261.86 L90.90,265.22 L91.10,265.15 L91.30,264.04 L91.50,263.37 L91.70,263.52 L91.90,267.49 L92.10,264.91 L92.30,263.13 L92.50,265.72 L92.70,268.45 L92.90,271.22 L93.10,268.76 L93.30,269.09 L93.50,257.84 L93.70,264.20 L93.90,266.69 L94.10,274.08 L94.30,268.84 L94.50,263.24 L94.70,268.45 L94.90,266.76 L95.10,264.66 L95.30,262.94 L95.50,270.52 L95.70,269.65 L95.90,265.87 L96.10,262.04 L96.30,268.83 L96.50,263.50 L96.70,268.82 L96.90,264.50 L97.10,265.91 L97.30,263.62 L97.50,265.66 L97.70,263.02 L97.90,262.45 L98.10,267.14 L98.30,259.61 L98.50,267.57 L98.70,265.53 L98.90,267.46 L99.10,265.38 L99.30,262.73 L99.50,269.99 L99.70,263.96 L99.90,264.24 L100.10,261.77 L100.30,261.01 L100.50,261.60 L100.70,263.07 L100.90,261.13 L101.10,267.55 L101.30,263.52 L101.50,263.33 L101.70,263.84 L101.90,262.50 L102.10,262.22 L102.30,262.98 L102.50,265.27 L102.70,260.13 L102.90,265.30 L103.10,261.97 L103.30,267.01 L103.50,261.71 L103.70,263.84 L103.90,264.25 L104.10,260.54 L104.30,267.86 L104.50,259.98 L104.70,263.62 L104.90,262.10 L105.10,263.05 L105.30,267.32 L105.50,261.32 L105.70,261.54 L105.90,264.44 L106.10,266.31 L106.30,263.78 L106.50,260.97 L106.70,259.38 L106.90,263.81 L107.10,265.16 L107.30,263.40 L107.50,260.24 L107.70,256.26 L107.90,266.16 L108.10,264.05 L108.30,258.01 L108.50,260.32 L108.70,260.34 L108.90,263.60 L109.10,257.76 L109.30,263.22 L109.50,262.53 L109.70,259.28 L109.90,254.92 L110.10,259.94 L110.30,261.32 L110.50,262.89 L110.70,263.41 L110.90,260.53 L111.10,259.23 L111.30,259.55 L111.50,259.13 L111.70,265.12 L111.90,262.55 L112.10,262.41 L112.30,262.85 L112.50,254.62 L112.70,258.02 L112.90,256.98 L113.10,263.29 L113.30,254.84 L113.50,266.69 L113.70,259.86 L113.90,257.88 L114.10,261.55 L114.30,263.09 L114.50,258.36 L114.70,261.77 L114.90,259.18 L115.10,254.89 L115.30,257.80 L115.50,263.40 L115.70,261.44 L115.90,261.53 L116.10,261.20 L116.30,260.80 L116.50,263.95 L116.70,254.96 L116.90,260.12 L117.10,262.25 L117.30,259.41 L117.50,260.85 L117.70,259.39 L117.90,261.00 L118.10,254.11 L118.30,263.08 L118.50,257.40 L118.70,256.58 L118.90,256.94 L119.10,262.69 L119.30,261.74 L119.50,258.62 L119.70,258.81 L119.90,262.27 L120.10,257.33 L120.30,264.71 L120.50,261.50 L120.70,262.48 L120.90,263.96 L121.10,261.88 L121.30,259.13 L121.50,264.12 L121.70,263.50 L121.90,265.64 L122.10,256.91 L122.30,261.22 L122.50,256.78 L122.70,257.78 L122.90,260.01 L123.10,260.09 L123.30,258.55 L123.50,257.40 L123.70,261.11 L123.90,257.91 L124.10,262.12 L124.30,259.60 L124.50,259.42" fill="none" stroke="#ff1a1a" stroke-width="1.0" stroke-linejoin="round"/>
<path d="M29.50,325.00 L29.70,325.00 L29.90,325.00 L30.10,325.00 L30.30,325.00 L30.50,325.00 L30.70,325.00 L30.90,325.00 L31.10,325.00 L31.30,325.00 L31.50,325.00" fill="none" stroke="#000" stroke-width="4.60" stroke-linecap="round" stroke-linejoin="round"/><path d="M31.50,325.00 L31.70,325.00 L31.90,325.00 L32.10,325.00 L32.30,325.00 L32.50,325.00 L32.70,325.00 L32.90,325.00 L33.10,325.00 L33.30,325.00 L33.50,325.00" fill="none" stroke="#000" stroke-width="4.60" stroke-linecap="round" stroke-linejoin="round"/><path d="M33.50,325.00 L33.70,325.00 L33.90,325.00 L34.10,325.00 L34.30,325.00 L34.50,325.00 L34.70,325.00 L34.90,325.00 L35.10,325.00 L35.30,325.00 L35.50,325.00" fill="none" stroke="#000" stroke-width="4.60" stroke-linecap="round" stroke-linejoin="round"/><path d="M35.50,325.00 L35.70,325.00 L35.90,325.00 L36.10,325.00 L36.30,325.00 L36.50,325.00 L36.70,325.00 L36.90,325.00 L37.10,325.00 L37.30,325.00 L37.50,325.00" fill="none" stroke="#000" stroke-width="4.60" stroke-linecap="round" stroke-linejoin="round"/><path d="M37.50,325.00 L37.70,325.00 L37.90,325.00 L38.10,325.00 L38.30,325.00 L38.50,325.00 L38.70,325.00 L38.90,325.00 L39.10,325.00 L39.30,325.00 L39.50,325.00" fill="none" stroke="#000" stroke-width="4.60" stroke-linecap="round" stroke-linejoin="round"/><path d="M39.50,325.00 L39.70,325.00 L39.90,325.00 L40.10,325.00 L40.30,325.00 L40.50,325.00 L40.70,325.00 L40.90,325.00 L41.10,325.00 L41.30,325.00 L41.50,325.00" fill="none" stroke="#000" stroke-width="4.60" stroke-linecap="round" stroke-linejoin="round"/><path d="M41.50,325.00 L41.70,325.00 L41.90,325.00 L42.10,325.00 L42.30,325.00 L42.50,325.00 L42.70,325.00 L42.90,325.00 L43.10,325.00 L43.30,325.00 L43.50,325.00" fill="none" stroke="#000" stroke-width="4.60" stroke-linecap="round" stroke-linejoin="round"/><path d="M43.50,325.00 L43.70,325.00 L43.90,325.00 L44.10,325.00 L44.30,325.00 L44.50,325.00 L44.70,325.00 L44.90,325.00 L45.10,325.00 L45.30,325.00 L45.50,325.00" fill="none" stroke="#000" stroke-width="4.60" stroke-linecap="round" stroke-linejoin="round"/><path d="M45.50,325.00 L45.70,325.00 L45.90,325.00 L46.10,325.00 L46.30,325.00 L46.50,325.00 L46.70,325.00 L46.90,325.00 L47.10,325.00 L47.30,325.00 L47.50,325.00" fill="none" stroke="#000" stroke-width="4.60" stroke-linecap="round" stroke-linejoin="round"/><path d="M47.50,325.00 L47.70,325.00 L47.90,325.00 L48.10,325.00 L48.30,325.00 L48.50,325.00 L48.70,325.00 L48.90,325.00 L49.10,325.00 L49.30,325.00 L49.50,325.00" fill="none" stroke="#000" stroke-width="4.60" stroke-linecap="round" stroke-linejoin="round"/><path d="M49.50,325.00 L49.70,325.00 L49.90,325.00 L50.10,325.00 L50.30,325.00 L50.50,325.00 L50.70,325.00 L50.90,325.00 L51.10,325.00 L51.30,325.00" fill="none" stroke="#000" stroke-width="4.60" stroke-linecap="round" stroke-linejoin="round"/><path d="M51.30,325.00 L51.50,325.00 L51.70,326.44 L51.90,327.87 L52.10,329.29 L52.30,330.65 L52.50,331.83" fill="none" stroke="#000" stroke-width="1.01" stroke-linecap="round" stroke-linejoin="round"/><path d="M52.50,331.83 L52.70,333.24 L52.90,335.68 L53.10,340.64 L53.30,347.26 L53.50,354.30 L53.70,360.55" fill="none" stroke="#000" stroke-width="1.01" stroke-linecap="round" stroke-linejoin="round"/><path d="M53.70,360.55 L53.90,365.17 L54.10,369.52 L54.30,373.48 L54.50,376.63 L54.70,378.50 L54.90,379.55" fill="none" stroke="#000" stroke-width="1.01" stroke-linecap="round" stroke-linejoin="round"/><path d="M54.90,379.55 L55.10,380.53 L55.30,381.44 L55.50,382.28 L55.70,383.04 L55.90,383.72 L56.10,384.33" fill="none" stroke="#000" stroke-width="1.01" stroke-linecap="round" stroke-linejoin="round"/><path d="M56.10,384.33 L56.30,384.87 L56.50,385.33 L56.70,385.72 L56.90,386.02 L57.10,386.26 L57.30,386.41" fill="none" stroke="#000" stroke-width="1.01" stroke-linecap="round" stroke-linejoin="round"/><path d="M57.30,386.41 L57.50,386.49 L57.70,386.50 L57.90,386.47 L58.10,386.41 L58.30,386.33 L58.50,386.23" fill="none" stroke="#000" stroke-width="1.01" stroke-linecap="round" stroke-linejoin="round"/><path d="M58.50,386.23 L58.70,386.10 L58.90,385.96 L59.10,385.80 L59.30,385.63 L59.50,385.44 L59.70,385.24" fill="none" stroke="#000" stroke-width="3.45" stroke-linecap="round" stroke-linejoin="round"/><path d="M59.70,385.24 L59.90,385.03 L60.10,384.82 L60.30,384.60 L60.50,384.38 L60.70,384.16 L60.90,383.93" fill="none" stroke="#000" stroke-width="3.45" stroke-linecap="round" stroke-linejoin="round"/><path d="M60.90,383.93 L61.10,383.71 L61.30,383.50 L61.50,383.29 L61.70,383.10 L61.90,382.91 L62.10,382.73" fill="none" stroke="#000" stroke-width="3.68" stroke-linecap="round" stroke-linejoin="round"/><path d="M62.10,382.73 L62.30,382.57 L62.50,382.43 L62.70,382.29 L62.90,382.15 L63.10,382.02 L63.30,381.89" fill="none" stroke="#000" stroke-width="4.60" stroke-linecap="round" stroke-linejoin="round"/><path d="M63.30,381.89 L63.50,381.76 L63.70,381.64 L63.90,381.51 L64.10,381.39 L64.30,381.27 L64.50,381.15" fill="none" stroke="#000" stroke-width="4.60" stroke-linecap="round" stroke-linejoin="round"/><path d="M64.50,381.15 L64.70,381.03 L64.90,380.92 L65.10,380.80 L65.30,380.68 L65.50,380.56 L65.70,380.44" fill="none" stroke="#000" stroke-width="4.60" stroke-linecap="round" stroke-linejoin="round"/><path d="M65.70,380.44 L65.90,380.32 L66.10,380.20 L66.30,380.08 L66.50,379.95 L66.70,379.83 L66.90,379.70" fill="none" stroke="#000" stroke-width="4.60" stroke-linecap="round" stroke-linejoin="round"/><path d="M66.90,379.70 L67.10,379.57 L67.30,379.43 L67.50,379.30 L67.70,379.16 L67.90,379.02 L68.10,378.88" fill="none" stroke="#000" stroke-width="4.60" stroke-linecap="round" stroke-linejoin="round"/><path d="M68.10,378.88 L68.30,378.73 L68.50,378.59 L68.70,378.45 L68.90,378.30 L69.10,378.15 L69.30,378.01" fill="none" stroke="#000" stroke-width="4.60" stroke-linecap="round" stroke-linejoin="round"/><path d="M69.30,378.01 L69.50,377.86 L69.70,377.71 L69.90,377.56 L70.10,377.41 L70.30,377.26 L70.50,377.11" fill="none" stroke="#000" stroke-width="4.60" stroke-linecap="round" stroke-linejoin="round"/><path d="M70.50,377.11 L70.70,376.96 L70.90,376.81 L71.10,376.66 L71.30,376.52 L71.50,376.37 L71.70,376.22" fill="none" stroke="#000" stroke-width="4.60" stroke-linecap="round" stroke-linejoin="round"/><path d="M71.70,376.22 L71.90,376.07 L72.10,375.93 L72.30,375.78 L72.50,375.63 L72.70,375.48 L72.90,375.34" fill="none" stroke="#000" stroke-width="4.60" stroke-linecap="round" stroke-linejoin="round"/><path d="M72.90,375.34 L73.10,375.19 L73.30,375.04 L73.50,374.89 L73.70,374.74 L73.90,374.59 L74.10,374.44" fill="none" stroke="#000" stroke-width="4.60" stroke-linecap="round" stroke-linejoin="round"/><path d="M74.10,374.44 L74.30,374.29 L74.50,374.14 L74.70,373.99 L74.90,373.84 L75.10,373.69 L75.30,373.55" fill="none" stroke="#000" stroke-width="4.60" stroke-linecap="round" stroke-linejoin="round"/><path d="M75.30,373.55 L75.50,373.40 L75.70,373.26 L75.90,373.12 L76.10,372.98 L76.30,372.84 L76.50,372.70" fill="none" stroke="#000" stroke-width="4.60" stroke-linecap="round" stroke-linejoin="round"/><path d="M76.50,372.70 L76.70,372.57 L76.90,372.43 L77.10,372.30 L77.30,372.18 L77.50,372.05 L77.70,371.93" fill="none" stroke="#000" stroke-width="4.60" stroke-linecap="round" stroke-linejoin="round"/><path d="M77.70,371.93 L77.90,371.81 L78.10,371.69 L78.30,371.57 L78.50,371.46 L78.70,371.34 L78.90,371.23" fill="none" stroke="#000" stroke-width="4.60" stroke-linecap="round" stroke-linejoin="round"/><path d="M78.90,371.23 L79.10,371.11 L79.30,371.00 L79.50,370.88 L79.70,370.76 L79.90,370.65 L80.10,370.53" fill="none" stroke="#000" stroke-width="4.60" stroke-linecap="round" stroke-linejoin="round"/><path d="M80.10,370.53 L80.30,370.41 L80.50,370.29 L80.70,370.16 L80.90,370.04 L81.10,369.91 L81.30,369.78" fill="none" stroke="#000" stroke-width="4.60" stroke-linecap="round" stroke-linejoin="round"/><path d="M81.30,369.78 L81.50,369.64 L81.70,369.50 L81.90,369.36 L82.10,369.21 L82.30,369.06 L82.50,368.91" fill="none" stroke="#000" stroke-width="4.60" stroke-linecap="round" stroke-linejoin="round"/><path d="M82.50,368.91 L82.70,368.76 L82.90,368.60 L83.10,368.45 L83.30,368.29 L83.50,368.12 L83.70,367.96" fill="none" stroke="#000" stroke-width="4.60" stroke-linecap="round" stroke-linejoin="round"/><path d="M83.70,367.96 L83.90,367.79 L84.10,367.62 L84.30,367.45 L84.50,367.28 L84.70,367.11 L84.90,366.94" fill="none" stroke="#000" stroke-width="4.60" stroke-linecap="round" stroke-linejoin="round"/><path d="M84.90,366.94 L85.10,366.76 L85.30,366.58 L85.50,366.40 L85.70,366.23 L85.90,366.05 L86.10,365.86" fill="none" stroke="#000" stroke-width="4.60" stroke-linecap="round" stroke-linejoin="round"/><path d="M86.10,365.86 L86.30,365.68 L86.50,365.50 L86.70,365.31 L86.90,365.09 L87.10,364.87 L87.30,364.63" fill="none" stroke="#000" stroke-width="4.60" stroke-linecap="round" stroke-linejoin="round"/><path d="M87.30,364.63 L87.50,364.38 L87.70,364.13 L87.90,363.87 L88.10,363.62 L88.30,363.37 L88.50,363.14" fill="none" stroke="#000" stroke-width="4.60" stroke-linecap="round" stroke-linejoin="round"/><path d="M88.50,363.14 L88.70,362.91 L88.90,362.70 L89.10,362.51 L89.30,362.35 L89.50,362.21 L89.70,362.10" fill="none" stroke="#000" stroke-width="4.60" stroke-linecap="round" stroke-linejoin="round"/><path d="M89.70,362.10 L89.90,362.02 L90.10,361.98 L90.30,361.95 L90.50,361.91 L90.70,361.89 L90.90,361.86" fill="none" stroke="#000" stroke-width="4.60" stroke-linecap="round" stroke-linejoin="round"/><path d="M90.90,361.86 L91.10,361.84 L91.30,361.81 L91.50,361.79 L91.70,361.78 L91.90,361.76 L92.10,361.74" fill="none" stroke="#000" stroke-width="4.60" stroke-linecap="round" stroke-linejoin="round"/><path d="M92.10,361.74 L92.30,361.73 L92.50,361.71 L92.70,361.70 L92.90,361.69 L93.10,361.67 L93.30,361.66" fill="none" stroke="#000" stroke-width="4.60" stroke-linecap="round" stroke-linejoin="round"/><path d="M93.30,361.66 L93.50,361.65 L93.70,361.63 L93.90,361.62 L94.10,361.60 L94.30,361.58 L94.50,361.56" fill="none" stroke="#000" stroke-width="4.60" stroke-linecap="round" stroke-linejoin="round"/><path d="M94.50,361.56 L94.70,361.54 L94.90,361.51 L95.10,361.49 L95.30,361.46 L95.50,361.43 L95.70,361.39" fill="none" stroke="#000" stroke-width="4.60" stroke-linecap="round" stroke-linejoin="round"/><path d="M95.70,361.39 L95.90,361.36 L96.10,361.32 L96.30,361.29 L96.50,361.25 L96.70,361.21 L96.90,361.17" fill="none" stroke="#000" stroke-width="4.60" stroke-linecap="round" stroke-linejoin="round"/><path d="M96.90,361.17 L97.10,361.13 L97.30,361.08 L97.50,361.04 L97.70,361.00 L97.90,360.95 L98.10,360.91" fill="none" stroke="#000" stroke-width="4.60" stroke-linecap="round" stroke-linejoin="round"/><path d="M98.10,360.91 L98.30,360.87 L98.50,360.82 L98.70,360.78 L98.90,360.73 L99.10,360.69 L99.30,360.65" fill="none" stroke="#000" stroke-width="4.60" stroke-linecap="round" stroke-linejoin="round"/><path d="M99.30,360.65 L99.50,360.60 L99.70,360.56 L99.90,360.52 L100.10,360.48 L100.30,360.44 L100.50,360.40" fill="none" stroke="#000" stroke-width="4.60" stroke-linecap="round" stroke-linejoin="round"/><path d="M100.50,360.40 L100.70,360.36 L100.90,360.33 L101.10,360.29 L101.30,360.25 L101.50,360.21 L101.70,360.18" fill="none" stroke="#000" stroke-width="4.60" stroke-linecap="round" stroke-linejoin="round"/><path d="M101.70,360.18 L101.90,360.14 L102.10,360.10 L102.30,360.06 L102.50,360.02 L102.70,359.99 L102.90,359.95" fill="none" stroke="#000" stroke-width="4.60" stroke-linecap="round" stroke-linejoin="round"/><path d="M102.90,359.95 L103.10,359.91 L103.30,359.87 L103.50,359.83 L103.70,359.79 L103.90,359.75 L104.10,359.70" fill="none" stroke="#000" stroke-width="4.60" stroke-linecap="round" stroke-linejoin="round"/><path d="M104.10,359.70 L104.30,359.66 L104.50,359.62 L104.70,359.57 L104.90,359.52 L105.10,359.48 L105.30,359.43" fill="none" stroke="#000" stroke-width="4.60" stroke-linecap="round" stroke-linejoin="round"/><path d="M105.30,359.43 L105.50,359.37 L105.70,359.32 L105.90,359.27 L106.10,359.21 L106.30,359.15 L106.50,359.09" fill="none" stroke="#000" stroke-width="4.60" stroke-linecap="round" stroke-linejoin="round"/><path d="M106.50,359.09 L106.70,359.03 L106.90,358.97 L107.10,358.91 L107.30,358.85 L107.50,358.79 L107.70,358.72" fill="none" stroke="#000" stroke-width="4.60" stroke-linecap="round" stroke-linejoin="round"/><path d="M107.70,358.72 L107.90,358.66 L108.10,358.60 L108.30,358.53 L108.50,358.47 L108.70,358.41 L108.90,358.34" fill="none" stroke="#000" stroke-width="4.60" stroke-linecap="round" stroke-linejoin="round"/><path d="M108.90,358.34 L109.10,358.28 L109.30,358.22 L109.50,358.15 L109.70,358.09 L109.90,358.03 L110.10,357.97" fill="none" stroke="#000" stroke-width="4.60" stroke-linecap="round" stroke-linejoin="round"/><path d="M110.10,357.97 L110.30,357.91 L110.50,357.85 L110.70,357.79 L110.90,357.73 L111.10,357.67 L111.30,357.62" fill="none" stroke="#000" stroke-width="4.60" stroke-linecap="round" stroke-linejoin="round"/><path d="M111.30,357.62 L111.50,357.56 L111.70,357.50 L111.90,357.44 L112.10,357.38 L112.30,357.32 L112.50,357.27" fill="none" stroke="#000" stroke-width="4.60" stroke-linecap="round" stroke-linejoin="round"/><path d="M112.50,357.27 L112.70,357.21 L112.90,357.15 L113.10,357.09 L113.30,357.03 L113.50,356.97 L113.70,356.91" fill="none" stroke="#000" stroke-width="4.60" stroke-linecap="round" stroke-linejoin="round"/><path d="M113.70,356.91 L113.90,356.85 L114.10,356.78 L114.30,356.72 L114.50,356.66 L114.70,356.60 L114.90,356.53" fill="none" stroke="#000" stroke-width="4.60" stroke-linecap="round" stroke-linejoin="round"/><path d="M114.90,356.53 L115.10,356.47 L115.30,356.40 L115.50,356.34 L115.70,356.27 L115.90,356.20 L116.10,356.14" fill="none" stroke="#000" stroke-width="4.60" stroke-linecap="round" stroke-linejoin="round"/><path d="M116.10,356.14 L116.30,356.07 L116.50,356.00 L116.70,355.94 L116.90,355.87 L117.10,355.80 L117.30,355.73" fill="none" stroke="#000" stroke-width="4.60" stroke-linecap="round" stroke-linejoin="round"/><path d="M117.30,355.73 L117.50,355.66 L117.70,355.59 L117.90,355.52 L118.10,355.45 L118.30,355.38 L118.50,355.31" fill="none" stroke="#000" stroke-width="4.60" stroke-linecap="round" stroke-linejoin="round"/><path d="M118.50,355.31 L118.70,355.24 L118.90,355.16 L119.10,355.09 L119.30,355.02 L119.50,354.95 L119.70,354.87" fill="none" stroke="#000" stroke-width="4.60" stroke-linecap="round" stroke-linejoin="round"/><path d="M119.70,354.87 L119.90,354.80 L120.10,354.72 L120.30,354.65 L120.50,354.57 L120.70,354.50 L120.90,354.42" fill="none" stroke="#000" stroke-width="4.60" stroke-linecap="round" stroke-linejoin="round"/><path d="M120.90,354.42 L121.10,354.35 L121.30,354.27 L121.50,354.19 L121.70,354.12 L121.90,354.04" fill="none" stroke="#000" stroke-width="4.60" stroke-linecap="round" stroke-linejoin="round"/>
<path d="M29.50,326.59 L29.70,329.85 L29.90,322.83 L30.10,321.58 L30.30,330.32 L30.50,324.69 L30.70,321.57 L30.90,323.73 L31.10,324.21 L31.30,326.22 L31.50,326.11 L31.70,326.53 L31.90,322.27 L32.10,326.00 L32.30,326.20 L32.50,328.62 L32.70,326.76 L32.90,326.72 L33.10,326.46 L33.30,324.77 L33.50,324.44 L33.70,328.37 L33.90,320.99 L34.10,328.44 L34.30,328.39 L34.50,323.02 L34.70,325.51 L34.90,319.02 L35.10,323.86 L35.30,324.94 L35.50,324.56 L35.70,324.34 L35.90,325.40 L36.10,324.13 L36.30,323.30 L36.50,325.49 L36.70,321.82 L36.90,323.00 L37.10,326.52 L37.30,329.10 L37.50,321.17 L37.70,323.94 L37.90,324.22 L38.10,329.11 L38.30,326.66 L38.50,325.72 L38.70,322.35 L38.90,323.00 L39.10,327.74 L39.30,321.58 L39.50,325.56 L39.70,325.97 L39.90,319.86 L40.10,326.60 L40.30,326.85 L40.50,321.87 L40.70,326.44 L40.90,323.93 L41.10,326.68 L41.30,324.64 L41.50,325.26 L41.70,323.45 L41.90,326.62 L42.10,323.81 L42.30,321.63 L42.50,326.36 L42.70,324.62 L42.90,323.30 L43.10,326.20 L43.30,327.74 L43.50,322.36 L43.70,321.74 L43.90,327.45 L44.10,324.22 L44.30,326.01 L44.50,324.74 L44.70,323.01 L44.90,323.39 L45.10,324.16 L45.30,326.20 L45.50,323.63 L45.70,323.61 L45.90,327.78 L46.10,319.47 L46.30,325.27 L46.50,325.26 L46.70,329.90 L46.90,325.69 L47.10,327.78 L47.30,324.92 L47.50,325.30 L47.70,325.15 L47.90,322.67 L48.10,324.68 L48.30,321.14 L48.50,325.22 L48.70,324.47 L48.90,327.52 L49.10,323.57 L49.30,328.26 L49.50,328.70 L49.70,321.81 L49.90,326.17 L50.10,321.32 L50.30,325.84 L50.50,323.10 L50.70,322.41 L50.90,324.40 L51.10,329.04 L51.30,322.68 L51.50,324.70 L51.70,326.96 L51.90,327.36 L52.10,329.13 L52.30,330.34 L52.50,332.46 L52.70,332.22 L52.90,336.57 L53.10,340.82 L53.30,347.41 L53.50,354.10 L53.70,361.15 L53.90,365.05 L54.10,368.26 L54.30,373.07 L54.50,377.51 L54.70,378.52 L54.90,380.22 L55.10,380.88 L55.30,382.09 L55.50,381.16 L55.70,382.14 L55.90,384.31 L56.10,384.61 L56.30,384.65 L56.50,385.25 L56.70,386.27 L56.90,385.72 L57.10,385.76 L57.30,385.66 L57.50,387.03 L57.70,383.78 L57.90,385.00 L58.10,384.18 L58.30,385.78 L58.50,387.71 L58.70,383.82 L58.90,387.44 L59.10,387.00 L59.30,383.20 L59.50,388.22 L59.70,387.30 L59.90,385.38 L60.10,388.58 L60.30,382.41 L60.50,384.13 L60.70,386.27 L60.90,380.88 L61.10,385.20 L61.30,381.06 L61.50,384.13 L61.70,382.68 L61.90,385.48 L62.10,382.79 L62.30,382.14 L62.50,379.90 L62.70,383.36 L62.90,382.01 L63.10,385.94 L63.30,384.66 L63.50,379.05 L63.70,378.23 L63.90,380.69 L64.10,380.62 L64.30,379.15 L64.50,381.70 L64.70,380.99 L64.90,382.27 L65.10,379.48 L65.30,382.95 L65.50,376.06 L65.70,381.15 L65.90,379.01 L66.10,383.08 L66.30,378.57 L66.50,378.89 L66.70,383.34 L66.90,380.15 L67.10,380.87 L67.30,380.18 L67.50,378.49 L67.70,382.05 L67.90,382.25 L68.10,373.47 L68.30,375.74 L68.50,376.52 L68.70,378.68 L68.90,376.30 L69.10,384.90 L69.30,377.32 L69.50,383.06 L69.70,379.15 L69.90,377.45 L70.10,380.73 L70.30,378.65 L70.50,380.11 L70.70,377.23 L70.90,378.53 L71.10,372.59 L71.30,376.21 L71.50,378.29 L71.70,377.72 L71.90,376.59 L72.10,375.16 L72.30,372.63 L72.50,377.82 L72.70,377.11 L72.90,376.19 L73.10,376.05 L73.30,369.74 L73.50,371.71 L73.70,372.82 L73.90,372.62 L74.10,377.02 L74.30,374.05 L74.50,374.54 L74.70,374.11 L74.90,369.80 L75.10,371.59 L75.30,370.33 L75.50,372.31 L75.70,376.57 L75.90,367.39 L76.10,374.04 L76.30,372.96 L76.50,376.31 L76.70,374.78 L76.90,366.41 L77.10,377.27 L77.30,371.80 L77.50,372.29 L77.70,372.28 L77.90,369.89 L78.10,367.94 L78.30,370.82 L78.50,371.80 L78.70,371.41 L78.90,372.48 L79.10,371.50 L79.30,368.27 L79.50,369.60 L79.70,372.16 L79.90,370.43 L80.10,369.84 L80.30,369.06 L80.50,369.26 L80.70,370.26 L80.90,374.37 L81.10,367.52 L81.30,373.79 L81.50,367.22 L81.70,370.04 L81.90,365.03 L82.10,374.66 L82.30,369.02 L82.50,367.71 L82.70,371.65 L82.90,371.79 L83.10,367.39 L83.30,365.49 L83.50,367.62 L83.70,368.10 L83.90,362.46 L84.10,368.61 L84.30,369.81 L84.50,373.69 L84.70,365.79 L84.90,368.96 L85.10,367.47 L85.30,368.00 L85.50,367.28 L85.70,370.00 L85.90,364.09 L86.10,364.84 L86.30,366.48 L86.50,361.37 L86.70,365.09 L86.90,365.66 L87.10,365.73 L87.30,362.51 L87.50,364.02 L87.70,364.56 L87.90,361.58 L88.10,364.17 L88.30,360.40 L88.50,363.87 L88.70,362.47 L88.90,363.26 L89.10,361.66 L89.30,367.93 L89.50,365.99 L89.70,356.67 L89.90,365.55 L90.10,361.49 L90.30,361.84 L90.50,360.90 L90.70,363.22 L90.90,364.20 L91.10,363.56 L91.30,359.33 L91.50,357.96 L91.70,361.98 L91.90,365.68 L92.10,362.48 L92.30,362.24 L92.50,360.96 L92.70,361.87 L92.90,358.88 L93.10,363.47 L93.30,362.20 L93.50,360.82 L93.70,358.38 L93.90,362.68 L94.10,362.86 L94.30,360.08 L94.50,363.45 L94.70,361.44 L94.90,365.10 L95.10,358.61 L95.30,360.67 L95.50,359.58 L95.70,360.45 L95.90,359.12 L96.10,362.98 L96.30,362.83 L96.50,359.45 L96.70,359.33 L96.90,362.13 L97.10,360.79 L97.30,360.95 L97.50,360.35 L97.70,359.62 L97.90,364.09 L98.10,363.58 L98.30,363.66 L98.50,359.67 L98.70,366.30 L98.90,358.64 L99.10,362.92 L99.30,357.80 L99.50,361.16 L99.70,363.23 L99.90,355.20 L100.10,362.46 L100.30,358.98 L100.50,360.97 L100.70,361.77 L100.90,359.10 L101.10,355.96 L101.30,361.74 L101.50,360.78 L101.70,360.39 L101.90,358.75 L102.10,364.18 L102.30,363.35 L102.50,358.46 L102.70,359.99 L102.90,361.67 L103.10,362.68 L103.30,359.97 L103.50,362.05 L103.70,362.57 L103.90,360.76 L104.10,356.10 L104.30,358.24 L104.50,360.26 L104.70,361.07 L104.90,360.99 L105.10,356.11 L105.30,362.74 L105.50,362.25 L105.70,361.91 L105.90,361.40 L106.10,355.44 L106.30,358.26 L106.50,359.64 L106.70,359.01 L106.90,361.50 L107.10,360.81 L107.30,356.99 L107.50,360.79 L107.70,357.58 L107.90,356.52 L108.10,362.57 L108.30,360.59 L108.50,357.30 L108.70,359.13 L108.90,358.79 L109.10,359.68 L109.30,357.99 L109.50,356.57 L109.70,355.45 L109.90,357.15 L110.10,354.30 L110.30,359.43 L110.50,356.05 L110.70,360.27 L110.90,357.39 L111.10,357.00 L111.30,356.73 L111.50,354.44 L111.70,358.68 L111.90,354.07 L112.10,356.28 L112.30,355.88 L112.50,356.68 L112.70,356.98 L112.90,356.72 L113.10,358.67 L113.30,359.32 L113.50,358.25 L113.70,356.96 L113.90,359.36 L114.10,354.64 L114.30,362.36 L114.50,360.34 L114.70,358.54 L114.90,358.06 L115.10,356.60 L115.30,355.33 L115.50,359.27 L115.70,356.83 L115.90,353.66 L116.10,355.54 L116.30,358.04 L116.50,359.01 L116.70,352.97 L116.90,356.11 L117.10,357.11 L117.30,354.09 L117.50,354.75 L117.70,353.69 L117.90,359.10 L118.10,353.98 L118.30,351.33 L118.50,351.91 L118.70,361.63 L118.90,352.80 L119.10,353.94 L119.30,358.45 L119.50,357.93 L119.70,358.07 L119.90,354.98 L120.10,351.27 L120.30,356.68 L120.50,356.26 L120.70,352.56 L120.90,358.16 L121.10,349.62 L121.30,355.74 L121.50,351.20 L121.70,357.09 L121.90,352.74" fill="none" stroke="#000" stroke-width="1.0" stroke-linejoin="round"/>
<path d="M29.50,325.00 L29.70,325.00 L29.90,325.00 L30.10,325.00 L30.30,325.00 L30.50,325.00 L30.70,325.00 L30.90,325.00 L31.10,325.00 L31.30,325.00 L31.50,325.00" fill="none" stroke="#ff1a1a" stroke-width="4.60" stroke-linecap="round" stroke-linejoin="round"/><path d="M31.50,325.00 L31.70,325.00 L31.90,325.00 L32.10,325.00 L32.30,325.00 L32.50,325.00 L32.70,325.00 L32.90,325.00 L33.10,325.00 L33.30,325.00 L33.50,325.00" fill="none" stroke="#ff1a1a" stroke-width="4.60" stroke-linecap="round" stroke-linejoin="round"/><path d="M33.50,325.00 L33.70,325.00 L33.90,325.00 L34.10,325.00 L34.30,325.00 L34.50,325.00 L34.70,325.00 L34.90,325.00 L35.10,325.00 L35.30,325.00 L35.50,325.00" fill="none" stroke="#ff1a1a" stroke-width="4.60" stroke-linecap="round" stroke-linejoin="round"/><path d="M35.50,325.00 L35.70,325.00 L35.90,325.00 L36.10,325.00 L36.30,325.00 L36.50,325.00 L36.70,325.00 L36.90,325.00 L37.10,325.00 L37.30,325.00 L37.50,325.00" fill="none" stroke="#ff1a1a" stroke-width="4.60" stroke-linecap="round" stroke-linejoin="round"/><path d="M37.50,325.00 L37.70,325.00 L37.90,325.00 L38.10,325.00 L38.30,325.00 L38.50,325.00 L38.70,325.00 L38.90,325.00 L39.10,325.00 L39.30,325.00 L39.50,325.00" fill="none" stroke="#ff1a1a" stroke-width="4.60" stroke-linecap="round" stroke-linejoin="round"/><path d="M39.50,325.00 L39.70,325.00 L39.90,325.00 L40.10,325.00 L40.30,325.00 L40.50,325.00 L40.70,325.00 L40.90,325.00 L41.10,325.00 L41.30,325.00 L41.50,325.00" fill="none" stroke="#ff1a1a" stroke-width="4.60" stroke-linecap="round" stroke-linejoin="round"/><path d="M41.50,325.00 L41.70,325.00 L41.90,325.00 L42.10,325.00 L42.30,325.00 L42.50,325.00 L42.70,325.00 L42.90,325.00 L43.10,325.00 L43.30,325.00 L43.50,325.00" fill="none" stroke="#ff1a1a" stroke-width="4.60" stroke-linecap="round" stroke-linejoin="round"/><path d="M43.50,325.00 L43.70,325.00 L43.90,325.00 L44.10,325.00 L44.30,325.00 L44.50,325.00 L44.70,325.00 L44.90,325.00 L45.10,325.00 L45.30,325.00 L45.50,325.00" fill="none" stroke="#ff1a1a" stroke-width="4.60" stroke-linecap="round" stroke-linejoin="round"/><path d="M45.50,325.00 L45.70,325.00 L45.90,325.00 L46.10,325.00 L46.30,325.00 L46.50,325.00 L46.70,325.00 L46.90,325.00 L47.10,325.00 L47.30,325.00 L47.50,325.00" fill="none" stroke="#ff1a1a" stroke-width="4.60" stroke-linecap="round" stroke-linejoin="round"/><path d="M47.50,325.00 L47.70,325.00 L47.90,325.00 L48.10,325.00 L48.30,325.00 L48.50,325.00 L48.70,325.00 L48.90,325.00 L49.10,325.00 L49.30,325.00 L49.50,325.00" fill="none" stroke="#ff1a1a" stroke-width="4.60" stroke-linecap="round" stroke-linejoin="round"/><path d="M49.50,325.00 L49.70,325.00 L49.90,325.00 L50.10,325.00 L50.30,325.00 L50.50,325.00 L50.70,325.00 L50.90,325.00 L51.10,325.00 L51.30,325.00" fill="none" stroke="#ff1a1a" stroke-width="4.60" stroke-linecap="round" stroke-linejoin="round"/><path d="M51.30,325.00 L51.50,325.00 L51.70,326.44 L51.90,327.87 L52.10,329.29 L52.30,330.65 L52.50,331.83" fill="none" stroke="#ff1a1a" stroke-width="1.01" stroke-linecap="round" stroke-linejoin="round"/><path d="M52.50,331.83 L52.70,333.24 L52.90,335.68 L53.10,340.64 L53.30,347.26 L53.50,354.30 L53.70,360.55" fill="none" stroke="#ff1a1a" stroke-width="1.01" stroke-linecap="round" stroke-linejoin="round"/><path d="M53.70,360.55 L53.90,365.19 L54.10,369.61 L54.30,373.65 L54.50,376.79 L54.70,378.50 L54.90,379.29" fill="none" stroke="#ff1a1a" stroke-width="1.01" stroke-linecap="round" stroke-linejoin="round"/><path d="M54.90,379.29 L55.10,380.01 L55.30,380.68 L55.50,381.28 L55.70,381.83 L55.90,382.31 L56.10,382.74" fill="none" stroke="#ff1a1a" stroke-width="1.01" stroke-linecap="round" stroke-linejoin="round"/><path d="M56.10,382.74 L56.30,383.11 L56.50,383.42 L56.70,383.68 L56.90,383.89 L57.10,384.04 L57.30,384.14" fill="none" stroke="#ff1a1a" stroke-width="1.01" stroke-linecap="round" stroke-linejoin="round"/><path d="M57.30,384.14 L57.50,384.19 L57.70,384.19 L57.90,384.08 L58.10,383.87 L58.30,383.60 L58.50,383.26" fill="none" stroke="#ff1a1a" stroke-width="1.01" stroke-linecap="round" stroke-linejoin="round"/><path d="M58.50,383.26 L58.70,382.88 L58.90,382.47 L59.10,382.05 L59.30,381.64 L59.50,381.25 L59.70,380.91" fill="none" stroke="#ff1a1a" stroke-width="3.45" stroke-linecap="round" stroke-linejoin="round"/><path d="M59.70,380.91 L59.90,380.62 L60.10,380.39 L60.30,380.19 L60.50,380.00 L60.70,379.81 L60.90,379.64" fill="none" stroke="#ff1a1a" stroke-width="3.45" stroke-linecap="round" stroke-linejoin="round"/><path d="M60.90,379.64 L61.10,379.47 L61.30,379.31 L61.50,379.16 L61.70,379.01 L61.90,378.86 L62.10,378.72" fill="none" stroke="#ff1a1a" stroke-width="3.91" stroke-linecap="round" stroke-linejoin="round"/><path d="M62.10,378.72 L62.30,378.57 L62.50,378.43 L62.70,378.29 L62.90,378.15 L63.10,378.02 L63.30,377.89" fill="none" stroke="#ff1a1a" stroke-width="4.60" stroke-linecap="round" stroke-linejoin="round"/><path d="M63.30,377.89 L63.50,377.77 L63.70,377.65 L63.90,377.53 L64.10,377.41 L64.30,377.30 L64.50,377.18" fill="none" stroke="#ff1a1a" stroke-width="4.60" stroke-linecap="round" stroke-linejoin="round"/><path d="M64.50,377.18 L64.70,377.07 L64.90,376.96 L65.10,376.84 L65.30,376.73 L65.50,376.61 L65.70,376.49" fill="none" stroke="#ff1a1a" stroke-width="4.60" stroke-linecap="round" stroke-linejoin="round"/><path d="M65.70,376.49 L65.90,376.37 L66.10,376.25 L66.30,376.12 L66.50,375.99 L66.70,375.86 L66.90,375.72" fill="none" stroke="#ff1a1a" stroke-width="4.60" stroke-linecap="round" stroke-linejoin="round"/><path d="M66.90,375.72 L67.10,375.57 L67.30,375.42 L67.50,375.26 L67.70,375.10 L67.90,374.92 L68.10,374.74" fill="none" stroke="#ff1a1a" stroke-width="4.60" stroke-linecap="round" stroke-linejoin="round"/><path d="M68.10,374.74 L68.30,374.55 L68.50,374.36 L68.70,374.17 L68.90,373.98 L69.10,373.79 L69.30,373.61" fill="none" stroke="#ff1a1a" stroke-width="4.60" stroke-linecap="round" stroke-linejoin="round"/><path d="M69.30,373.61 L69.50,373.42 L69.70,373.25 L69.90,373.08 L70.10,372.92 L70.30,372.76 L70.50,372.61" fill="none" stroke="#ff1a1a" stroke-width="4.60" stroke-linecap="round" stroke-linejoin="round"/><path d="M70.50,372.61 L70.70,372.46 L70.90,372.31 L71.10,372.16 L71.30,372.01 L71.50,371.86 L71.70,371.72" fill="none" stroke="#ff1a1a" stroke-width="4.60" stroke-linecap="round" stroke-linejoin="round"/><path d="M71.70,371.72 L71.90,371.58 L72.10,371.44 L72.30,371.30 L72.50,371.16 L72.70,371.02 L72.90,370.88" fill="none" stroke="#ff1a1a" stroke-width="4.60" stroke-linecap="round" stroke-linejoin="round"/><path d="M72.90,370.88 L73.10,370.75 L73.30,370.61 L73.50,370.48 L73.70,370.35 L73.90,370.22 L74.10,370.08" fill="none" stroke="#ff1a1a" stroke-width="4.60" stroke-linecap="round" stroke-linejoin="round"/><path d="M74.10,370.08 L74.30,369.95 L74.50,369.82 L74.70,369.69 L74.90,369.56 L75.10,369.44 L75.30,369.31" fill="none" stroke="#ff1a1a" stroke-width="4.60" stroke-linecap="round" stroke-linejoin="round"/><path d="M75.30,369.31 L75.50,369.19 L75.70,369.07 L75.90,368.95 L76.10,368.83 L76.30,368.72 L76.50,368.60" fill="none" stroke="#ff1a1a" stroke-width="4.60" stroke-linecap="round" stroke-linejoin="round"/><path d="M76.50,368.60 L76.70,368.49 L76.90,368.38 L77.10,368.27 L77.30,368.16 L77.50,368.05 L77.70,367.93" fill="none" stroke="#ff1a1a" stroke-width="4.60" stroke-linecap="round" stroke-linejoin="round"/><path d="M77.70,367.93 L77.90,367.82 L78.10,367.71 L78.30,367.59 L78.50,367.47 L78.70,367.35 L78.90,367.23" fill="none" stroke="#ff1a1a" stroke-width="4.60" stroke-linecap="round" stroke-linejoin="round"/><path d="M78.90,367.23 L79.10,367.11 L79.30,366.98 L79.50,366.85 L79.70,366.71 L79.90,366.57 L80.10,366.43" fill="none" stroke="#ff1a1a" stroke-width="4.60" stroke-linecap="round" stroke-linejoin="round"/><path d="M80.10,366.43 L80.30,366.28 L80.50,366.13 L80.70,365.97 L80.90,365.82 L81.10,365.65 L81.30,365.49" fill="none" stroke="#ff1a1a" stroke-width="4.60" stroke-linecap="round" stroke-linejoin="round"/><path d="M81.30,365.49 L81.50,365.32 L81.70,365.15 L81.90,364.98 L82.10,364.80 L82.30,364.62 L82.50,364.44" fill="none" stroke="#ff1a1a" stroke-width="4.60" stroke-linecap="round" stroke-linejoin="round"/><path d="M82.50,364.44 L82.70,364.26 L82.90,364.07 L83.10,363.88 L83.30,363.69 L83.50,363.50 L83.70,363.31" fill="none" stroke="#ff1a1a" stroke-width="4.60" stroke-linecap="round" stroke-linejoin="round"/><path d="M83.70,363.31 L83.90,363.11 L84.10,362.91 L84.30,362.71 L84.50,362.51 L84.70,362.31 L84.90,362.10" fill="none" stroke="#ff1a1a" stroke-width="4.60" stroke-linecap="round" stroke-linejoin="round"/><path d="M84.90,362.10 L85.10,361.90 L85.30,361.69 L85.50,361.47 L85.70,361.25 L85.90,361.03 L86.10,360.81" fill="none" stroke="#ff1a1a" stroke-width="4.60" stroke-linecap="round" stroke-linejoin="round"/><path d="M86.10,360.81 L86.30,360.58 L86.50,360.34 L86.70,360.11 L86.90,359.87 L87.10,359.62 L87.30,359.38" fill="none" stroke="#ff1a1a" stroke-width="4.60" stroke-linecap="round" stroke-linejoin="round"/><path d="M87.30,359.38 L87.50,359.13 L87.70,358.88 L87.90,358.63 L88.10,358.37 L88.30,358.06 L88.50,357.73" fill="none" stroke="#ff1a1a" stroke-width="4.60" stroke-linecap="round" stroke-linejoin="round"/><path d="M88.50,357.73 L88.70,357.37 L88.90,357.00 L89.10,356.62 L89.30,356.26 L89.50,355.93 L89.70,355.62" fill="none" stroke="#ff1a1a" stroke-width="4.60" stroke-linecap="round" stroke-linejoin="round"/><path d="M89.70,355.62 L89.90,355.37 L90.10,355.17 L90.30,355.04 L90.50,355.00 L90.70,355.03 L90.90,355.10" fill="none" stroke="#ff1a1a" stroke-width="4.60" stroke-linecap="round" stroke-linejoin="round"/><path d="M90.90,355.10 L91.10,355.22 L91.30,355.36 L91.50,355.53 L91.70,355.71 L91.90,355.88 L92.10,356.06" fill="none" stroke="#ff1a1a" stroke-width="4.60" stroke-linecap="round" stroke-linejoin="round"/><path d="M92.10,356.06 L92.30,356.21 L92.50,356.34 L92.70,356.44 L92.90,356.49 L93.10,356.50 L93.30,356.50" fill="none" stroke="#ff1a1a" stroke-width="4.60" stroke-linecap="round" stroke-linejoin="round"/><path d="M93.30,356.50 L93.50,356.50 L93.70,356.49 L93.90,356.49 L94.10,356.48 L94.30,356.48 L94.50,356.47" fill="none" stroke="#ff1a1a" stroke-width="4.60" stroke-linecap="round" stroke-linejoin="round"/><path d="M94.50,356.47 L94.70,356.46 L94.90,356.45 L95.10,356.44 L95.30,356.43 L95.50,356.41 L95.70,356.40" fill="none" stroke="#ff1a1a" stroke-width="4.60" stroke-linecap="round" stroke-linejoin="round"/><path d="M95.70,356.40 L95.90,356.39 L96.10,356.37 L96.30,356.36 L96.50,356.34 L96.70,356.33 L96.90,356.31" fill="none" stroke="#ff1a1a" stroke-width="4.60" stroke-linecap="round" stroke-linejoin="round"/><path d="M96.90,356.31 L97.10,356.29 L97.30,356.26 L97.50,356.23 L97.70,356.18 L97.90,356.13 L98.10,356.08" fill="none" stroke="#ff1a1a" stroke-width="4.60" stroke-linecap="round" stroke-linejoin="round"/><path d="M98.10,356.08 L98.30,356.02 L98.50,355.95 L98.70,355.89 L98.90,355.82 L99.10,355.76 L99.30,355.69" fill="none" stroke="#ff1a1a" stroke-width="4.60" stroke-linecap="round" stroke-linejoin="round"/><path d="M99.30,355.69 L99.50,355.63 L99.70,355.58 L99.90,355.52 L100.10,355.48 L100.30,355.43 L100.50,355.39" fill="none" stroke="#ff1a1a" stroke-width="4.60" stroke-linecap="round" stroke-linejoin="round"/><path d="M100.50,355.39 L100.70,355.35 L100.90,355.30 L101.10,355.26 L101.30,355.22 L101.50,355.19 L101.70,355.15" fill="none" stroke="#ff1a1a" stroke-width="4.60" stroke-linecap="round" stroke-linejoin="round"/><path d="M101.70,355.15 L101.90,355.11 L102.10,355.07 L102.30,355.03 L102.50,355.00 L102.70,354.96 L102.90,354.92" fill="none" stroke="#ff1a1a" stroke-width="4.60" stroke-linecap="round" stroke-linejoin="round"/><path d="M102.90,354.92 L103.10,354.89 L103.30,354.85 L103.50,354.81 L103.70,354.77 L103.90,354.73 L104.10,354.69" fill="none" stroke="#ff1a1a" stroke-width="4.60" stroke-linecap="round" stroke-linejoin="round"/><path d="M104.10,354.69 L104.30,354.65 L104.50,354.61 L104.70,354.57 L104.90,354.52 L105.10,354.48 L105.30,354.43" fill="none" stroke="#ff1a1a" stroke-width="4.60" stroke-linecap="round" stroke-linejoin="round"/><path d="M105.30,354.43 L105.50,354.38 L105.70,354.33 L105.90,354.29 L106.10,354.23 L106.30,354.18 L106.50,354.13" fill="none" stroke="#ff1a1a" stroke-width="4.60" stroke-linecap="round" stroke-linejoin="round"/><path d="M106.50,354.13 L106.70,354.08 L106.90,354.03 L107.10,353.97 L107.30,353.92 L107.50,353.86 L107.70,353.81" fill="none" stroke="#ff1a1a" stroke-width="4.60" stroke-linecap="round" stroke-linejoin="round"/><path d="M107.70,353.81 L107.90,353.76 L108.10,353.70 L108.30,353.65 L108.50,353.59 L108.70,353.54 L108.90,353.49" fill="none" stroke="#ff1a1a" stroke-width="4.60" stroke-linecap="round" stroke-linejoin="round"/><path d="M108.90,353.49 L109.10,353.43 L109.30,353.38 L109.50,353.33 L109.70,353.28 L109.90,353.23 L110.10,353.18" fill="none" stroke="#ff1a1a" stroke-width="4.60" stroke-linecap="round" stroke-linejoin="round"/><path d="M110.10,353.18 L110.30,353.13 L110.50,353.08 L110.70,353.03 L110.90,352.98 L111.10,352.93 L111.30,352.88" fill="none" stroke="#ff1a1a" stroke-width="4.60" stroke-linecap="round" stroke-linejoin="round"/><path d="M111.30,352.88 L111.50,352.83 L111.70,352.78 L111.90,352.73 L112.10,352.68 L112.30,352.63 L112.50,352.59" fill="none" stroke="#ff1a1a" stroke-width="4.60" stroke-linecap="round" stroke-linejoin="round"/><path d="M112.50,352.59 L112.70,352.54 L112.90,352.49 L113.10,352.44 L113.30,352.39 L113.50,352.35 L113.70,352.30" fill="none" stroke="#ff1a1a" stroke-width="4.60" stroke-linecap="round" stroke-linejoin="round"/><path d="M113.70,352.30 L113.90,352.25 L114.10,352.21 L114.30,352.16 L114.50,352.11 L114.70,352.07 L114.90,352.02" fill="none" stroke="#ff1a1a" stroke-width="4.60" stroke-linecap="round" stroke-linejoin="round"/><path d="M114.90,352.02 L115.10,351.98 L115.30,351.93 L115.50,351.89 L115.70,351.84 L115.90,351.80 L116.10,351.75" fill="none" stroke="#ff1a1a" stroke-width="4.60" stroke-linecap="round" stroke-linejoin="round"/><path d="M116.10,351.75 L116.30,351.71 L116.50,351.66 L116.70,351.62 L116.90,351.57 L117.10,351.53 L117.30,351.49" fill="none" stroke="#ff1a1a" stroke-width="4.60" stroke-linecap="round" stroke-linejoin="round"/><path d="M117.30,351.49 L117.50,351.44 L117.70,351.40 L117.90,351.36 L118.10,351.31 L118.30,351.27 L118.50,351.23" fill="none" stroke="#ff1a1a" stroke-width="4.60" stroke-linecap="round" stroke-linejoin="round"/><path d="M118.50,351.23 L118.70,351.18 L118.90,351.14 L119.10,351.10 L119.30,351.06 L119.50,351.01 L119.70,350.97" fill="none" stroke="#ff1a1a" stroke-width="4.60" stroke-linecap="round" stroke-linejoin="round"/><path d="M119.70,350.97 L119.90,350.93 L120.10,350.89 L120.30,350.85 L120.50,350.80 L120.70,350.76 L120.90,350.72" fill="none" stroke="#ff1a1a" stroke-width="4.60" stroke-linecap="round" stroke-linejoin="round"/><path d="M120.90,350.72 L121.10,350.68 L121.30,350.64 L121.50,350.60 L121.70,350.56 L121.90,350.52" fill="none" stroke="#ff1a1a" stroke-width="4.60" stroke-linecap="round" stroke-linejoin="round"/>
<path d="M29.50,324.46 L29.70,321.75 L29.90,326.76 L30.10,321.66 L30.30,326.33 L30.50,326.25 L30.70,327.64 L30.90,325.01 L31.10,327.25 L31.30,328.10 L31.50,327.43 L31.70,326.06 L31.90,325.42 L32.10,326.55 L32.30,321.95 L32.50,325.20 L32.70,325.32 L32.90,322.33 L33.10,327.74 L33.30,321.96 L33.50,324.58 L33.70,325.57 L33.90,322.74 L34.10,327.50 L34.30,323.04 L34.50,327.68 L34.70,328.62 L34.90,327.77 L35.10,327.34 L35.30,322.71 L35.50,325.29 L35.70,327.37 L35.90,326.93 L36.10,328.24 L36.30,322.47 L36.50,324.85 L36.70,321.80 L36.90,327.65 L37.10,328.42 L37.30,326.47 L37.50,323.57 L37.70,331.08 L37.90,324.02 L38.10,325.56 L38.30,321.71 L38.50,324.93 L38.70,323.51 L38.90,325.20 L39.10,321.18 L39.30,328.21 L39.50,325.43 L39.70,325.81 L39.90,327.34 L40.10,321.06 L40.30,324.76 L40.50,325.16 L40.70,326.07 L40.90,327.97 L41.10,319.82 L41.30,326.60 L41.50,321.65 L41.70,320.72 L41.90,327.50 L42.10,323.00 L42.30,321.49 L42.50,322.24 L42.70,327.55 L42.90,326.97 L43.10,323.12 L43.30,323.06 L43.50,326.01 L43.70,322.17 L43.90,323.48 L44.10,326.79 L44.30,323.09 L44.50,327.63 L44.70,322.95 L44.90,321.48 L45.10,325.22 L45.30,329.69 L45.50,320.32 L45.70,323.38 L45.90,328.55 L46.10,323.51 L46.30,327.39 L46.50,326.13 L46.70,324.69 L46.90,321.89 L47.10,328.34 L47.30,321.81 L47.50,327.03 L47.70,325.50 L47.90,321.34 L48.10,323.93 L48.30,328.66 L48.50,327.07 L48.70,323.78 L48.90,320.43 L49.10,329.37 L49.30,328.21 L49.50,325.61 L49.70,326.70 L49.90,324.47 L50.10,322.57 L50.30,328.35 L50.50,322.78 L50.70,323.09 L50.90,326.85 L51.10,325.50 L51.30,327.30 L51.50,325.55 L51.70,325.87 L51.90,328.48 L52.10,328.72 L52.30,330.53 L52.50,331.51 L52.70,333.31 L52.90,336.07 L53.10,340.34 L53.30,346.69 L53.50,354.22 L53.70,360.96 L53.90,365.99 L54.10,369.07 L54.30,373.61 L54.50,376.59 L54.70,377.81 L54.90,379.27 L55.10,380.09 L55.30,380.41 L55.50,381.39 L55.70,382.45 L55.90,382.36 L56.10,382.90 L56.30,382.89 L56.50,382.73 L56.70,383.49 L56.90,383.43 L57.10,383.78 L57.30,384.45 L57.50,381.60 L57.70,386.70 L57.90,385.05 L58.10,384.73 L58.30,387.02 L58.50,380.45 L58.70,381.84 L58.90,381.74 L59.10,383.04 L59.30,382.27 L59.50,382.89 L59.70,380.56 L59.90,379.55 L60.10,380.61 L60.30,382.49 L60.50,379.47 L60.70,379.75 L60.90,382.06 L61.10,379.88 L61.30,379.11 L61.50,379.17 L61.70,375.97 L61.90,381.58 L62.10,374.12 L62.30,381.44 L62.50,381.05 L62.70,379.38 L62.90,381.76 L63.10,376.54 L63.30,376.11 L63.50,376.96 L63.70,379.64 L63.90,374.59 L64.10,379.14 L64.30,376.77 L64.50,374.57 L64.70,376.43 L64.90,374.39 L65.10,378.67 L65.30,378.16 L65.50,375.34 L65.70,379.36 L65.90,381.89 L66.10,377.77 L66.30,376.47 L66.50,373.73 L66.70,378.15 L66.90,377.69 L67.10,378.68 L67.30,375.68 L67.50,374.66 L67.70,377.83 L67.90,376.62 L68.10,371.69 L68.30,368.57 L68.50,370.54 L68.70,377.56 L68.90,371.85 L69.10,368.73 L69.30,375.03 L69.50,369.15 L69.70,375.31 L69.90,370.80 L70.10,368.20 L70.30,374.54 L70.50,369.13 L70.70,376.18 L70.90,369.50 L71.10,369.07 L71.30,371.23 L71.50,372.01 L71.70,375.48 L71.90,369.35 L72.10,367.04 L72.30,365.75 L72.50,375.31 L72.70,374.94 L72.90,369.57 L73.10,373.45 L73.30,370.67 L73.50,370.68 L73.70,367.85 L73.90,371.53 L74.10,374.16 L74.30,371.29 L74.50,365.14 L74.70,371.50 L74.90,373.93 L75.10,370.30 L75.30,370.20 L75.50,369.38 L75.70,368.89 L75.90,371.87 L76.10,370.37 L76.30,367.34 L76.50,368.35 L76.70,367.39 L76.90,367.58 L77.10,374.11 L77.30,366.68 L77.50,369.71 L77.70,368.38 L77.90,369.20 L78.10,368.20 L78.30,368.89 L78.50,365.67 L78.70,365.23 L78.90,366.23 L79.10,365.71 L79.30,367.40 L79.50,368.49 L79.70,365.82 L79.90,368.29 L80.10,371.70 L80.30,364.83 L80.50,366.78 L80.70,368.57 L80.90,366.24 L81.10,363.47 L81.30,367.34 L81.50,363.15 L81.70,365.54 L81.90,361.07 L82.10,366.44 L82.30,365.07 L82.50,362.04 L82.70,368.48 L82.90,362.39 L83.10,362.05 L83.30,362.40 L83.50,365.68 L83.70,365.78 L83.90,364.22 L84.10,361.52 L84.30,366.21 L84.50,358.56 L84.70,364.80 L84.90,356.73 L85.10,358.99 L85.30,359.51 L85.50,363.51 L85.70,359.54 L85.90,360.61 L86.10,366.83 L86.30,364.66 L86.50,358.91 L86.70,361.20 L86.90,357.21 L87.10,362.51 L87.30,357.70 L87.50,356.89 L87.70,359.46 L87.90,355.75 L88.10,359.55 L88.30,356.28 L88.50,357.41 L88.70,357.21 L88.90,356.18 L89.10,359.68 L89.30,359.37 L89.50,356.36 L89.70,352.18 L89.90,355.80 L90.10,350.08 L90.30,355.25 L90.50,355.11 L90.70,351.81 L90.90,351.33 L91.10,356.75 L91.30,360.77 L91.50,350.70 L91.70,354.39 L91.90,350.44 L92.10,357.44 L92.30,356.93 L92.50,360.13 L92.70,353.47 L92.90,356.96 L93.10,355.34 L93.30,358.39 L93.50,354.73 L93.70,360.21 L93.90,356.52 L94.10,358.10 L94.30,352.99 L94.50,357.99 L94.70,357.69 L94.90,354.92 L95.10,359.76 L95.30,362.25 L95.50,355.19 L95.70,354.63 L95.90,353.24 L96.10,358.53 L96.30,355.85 L96.50,353.82 L96.70,357.07 L96.90,353.67 L97.10,353.56 L97.30,357.01 L97.50,358.80 L97.70,352.40 L97.90,357.48 L98.10,356.93 L98.30,355.06 L98.50,357.13 L98.70,354.33 L98.90,358.06 L99.10,357.89 L99.30,352.43 L99.50,358.95 L99.70,355.90 L99.90,354.77 L100.10,354.21 L100.30,354.05 L100.50,359.00 L100.70,354.61 L100.90,356.39 L101.10,358.62 L101.30,354.73 L101.50,359.79 L101.70,351.59 L101.90,351.09 L102.10,356.65 L102.30,358.69 L102.50,355.07 L102.70,354.12 L102.90,356.69 L103.10,354.24 L103.30,359.88 L103.50,359.85 L103.70,356.36 L103.90,350.93 L104.10,351.45 L104.30,350.23 L104.50,352.65 L104.70,354.72 L104.90,353.17 L105.10,355.46 L105.30,356.38 L105.50,355.48 L105.70,349.13 L105.90,355.04 L106.10,355.47 L106.30,353.24 L106.50,356.24 L106.70,353.68 L106.90,351.66 L107.10,357.60 L107.30,353.35 L107.50,353.57 L107.70,356.18 L107.90,353.24 L108.10,358.14 L108.30,357.12 L108.50,351.44 L108.70,351.53 L108.90,351.20 L109.10,347.45 L109.30,353.20 L109.50,351.41 L109.70,352.76 L109.90,353.59 L110.10,359.81 L110.30,354.03 L110.50,352.30 L110.70,351.40 L110.90,349.70 L111.10,350.84 L111.30,352.54 L111.50,360.06 L111.70,354.42 L111.90,351.23 L112.10,354.30 L112.30,355.23 L112.50,352.39 L112.70,348.99 L112.90,349.25 L113.10,353.16 L113.30,352.11 L113.50,356.81 L113.70,354.33 L113.90,352.76 L114.10,349.95 L114.30,351.65 L114.50,355.97 L114.70,351.67 L114.90,354.12 L115.10,351.26 L115.30,350.93 L115.50,350.58 L115.70,355.46 L115.90,354.97 L116.10,355.39 L116.30,349.66 L116.50,351.53 L116.70,352.35 L116.90,351.40 L117.10,347.29 L117.30,354.99 L117.50,353.26 L117.70,351.58 L117.90,348.36 L118.10,348.77 L118.30,350.13 L118.50,351.63 L118.70,352.50 L118.90,351.97 L119.10,351.37 L119.30,351.56 L119.50,350.47 L119.70,348.64 L119.90,349.84 L120.10,351.93 L120.30,355.08 L120.50,353.47 L120.70,347.63 L120.90,355.25 L121.10,348.70 L121.30,354.00 L121.50,349.58 L121.70,354.49 L121.90,346.36" fill="none" stroke="#ff1a1a" stroke-width="1.0" stroke-linejoin="round"/>
<path d="M96.9,313.5 H121.0 V282.3" fill="none" stroke="#000" stroke-width="1.4"/>
<path d="M96.9,387.5 H120.5 V364.1" fill="none" stroke="#000" stroke-width="1.4"/>
<text x="172.1" y="229.1" font-size="17.6" font-weight="bold" fill="#141414" stroke="#141414" stroke-width="0.25" text-anchor="start" textLength="19.4" lengthAdjust="spacingAndGlyphs">B2</text>
<line x1="266.9" y1="220.6" x2="266.9" y2="226.6" stroke="#111" stroke-width="1.4"/>
<line x1="264.3" y1="222.1" x2="269.5" y2="225.1" stroke="#111" stroke-width="1.4"/>
<line x1="269.5" y1="222.1" x2="264.3" y2="225.1" stroke="#111" stroke-width="1.4"/>
<line x1="229.5" y1="228.3" x2="229.5" y2="389.6" stroke="#b4b4b4" stroke-width="1"/>
<line x1="225.5" y1="390.0" x2="229.5" y2="390.0" stroke="#b4b4b4" stroke-width="1"/>
<text x="217.7" y="393.7" font-size="11" fill="#141414" stroke="#141414" stroke-width="0.12" text-anchor="end">0</text>
<line x1="225.5" y1="363.1" x2="229.5" y2="363.1" stroke="#b4b4b4" stroke-width="1"/>
<text x="217.7" y="366.8" font-size="11" fill="#141414" stroke="#141414" stroke-width="0.12" text-anchor="end">2</text>
<line x1="225.5" y1="336.2" x2="229.5" y2="336.2" stroke="#b4b4b4" stroke-width="1"/>
<text x="217.7" y="339.9" font-size="11" fill="#141414" stroke="#141414" stroke-width="0.12" text-anchor="end">4</text>
<line x1="225.5" y1="309.3" x2="229.5" y2="309.3" stroke="#b4b4b4" stroke-width="1"/>
<text x="217.7" y="313.0" font-size="11" fill="#141414" stroke="#141414" stroke-width="0.12" text-anchor="end">6</text>
<line x1="225.5" y1="282.4" x2="229.5" y2="282.4" stroke="#b4b4b4" stroke-width="1"/>
<text x="217.7" y="286.1" font-size="11" fill="#141414" stroke="#141414" stroke-width="0.12" text-anchor="end">8</text>
<line x1="225.5" y1="255.50000000000003" x2="229.5" y2="255.50000000000003" stroke="#b4b4b4" stroke-width="1"/>
<text x="217.7" y="259.2" font-size="11" fill="#141414" stroke="#141414" stroke-width="0.12" text-anchor="end">10</text>
<line x1="225.5" y1="228.60000000000005" x2="229.5" y2="228.60000000000005" stroke="#b4b4b4" stroke-width="1"/>
<text x="217.7" y="232.3" font-size="11" fill="#141414" stroke="#141414" stroke-width="0.12" text-anchor="end">12</text>
<line x1="229.5" y1="389.6" x2="307.8" y2="389.6" stroke="#b4b4b4" stroke-width="1"/>
<line x1="229.5" y1="389.6" x2="229.5" y2="392.8" stroke="#b4b4b4" stroke-width="1"/>
<line x1="268.6" y1="389.6" x2="268.6" y2="392.8" stroke="#b4b4b4" stroke-width="1"/>
<line x1="307.8" y1="389.6" x2="307.8" y2="392.8" stroke="#b4b4b4" stroke-width="1"/>
<rect x="232.4" y="282.0" width="33.10" height="53.80" fill="#ffb3b3" stroke="#000" stroke-width="1"/>
<rect x="232.4" y="335.8" width="33.10" height="53.80" fill="#ff1616" stroke="#000" stroke-width="1"/>
<rect x="271.4" y="241.65000000000003" width="32.90" height="134.50" fill="#b4d4ea" stroke="#000" stroke-width="1"/>
<rect x="271.4" y="376.15000000000003" width="32.90" height="13.45" fill="#0a7fbe" stroke="#000" stroke-width="1"/>
<text stroke="#141414" stroke-width="0.25" transform="translate(197.7,309.2) rotate(-90)" x="0" y="0" font-size="11" font-weight="bold" fill="#141414" text-anchor="middle" textLength="57.6" lengthAdjust="spacingAndGlyphs">No. of cells</text>
<text x="238.7" y="410.2" font-size="11.5" font-weight="bold" fill="#141414" stroke="#141414" stroke-width="0.25" text-anchor="start" textLength="21.0" lengthAdjust="spacingAndGlyphs">p10</text>
<text x="277.6" y="410.2" font-size="11.5" font-weight="bold" fill="#141414" stroke="#141414" stroke-width="0.25" text-anchor="start" textLength="21.0" lengthAdjust="spacingAndGlyphs">p60</text>
<rect x="321.6" y="307.0" width="7.70" height="7.00" fill="#c0c0c0" stroke="#333" stroke-width="1"/>
<rect x="321.1" y="328.4" width="8.70" height="8.00" fill="#000" stroke="none" stroke-width="1"/>
<text x="331.6" y="314.0" font-size="10.5" font-weight="bold" fill="#141414" stroke="#141414" stroke-width="0.25" text-anchor="start" textLength="37.0" lengthAdjust="spacingAndGlyphs">ZPD (-)</text>
<text x="331.6" y="335.8" font-size="10.5" font-weight="bold" fill="#141414" stroke="#141414" stroke-width="0.25" text-anchor="start" textLength="39.2" lengthAdjust="spacingAndGlyphs">ZPD (+)</text>
<text x="392.1" y="231.1" font-size="16.6" font-weight="bold" fill="#141414" stroke="#141414" stroke-width="0.25" text-anchor="start" textLength="11.8" lengthAdjust="spacingAndGlyphs">D</text>
<line x1="441.0" y1="232.7" x2="441.0" y2="358.8" stroke="#333" stroke-width="1.2"/>
<line x1="440.4" y1="358.5" x2="544.6" y2="358.5" stroke="#333" stroke-width="1.2"/>
<line x1="437.3" y1="239.7" x2="441.0" y2="239.7" stroke="#333" stroke-width="1.1"/>
<text x="435.6" y="243.8" font-size="11.5" fill="#5e5e5e" stroke="#5e5e5e" stroke-width="0.2" text-anchor="end" textLength="18.4" lengthAdjust="spacingAndGlyphs">200</text>
<line x1="437.3" y1="269.7" x2="441.0" y2="269.7" stroke="#333" stroke-width="1.1"/>
<text x="435.6" y="273.8" font-size="11.5" fill="#5e5e5e" stroke="#5e5e5e" stroke-width="0.2" text-anchor="end" textLength="18.4" lengthAdjust="spacingAndGlyphs">150</text>
<line x1="437.3" y1="299.7" x2="441.0" y2="299.7" stroke="#333" stroke-width="1.1"/>
<text x="435.6" y="303.8" font-size="11.5" fill="#5e5e5e" stroke="#5e5e5e" stroke-width="0.2" text-anchor="end" textLength="18.4" lengthAdjust="spacingAndGlyphs">100</text>
<line x1="437.3" y1="329.8" x2="441.0" y2="329.8" stroke="#333" stroke-width="1.1"/>
<text x="435.6" y="333.9" font-size="11.5" fill="#5e5e5e" stroke="#5e5e5e" stroke-width="0.2" text-anchor="end" textLength="12.6" lengthAdjust="spacingAndGlyphs">50</text>
<line x1="469.3" y1="358.5" x2="469.3" y2="361.1" stroke="#333" stroke-width="1.1"/>
<line x1="516.8" y1="358.5" x2="516.8" y2="361.1" stroke="#333" stroke-width="1.1"/>
<text x="459.0" y="372.0" font-size="11.2" font-weight="bold" fill="#444" stroke="#444" stroke-width="0.25" text-anchor="start" textLength="19.8" lengthAdjust="spacingAndGlyphs">p10</text>
<text x="506.4" y="372.0" font-size="11.2" font-weight="bold" fill="#444" stroke="#444" stroke-width="0.25" text-anchor="start" textLength="19.8" lengthAdjust="spacingAndGlyphs">p60</text>
<text stroke="#141414" stroke-width="0.25" transform="translate(412.0,297.4) rotate(-90)" x="0" y="0" font-size="10.6" font-weight="bold" fill="#141414" text-anchor="middle" textLength="83.0" lengthAdjust="spacingAndGlyphs">Decay time (ms)</text>
<line x1="469.3" y1="315.2" x2="469.3" y2="327.0" stroke="#333" stroke-width="1"/>
<line x1="469.3" y1="339.7" x2="469.3" y2="352.9" stroke="#333" stroke-width="1"/>
<rect x="453.2" y="327.0" width="33.20" height="12.70" fill="#fe1212" stroke="#333" stroke-width="1"/>
<line x1="453.2" y1="334.9" x2="486.4" y2="334.9" stroke="#333" stroke-width="2"/>
<line x1="516.8" y1="272.9" x2="516.8" y2="307.7" stroke="#333" stroke-width="1"/>
<line x1="516.8" y1="331.8" x2="516.8" y2="344.0" stroke="#333" stroke-width="1"/>
<rect x="500.1" y="307.7" width="32.90" height="24.10" fill="#0480be" stroke="#333" stroke-width="1"/>
<line x1="500.1" y1="325.3" x2="533.0" y2="325.3" stroke="#333" stroke-width="2"/>
<circle cx="469.3" cy="238.5" r="1.7" fill="#000"/>
<circle cx="516.6" cy="242.9" r="1.7" fill="#000"/>
<circle cx="516.6" cy="257.1" r="1.7" fill="#000"/>
<line x1="468.0" y1="232.3" x2="513.8" y2="232.3" stroke="#000" stroke-width="1.6"/>
<line x1="486.5" y1="223.3" x2="486.5" y2="228.7" stroke="#111" stroke-width="1.2"/>
<line x1="484.16" y1="224.65" x2="488.84" y2="227.35" stroke="#111" stroke-width="1.2"/>
<line x1="488.84" y1="224.65" x2="484.16" y2="227.35" stroke="#111" stroke-width="1.2"/>
<line x1="493.3" y1="223.3" x2="493.3" y2="228.7" stroke="#111" stroke-width="1.2"/>
<line x1="490.96" y1="224.65" x2="495.64" y2="227.35" stroke="#111" stroke-width="1.2"/>
<line x1="495.64" y1="224.65" x2="490.96" y2="227.35" stroke="#111" stroke-width="1.2"/>
</g></svg>
</body></html>
